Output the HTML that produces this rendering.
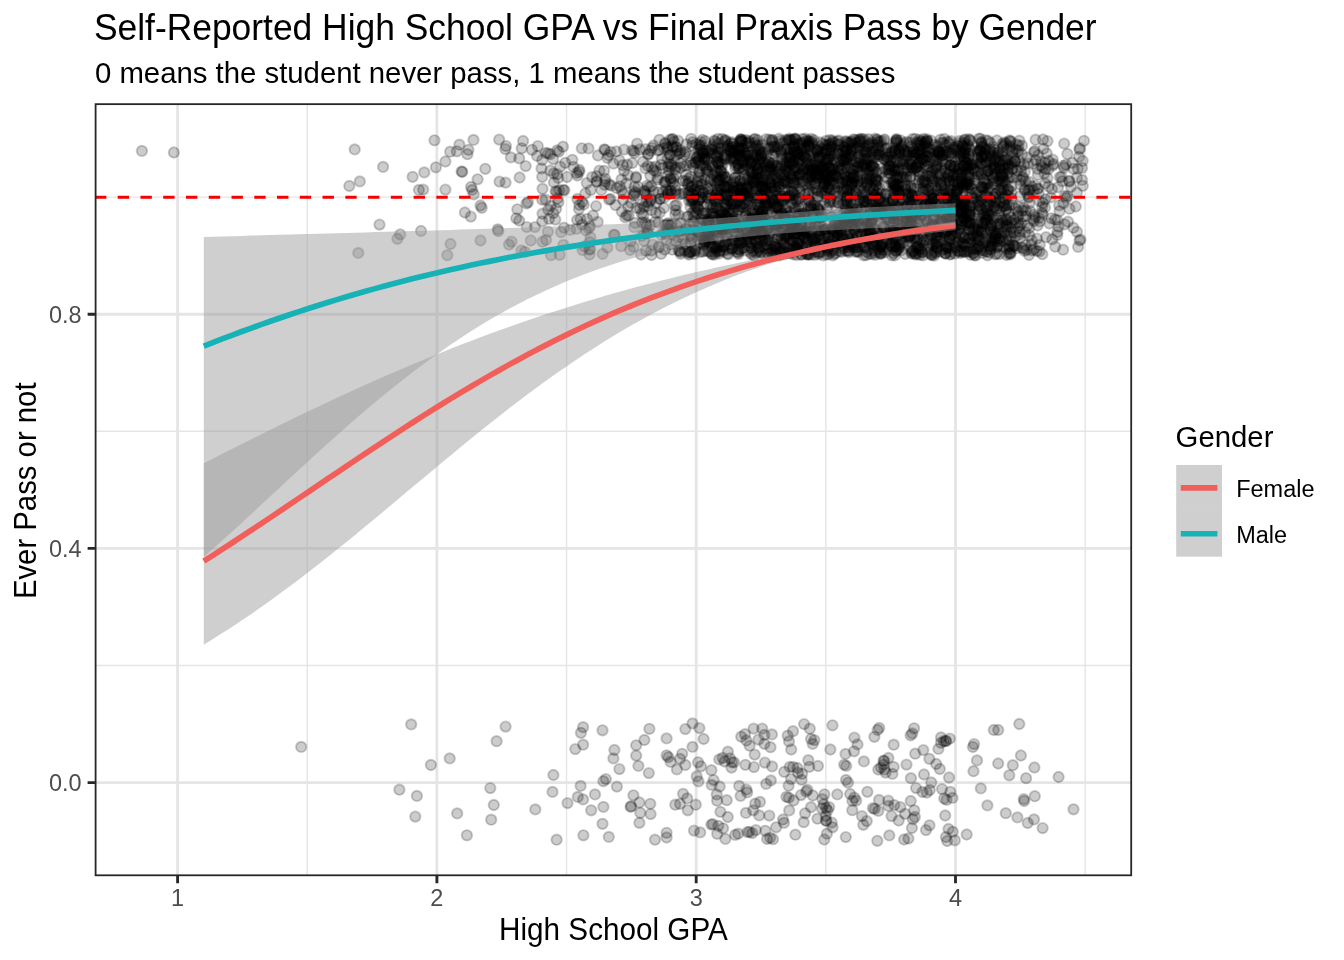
<!DOCTYPE html><html><head><meta charset="utf-8"><style>html,body{margin:0;padding:0;background:#fff;} #w{will-change:transform;width:1344px;height:960px;}svg{display:block;font-family:"Liberation Sans",sans-serif;}</style></head><body><div id="w"><svg width="1344" height="960" viewBox="0 0 1344 960"><defs><clipPath id="pc"><rect x="94.95" y="103.4" width="1036.95" height="772.40"/></clipPath></defs><rect width="1344" height="960" fill="#fff"/><text transform="translate(93.9,39.8) scale(1,1.04)" font-size="35.4" fill="#000">Self-Reported High School GPA vs Final Praxis Pass by Gender</text><text transform="translate(94.95,83) scale(1,1.03)" font-size="29.33" fill="#000">0 means the student never pass, 1 means the student passes</text><g clip-path="url(#pc)"><path d="M94.95,665.50H1131.9M94.95,431.30H1131.9M94.95,197.10H1131.9M307.25,103.4V875.8M566.55,103.4V875.8M825.85,103.4V875.8M1085.15,103.4V875.8" stroke="#E5E5E5" stroke-width="1.42" fill="none"/><path d="M94.95,782.60H1131.9M94.95,548.40H1131.9M94.95,314.20H1131.9M177.60,103.4V875.8M436.90,103.4V875.8M696.20,103.4V875.8M955.50,103.4V875.8" stroke="#E5E5E5" stroke-width="2.85" fill="none"/><g fill="#000" fill-opacity="0.2" stroke="#000" stroke-opacity="0.2" stroke-width="1.89"><circle cx="993.6" cy="197.4" r="5.21"/><circle cx="815.6" cy="225.8" r="5.21"/><circle cx="851.7" cy="223.3" r="5.21"/><circle cx="733.9" cy="187.1" r="5.21"/><circle cx="771.8" cy="163.7" r="5.21"/><circle cx="869.3" cy="231.3" r="5.21"/><circle cx="922.5" cy="792.0" r="5.21"/><circle cx="872.6" cy="175.1" r="5.21"/><circle cx="727.8" cy="146.4" r="5.21"/><circle cx="674.7" cy="205.7" r="5.21"/><circle cx="835.4" cy="223.7" r="5.21"/><circle cx="776.5" cy="196.1" r="5.21"/><circle cx="889.3" cy="235.0" r="5.21"/><circle cx="866.8" cy="159.7" r="5.21"/><circle cx="939.2" cy="151.5" r="5.21"/><circle cx="761.1" cy="193.4" r="5.21"/><circle cx="880.8" cy="209.8" r="5.21"/><circle cx="925.0" cy="204.5" r="5.21"/><circle cx="725.5" cy="140.1" r="5.21"/><circle cx="706.9" cy="170.1" r="5.21"/><circle cx="861.2" cy="226.9" r="5.21"/><circle cx="980.8" cy="163.9" r="5.21"/><circle cx="795.0" cy="222.1" r="5.21"/><circle cx="941.4" cy="142.8" r="5.21"/><circle cx="742.6" cy="230.9" r="5.21"/><circle cx="783.6" cy="229.6" r="5.21"/><circle cx="876.2" cy="181.8" r="5.21"/><circle cx="808.3" cy="760.2" r="5.21"/><circle cx="597.7" cy="221.9" r="5.21"/><circle cx="863.6" cy="255.4" r="5.21"/><circle cx="701.1" cy="236.6" r="5.21"/><circle cx="766.1" cy="166.7" r="5.21"/><circle cx="860.3" cy="246.9" r="5.21"/><circle cx="910.4" cy="200.0" r="5.21"/><circle cx="653.3" cy="191.1" r="5.21"/><circle cx="839.0" cy="181.5" r="5.21"/><circle cx="738.8" cy="147.7" r="5.21"/><circle cx="666.6" cy="832.8" r="5.21"/><circle cx="751.6" cy="172.3" r="5.21"/><circle cx="878.4" cy="148.0" r="5.21"/><circle cx="770.1" cy="167.6" r="5.21"/><circle cx="999.5" cy="167.9" r="5.21"/><circle cx="609.1" cy="199.7" r="5.21"/><circle cx="944.8" cy="235.8" r="5.21"/><circle cx="951.7" cy="194.8" r="5.21"/><circle cx="962.6" cy="242.5" r="5.21"/><circle cx="694.1" cy="253.9" r="5.21"/><circle cx="605.9" cy="779.1" r="5.21"/><circle cx="843.0" cy="204.2" r="5.21"/><circle cx="970.2" cy="238.8" r="5.21"/><circle cx="849.2" cy="242.9" r="5.21"/><circle cx="981.3" cy="173.7" r="5.21"/><circle cx="805.7" cy="183.6" r="5.21"/><circle cx="879.0" cy="198.8" r="5.21"/><circle cx="570.2" cy="229.9" r="5.21"/><circle cx="696.6" cy="156.7" r="5.21"/><circle cx="889.0" cy="217.8" r="5.21"/><circle cx="893.3" cy="157.2" r="5.21"/><circle cx="573.4" cy="166.9" r="5.21"/><circle cx="688.8" cy="182.1" r="5.21"/><circle cx="719.3" cy="759.4" r="5.21"/><circle cx="806.3" cy="153.4" r="5.21"/><circle cx="749.6" cy="142.7" r="5.21"/><circle cx="677.2" cy="151.0" r="5.21"/><circle cx="695.1" cy="205.9" r="5.21"/><circle cx="749.9" cy="167.1" r="5.21"/><circle cx="1007.9" cy="158.6" r="5.21"/><circle cx="907.4" cy="213.1" r="5.21"/><circle cx="896.0" cy="236.5" r="5.21"/><circle cx="796.8" cy="199.3" r="5.21"/><circle cx="1034.8" cy="796.2" r="5.21"/><circle cx="696.2" cy="212.4" r="5.21"/><circle cx="898.0" cy="185.5" r="5.21"/><circle cx="1007.9" cy="172.7" r="5.21"/><circle cx="988.7" cy="204.8" r="5.21"/><circle cx="435.9" cy="167.3" r="5.21"/><circle cx="778.4" cy="148.8" r="5.21"/><circle cx="745.0" cy="153.1" r="5.21"/><circle cx="822.6" cy="244.1" r="5.21"/><circle cx="899.7" cy="177.9" r="5.21"/><circle cx="741.8" cy="186.6" r="5.21"/><circle cx="944.5" cy="190.0" r="5.21"/><circle cx="668.1" cy="194.2" r="5.21"/><circle cx="732.6" cy="247.9" r="5.21"/><circle cx="965.7" cy="183.3" r="5.21"/><circle cx="911.8" cy="253.6" r="5.21"/><circle cx="918.6" cy="246.6" r="5.21"/><circle cx="624.0" cy="149.6" r="5.21"/><circle cx="864.7" cy="247.5" r="5.21"/><circle cx="988.6" cy="203.0" r="5.21"/><circle cx="743.4" cy="195.2" r="5.21"/><circle cx="800.5" cy="224.2" r="5.21"/><circle cx="1002.9" cy="198.2" r="5.21"/><circle cx="795.8" cy="208.7" r="5.21"/><circle cx="765.5" cy="189.7" r="5.21"/><circle cx="599.4" cy="170.6" r="5.21"/><circle cx="549.1" cy="218.8" r="5.21"/><circle cx="886.8" cy="147.8" r="5.21"/><circle cx="904.6" cy="152.2" r="5.21"/><circle cx="767.3" cy="213.3" r="5.21"/><circle cx="770.7" cy="244.6" r="5.21"/><circle cx="893.0" cy="215.1" r="5.21"/><circle cx="847.2" cy="159.6" r="5.21"/><circle cx="892.9" cy="201.0" r="5.21"/><circle cx="906.0" cy="219.6" r="5.21"/><circle cx="920.5" cy="141.9" r="5.21"/><circle cx="911.7" cy="251.0" r="5.21"/><circle cx="832.9" cy="159.5" r="5.21"/><circle cx="937.4" cy="189.3" r="5.21"/><circle cx="961.4" cy="183.6" r="5.21"/><circle cx="784.6" cy="223.6" r="5.21"/><circle cx="659.1" cy="247.3" r="5.21"/><circle cx="981.1" cy="198.9" r="5.21"/><circle cx="988.3" cy="170.6" r="5.21"/><circle cx="953.9" cy="215.0" r="5.21"/><circle cx="764.4" cy="203.5" r="5.21"/><circle cx="849.4" cy="142.8" r="5.21"/><circle cx="995.4" cy="193.8" r="5.21"/><circle cx="864.5" cy="149.8" r="5.21"/><circle cx="813.2" cy="213.2" r="5.21"/><circle cx="965.1" cy="237.9" r="5.21"/><circle cx="996.2" cy="234.0" r="5.21"/><circle cx="1036.8" cy="251.0" r="5.21"/><circle cx="916.5" cy="166.8" r="5.21"/><circle cx="848.0" cy="782.6" r="5.21"/><circle cx="957.0" cy="190.3" r="5.21"/><circle cx="985.4" cy="239.2" r="5.21"/><circle cx="717.2" cy="192.3" r="5.21"/><circle cx="639.4" cy="822.8" r="5.21"/><circle cx="647.4" cy="233.3" r="5.21"/><circle cx="955.9" cy="211.5" r="5.21"/><circle cx="548.0" cy="153.4" r="5.21"/><circle cx="678.8" cy="231.6" r="5.21"/><circle cx="902.5" cy="145.4" r="5.21"/><circle cx="579.4" cy="170.0" r="5.21"/><circle cx="778.5" cy="235.5" r="5.21"/><circle cx="732.8" cy="156.4" r="5.21"/><circle cx="738.3" cy="209.9" r="5.21"/><circle cx="803.6" cy="235.1" r="5.21"/><circle cx="812.3" cy="144.4" r="5.21"/><circle cx="893.7" cy="184.1" r="5.21"/><circle cx="691.9" cy="200.0" r="5.21"/><circle cx="702.4" cy="139.8" r="5.21"/><circle cx="876.0" cy="155.8" r="5.21"/><circle cx="822.0" cy="179.5" r="5.21"/><circle cx="982.3" cy="232.2" r="5.21"/><circle cx="1006.3" cy="248.9" r="5.21"/><circle cx="863.6" cy="245.4" r="5.21"/><circle cx="910.4" cy="224.4" r="5.21"/><circle cx="613.8" cy="234.8" r="5.21"/><circle cx="848.4" cy="184.0" r="5.21"/><circle cx="971.3" cy="202.4" r="5.21"/><circle cx="853.3" cy="179.4" r="5.21"/><circle cx="869.4" cy="189.2" r="5.21"/><circle cx="964.7" cy="150.8" r="5.21"/><circle cx="1051.2" cy="218.3" r="5.21"/><circle cx="809.6" cy="183.1" r="5.21"/><circle cx="895.9" cy="142.9" r="5.21"/><circle cx="824.9" cy="241.3" r="5.21"/><circle cx="774.7" cy="224.2" r="5.21"/><circle cx="738.5" cy="201.3" r="5.21"/><circle cx="945.8" cy="246.0" r="5.21"/><circle cx="1065.8" cy="164.6" r="5.21"/><circle cx="987.7" cy="184.0" r="5.21"/><circle cx="816.3" cy="190.0" r="5.21"/><circle cx="957.4" cy="242.6" r="5.21"/><circle cx="525.7" cy="166.1" r="5.21"/><circle cx="621.7" cy="190.4" r="5.21"/><circle cx="819.6" cy="156.9" r="5.21"/><circle cx="846.3" cy="198.0" r="5.21"/><circle cx="1059.2" cy="205.3" r="5.21"/><circle cx="947.2" cy="841.0" r="5.21"/><circle cx="905.8" cy="190.0" r="5.21"/><circle cx="825.5" cy="192.4" r="5.21"/><circle cx="862.1" cy="171.5" r="5.21"/><circle cx="445.4" cy="189.6" r="5.21"/><circle cx="859.9" cy="139.0" r="5.21"/><circle cx="816.5" cy="246.2" r="5.21"/><circle cx="860.6" cy="162.5" r="5.21"/><circle cx="842.8" cy="246.0" r="5.21"/><circle cx="790.4" cy="226.2" r="5.21"/><circle cx="946.2" cy="204.3" r="5.21"/><circle cx="985.5" cy="231.1" r="5.21"/><circle cx="763.3" cy="221.8" r="5.21"/><circle cx="1055.3" cy="246.7" r="5.21"/><circle cx="756.2" cy="252.9" r="5.21"/><circle cx="831.6" cy="228.8" r="5.21"/><circle cx="869.1" cy="176.1" r="5.21"/><circle cx="691.0" cy="187.1" r="5.21"/><circle cx="950.4" cy="218.7" r="5.21"/><circle cx="698.5" cy="232.3" r="5.21"/><circle cx="901.2" cy="191.8" r="5.21"/><circle cx="885.6" cy="772.6" r="5.21"/><circle cx="693.9" cy="217.0" r="5.21"/><circle cx="826.3" cy="214.5" r="5.21"/><circle cx="825.2" cy="246.3" r="5.21"/><circle cx="977.9" cy="174.8" r="5.21"/><circle cx="876.7" cy="211.1" r="5.21"/><circle cx="764.4" cy="234.7" r="5.21"/><circle cx="610.6" cy="151.9" r="5.21"/><circle cx="958.8" cy="213.1" r="5.21"/><circle cx="937.2" cy="235.5" r="5.21"/><circle cx="950.1" cy="227.6" r="5.21"/><circle cx="778.4" cy="180.4" r="5.21"/><circle cx="994.8" cy="238.5" r="5.21"/><circle cx="734.7" cy="159.0" r="5.21"/><circle cx="889.7" cy="159.9" r="5.21"/><circle cx="953.1" cy="149.4" r="5.21"/><circle cx="670.5" cy="244.3" r="5.21"/><circle cx="1001.2" cy="176.5" r="5.21"/><circle cx="886.8" cy="239.8" r="5.21"/><circle cx="738.1" cy="249.1" r="5.21"/><circle cx="716.8" cy="251.3" r="5.21"/><circle cx="664.9" cy="249.6" r="5.21"/><circle cx="805.1" cy="238.0" r="5.21"/><circle cx="835.4" cy="176.1" r="5.21"/><circle cx="831.8" cy="239.8" r="5.21"/><circle cx="692.3" cy="237.8" r="5.21"/><circle cx="491.2" cy="819.7" r="5.21"/><circle cx="808.1" cy="200.1" r="5.21"/><circle cx="752.9" cy="159.6" r="5.21"/><circle cx="872.8" cy="164.6" r="5.21"/><circle cx="977.8" cy="231.6" r="5.21"/><circle cx="854.7" cy="219.0" r="5.21"/><circle cx="1015.4" cy="208.6" r="5.21"/><circle cx="772.1" cy="766.4" r="5.21"/><circle cx="719.5" cy="253.4" r="5.21"/><circle cx="679.5" cy="194.4" r="5.21"/><circle cx="946.8" cy="230.6" r="5.21"/><circle cx="741.0" cy="193.9" r="5.21"/><circle cx="731.8" cy="200.9" r="5.21"/><circle cx="577.3" cy="199.0" r="5.21"/><circle cx="993.7" cy="147.1" r="5.21"/><circle cx="835.1" cy="191.5" r="5.21"/><circle cx="1010.1" cy="232.9" r="5.21"/><circle cx="822.9" cy="144.0" r="5.21"/><circle cx="1005.3" cy="182.7" r="5.21"/><circle cx="913.2" cy="200.8" r="5.21"/><circle cx="506.0" cy="146.1" r="5.21"/><circle cx="1022.3" cy="210.7" r="5.21"/><circle cx="718.0" cy="152.6" r="5.21"/><circle cx="709.2" cy="151.3" r="5.21"/><circle cx="769.0" cy="203.0" r="5.21"/><circle cx="707.8" cy="196.3" r="5.21"/><circle cx="824.4" cy="794.3" r="5.21"/><circle cx="915.5" cy="166.4" r="5.21"/><circle cx="635.1" cy="192.8" r="5.21"/><circle cx="771.4" cy="166.0" r="5.21"/><circle cx="700.9" cy="766.3" r="5.21"/><circle cx="989.3" cy="215.1" r="5.21"/><circle cx="764.9" cy="238.3" r="5.21"/><circle cx="989.9" cy="154.4" r="5.21"/><circle cx="830.8" cy="143.9" r="5.21"/><circle cx="815.2" cy="213.5" r="5.21"/><circle cx="636.5" cy="207.8" r="5.21"/><circle cx="879.0" cy="249.4" r="5.21"/><circle cx="982.6" cy="223.0" r="5.21"/><circle cx="790.6" cy="227.5" r="5.21"/><circle cx="994.4" cy="206.8" r="5.21"/><circle cx="761.4" cy="215.0" r="5.21"/><circle cx="717.9" cy="229.2" r="5.21"/><circle cx="688.4" cy="184.9" r="5.21"/><circle cx="582.5" cy="250.1" r="5.21"/><circle cx="731.4" cy="157.8" r="5.21"/><circle cx="558.3" cy="178.0" r="5.21"/><circle cx="676.9" cy="769.4" r="5.21"/><circle cx="689.9" cy="191.2" r="5.21"/><circle cx="876.4" cy="241.8" r="5.21"/><circle cx="830.1" cy="153.1" r="5.21"/><circle cx="864.6" cy="196.1" r="5.21"/><circle cx="792.1" cy="140.0" r="5.21"/><circle cx="725.0" cy="140.4" r="5.21"/><circle cx="776.8" cy="225.3" r="5.21"/><circle cx="833.3" cy="170.2" r="5.21"/><circle cx="799.3" cy="187.4" r="5.21"/><circle cx="747.4" cy="204.5" r="5.21"/><circle cx="581.8" cy="148.3" r="5.21"/><circle cx="719.4" cy="215.5" r="5.21"/><circle cx="1002.3" cy="155.5" r="5.21"/><circle cx="774.2" cy="200.4" r="5.21"/><circle cx="955.0" cy="253.5" r="5.21"/><circle cx="898.9" cy="201.5" r="5.21"/><circle cx="923.3" cy="153.0" r="5.21"/><circle cx="794.4" cy="138.8" r="5.21"/><circle cx="996.6" cy="253.5" r="5.21"/><circle cx="962.7" cy="203.4" r="5.21"/><circle cx="852.6" cy="178.0" r="5.21"/><circle cx="670.6" cy="225.8" r="5.21"/><circle cx="926.6" cy="206.3" r="5.21"/><circle cx="933.2" cy="168.1" r="5.21"/><circle cx="818.4" cy="236.9" r="5.21"/><circle cx="850.8" cy="151.3" r="5.21"/><circle cx="557.6" cy="198.5" r="5.21"/><circle cx="812.2" cy="168.0" r="5.21"/><circle cx="692.6" cy="142.2" r="5.21"/><circle cx="805.8" cy="227.4" r="5.21"/><circle cx="847.0" cy="197.0" r="5.21"/><circle cx="553.7" cy="173.5" r="5.21"/><circle cx="761.7" cy="226.1" r="5.21"/><circle cx="783.2" cy="196.2" r="5.21"/><circle cx="703.9" cy="240.9" r="5.21"/><circle cx="718.8" cy="199.5" r="5.21"/><circle cx="803.6" cy="184.8" r="5.21"/><circle cx="951.8" cy="226.4" r="5.21"/><circle cx="886.4" cy="217.0" r="5.21"/><circle cx="920.3" cy="144.4" r="5.21"/><circle cx="814.5" cy="244.4" r="5.21"/><circle cx="900.5" cy="140.3" r="5.21"/><circle cx="977.7" cy="171.8" r="5.21"/><circle cx="897.8" cy="207.2" r="5.21"/><circle cx="721.9" cy="195.2" r="5.21"/><circle cx="871.3" cy="165.8" r="5.21"/><circle cx="1015.6" cy="149.6" r="5.21"/><circle cx="760.2" cy="240.5" r="5.21"/><circle cx="894.7" cy="231.7" r="5.21"/><circle cx="833.5" cy="236.3" r="5.21"/><circle cx="789.4" cy="233.6" r="5.21"/><circle cx="874.7" cy="808.9" r="5.21"/><circle cx="790.4" cy="253.1" r="5.21"/><circle cx="665.5" cy="234.1" r="5.21"/><circle cx="946.9" cy="197.9" r="5.21"/><circle cx="722.0" cy="211.5" r="5.21"/><circle cx="750.8" cy="247.9" r="5.21"/><circle cx="874.1" cy="167.4" r="5.21"/><circle cx="743.5" cy="207.9" r="5.21"/><circle cx="742.6" cy="140.6" r="5.21"/><circle cx="981.1" cy="143.0" r="5.21"/><circle cx="743.8" cy="150.1" r="5.21"/><circle cx="461.6" cy="171.4" r="5.21"/><circle cx="619.8" cy="186.3" r="5.21"/><circle cx="771.3" cy="253.4" r="5.21"/><circle cx="916.0" cy="243.2" r="5.21"/><circle cx="936.6" cy="248.6" r="5.21"/><circle cx="776.4" cy="177.4" r="5.21"/><circle cx="811.9" cy="172.8" r="5.21"/><circle cx="954.7" cy="231.6" r="5.21"/><circle cx="789.6" cy="162.7" r="5.21"/><circle cx="739.8" cy="250.6" r="5.21"/><circle cx="796.9" cy="232.4" r="5.21"/><circle cx="844.6" cy="146.8" r="5.21"/><circle cx="485.3" cy="168.8" r="5.21"/><circle cx="1024.2" cy="801.0" r="5.21"/><circle cx="931.8" cy="178.5" r="5.21"/><circle cx="745.4" cy="764.8" r="5.21"/><circle cx="717.3" cy="182.3" r="5.21"/><circle cx="907.5" cy="170.8" r="5.21"/><circle cx="893.3" cy="225.9" r="5.21"/><circle cx="735.4" cy="153.1" r="5.21"/><circle cx="651.3" cy="186.3" r="5.21"/><circle cx="981.6" cy="174.0" r="5.21"/><circle cx="960.4" cy="246.5" r="5.21"/><circle cx="902.8" cy="177.3" r="5.21"/><circle cx="647.2" cy="185.6" r="5.21"/><circle cx="912.3" cy="733.4" r="5.21"/><circle cx="621.8" cy="211.5" r="5.21"/><circle cx="1029.4" cy="235.4" r="5.21"/><circle cx="735.2" cy="181.6" r="5.21"/><circle cx="985.3" cy="217.3" r="5.21"/><circle cx="943.4" cy="143.0" r="5.21"/><circle cx="746.5" cy="156.0" r="5.21"/><circle cx="983.4" cy="188.5" r="5.21"/><circle cx="890.0" cy="228.0" r="5.21"/><circle cx="683.3" cy="239.2" r="5.21"/><circle cx="962.7" cy="145.9" r="5.21"/><circle cx="865.4" cy="173.9" r="5.21"/><circle cx="854.6" cy="229.8" r="5.21"/><circle cx="817.8" cy="208.6" r="5.21"/><circle cx="891.5" cy="816.1" r="5.21"/><circle cx="680.0" cy="152.6" r="5.21"/><circle cx="823.7" cy="186.8" r="5.21"/><circle cx="547.9" cy="231.7" r="5.21"/><circle cx="1008.2" cy="189.3" r="5.21"/><circle cx="796.5" cy="248.5" r="5.21"/><circle cx="818.4" cy="155.2" r="5.21"/><circle cx="909.8" cy="237.3" r="5.21"/><circle cx="827.4" cy="187.5" r="5.21"/><circle cx="990.9" cy="168.2" r="5.21"/><circle cx="646.4" cy="224.6" r="5.21"/><circle cx="718.4" cy="151.7" r="5.21"/><circle cx="1042.6" cy="828.1" r="5.21"/><circle cx="801.9" cy="142.8" r="5.21"/><circle cx="715.9" cy="249.2" r="5.21"/><circle cx="918.2" cy="195.7" r="5.21"/><circle cx="855.3" cy="192.0" r="5.21"/><circle cx="752.6" cy="174.2" r="5.21"/><circle cx="704.1" cy="239.4" r="5.21"/><circle cx="590.7" cy="190.1" r="5.21"/><circle cx="661.2" cy="253.8" r="5.21"/><circle cx="741.1" cy="225.8" r="5.21"/><circle cx="567.5" cy="803.1" r="5.21"/><circle cx="860.8" cy="233.3" r="5.21"/><circle cx="773.9" cy="246.4" r="5.21"/><circle cx="845.7" cy="150.9" r="5.21"/><circle cx="799.2" cy="213.8" r="5.21"/><circle cx="988.7" cy="238.7" r="5.21"/><circle cx="715.9" cy="195.1" r="5.21"/><circle cx="932.6" cy="198.3" r="5.21"/><circle cx="707.1" cy="204.3" r="5.21"/><circle cx="926.7" cy="156.7" r="5.21"/><circle cx="807.9" cy="253.4" r="5.21"/><circle cx="826.1" cy="181.1" r="5.21"/><circle cx="810.6" cy="166.9" r="5.21"/><circle cx="894.4" cy="171.1" r="5.21"/><circle cx="717.4" cy="172.0" r="5.21"/><circle cx="762.4" cy="228.6" r="5.21"/><circle cx="781.9" cy="196.3" r="5.21"/><circle cx="812.7" cy="218.1" r="5.21"/><circle cx="852.2" cy="182.9" r="5.21"/><circle cx="652.5" cy="244.6" r="5.21"/><circle cx="695.8" cy="804.7" r="5.21"/><circle cx="945.6" cy="198.3" r="5.21"/><circle cx="714.7" cy="254.6" r="5.21"/><circle cx="1008.8" cy="245.1" r="5.21"/><circle cx="1012.8" cy="765.2" r="5.21"/><circle cx="1020.8" cy="180.3" r="5.21"/><circle cx="741.3" cy="139.6" r="5.21"/><circle cx="871.6" cy="142.6" r="5.21"/><circle cx="722.7" cy="757.9" r="5.21"/><circle cx="864.4" cy="201.1" r="5.21"/><circle cx="993.6" cy="184.0" r="5.21"/><circle cx="873.7" cy="145.0" r="5.21"/><circle cx="848.3" cy="177.4" r="5.21"/><circle cx="882.6" cy="151.6" r="5.21"/><circle cx="882.4" cy="242.8" r="5.21"/><circle cx="892.3" cy="243.1" r="5.21"/><circle cx="925.0" cy="204.5" r="5.21"/><circle cx="1008.7" cy="253.6" r="5.21"/><circle cx="755.2" cy="803.7" r="5.21"/><circle cx="614.7" cy="234.8" r="5.21"/><circle cx="964.2" cy="218.6" r="5.21"/><circle cx="753.2" cy="182.6" r="5.21"/><circle cx="848.6" cy="154.7" r="5.21"/><circle cx="719.7" cy="786.5" r="5.21"/><circle cx="966.4" cy="167.1" r="5.21"/><circle cx="970.2" cy="184.8" r="5.21"/><circle cx="851.7" cy="141.3" r="5.21"/><circle cx="920.2" cy="240.6" r="5.21"/><circle cx="773.4" cy="225.3" r="5.21"/><circle cx="740.3" cy="193.4" r="5.21"/><circle cx="742.2" cy="141.4" r="5.21"/><circle cx="997.7" cy="246.5" r="5.21"/><circle cx="976.2" cy="249.2" r="5.21"/><circle cx="974.1" cy="744.1" r="5.21"/><circle cx="813.9" cy="209.1" r="5.21"/><circle cx="956.3" cy="190.8" r="5.21"/><circle cx="887.6" cy="169.2" r="5.21"/><circle cx="894.2" cy="218.6" r="5.21"/><circle cx="944.2" cy="190.0" r="5.21"/><circle cx="809.0" cy="216.2" r="5.21"/><circle cx="762.4" cy="241.7" r="5.21"/><circle cx="774.2" cy="207.2" r="5.21"/><circle cx="966.2" cy="252.1" r="5.21"/><circle cx="799.2" cy="198.4" r="5.21"/><circle cx="823.7" cy="175.0" r="5.21"/><circle cx="664.8" cy="182.6" r="5.21"/><circle cx="941.4" cy="185.5" r="5.21"/><circle cx="980.9" cy="175.2" r="5.21"/><circle cx="803.3" cy="237.9" r="5.21"/><circle cx="801.8" cy="150.5" r="5.21"/><circle cx="839.6" cy="183.1" r="5.21"/><circle cx="930.6" cy="234.8" r="5.21"/><circle cx="931.8" cy="255.1" r="5.21"/><circle cx="915.4" cy="138.8" r="5.21"/><circle cx="899.9" cy="161.7" r="5.21"/><circle cx="805.8" cy="158.7" r="5.21"/><circle cx="887.3" cy="157.8" r="5.21"/><circle cx="972.6" cy="198.7" r="5.21"/><circle cx="812.3" cy="238.4" r="5.21"/><circle cx="773.0" cy="839.2" r="5.21"/><circle cx="876.8" cy="192.6" r="5.21"/><circle cx="960.1" cy="152.7" r="5.21"/><circle cx="988.2" cy="171.7" r="5.21"/><circle cx="916.2" cy="167.7" r="5.21"/><circle cx="866.2" cy="234.8" r="5.21"/><circle cx="765.3" cy="193.4" r="5.21"/><circle cx="713.0" cy="213.7" r="5.21"/><circle cx="748.5" cy="201.7" r="5.21"/><circle cx="860.8" cy="185.3" r="5.21"/><circle cx="999.8" cy="189.4" r="5.21"/><circle cx="787.8" cy="171.1" r="5.21"/><circle cx="866.4" cy="202.5" r="5.21"/><circle cx="967.8" cy="251.2" r="5.21"/><circle cx="858.3" cy="162.7" r="5.21"/><circle cx="955.9" cy="166.3" r="5.21"/><circle cx="979.4" cy="240.0" r="5.21"/><circle cx="732.9" cy="211.8" r="5.21"/><circle cx="788.6" cy="172.0" r="5.21"/><circle cx="822.4" cy="799.1" r="5.21"/><circle cx="907.1" cy="228.1" r="5.21"/><circle cx="556.7" cy="191.9" r="5.21"/><circle cx="772.8" cy="255.6" r="5.21"/><circle cx="913.8" cy="188.8" r="5.21"/><circle cx="887.9" cy="202.5" r="5.21"/><circle cx="945.6" cy="234.6" r="5.21"/><circle cx="973.8" cy="168.7" r="5.21"/><circle cx="972.9" cy="168.2" r="5.21"/><circle cx="694.5" cy="211.1" r="5.21"/><circle cx="869.2" cy="143.8" r="5.21"/><circle cx="750.4" cy="242.2" r="5.21"/><circle cx="739.7" cy="156.0" r="5.21"/><circle cx="870.3" cy="168.4" r="5.21"/><circle cx="904.7" cy="150.8" r="5.21"/><circle cx="770.1" cy="183.7" r="5.21"/><circle cx="682.2" cy="753.8" r="5.21"/><circle cx="857.9" cy="181.7" r="5.21"/><circle cx="806.6" cy="251.5" r="5.21"/><circle cx="942.5" cy="150.5" r="5.21"/><circle cx="903.6" cy="233.4" r="5.21"/><circle cx="926.6" cy="147.9" r="5.21"/><circle cx="882.7" cy="249.7" r="5.21"/><circle cx="989.7" cy="228.7" r="5.21"/><circle cx="807.2" cy="212.1" r="5.21"/><circle cx="779.7" cy="251.6" r="5.21"/><circle cx="797.7" cy="202.1" r="5.21"/><circle cx="978.1" cy="163.4" r="5.21"/><circle cx="964.9" cy="246.5" r="5.21"/><circle cx="847.7" cy="194.5" r="5.21"/><circle cx="837.9" cy="202.6" r="5.21"/><circle cx="1064.2" cy="143.6" r="5.21"/><circle cx="809.3" cy="226.2" r="5.21"/><circle cx="914.4" cy="155.0" r="5.21"/><circle cx="650.3" cy="803.8" r="5.21"/><circle cx="762.2" cy="182.6" r="5.21"/><circle cx="804.2" cy="232.0" r="5.21"/><circle cx="840.7" cy="161.7" r="5.21"/><circle cx="1021.1" cy="170.9" r="5.21"/><circle cx="781.5" cy="233.3" r="5.21"/><circle cx="967.4" cy="164.0" r="5.21"/><circle cx="969.4" cy="238.4" r="5.21"/><circle cx="787.4" cy="237.4" r="5.21"/><circle cx="734.2" cy="221.1" r="5.21"/><circle cx="877.7" cy="242.7" r="5.21"/><circle cx="877.7" cy="145.2" r="5.21"/><circle cx="779.4" cy="193.6" r="5.21"/><circle cx="986.3" cy="155.9" r="5.21"/><circle cx="919.4" cy="155.2" r="5.21"/><circle cx="996.5" cy="225.7" r="5.21"/><circle cx="1012.0" cy="163.1" r="5.21"/><circle cx="790.6" cy="178.7" r="5.21"/><circle cx="901.8" cy="146.3" r="5.21"/><circle cx="727.9" cy="148.2" r="5.21"/><circle cx="704.7" cy="156.5" r="5.21"/><circle cx="1008.1" cy="166.0" r="5.21"/><circle cx="912.0" cy="195.7" r="5.21"/><circle cx="776.7" cy="248.2" r="5.21"/><circle cx="858.0" cy="246.9" r="5.21"/><circle cx="780.7" cy="150.4" r="5.21"/><circle cx="849.6" cy="247.4" r="5.21"/><circle cx="897.8" cy="171.1" r="5.21"/><circle cx="769.9" cy="187.4" r="5.21"/><circle cx="925.0" cy="143.5" r="5.21"/><circle cx="858.0" cy="221.5" r="5.21"/><circle cx="803.8" cy="147.3" r="5.21"/><circle cx="1000.3" cy="203.5" r="5.21"/><circle cx="946.3" cy="172.9" r="5.21"/><circle cx="933.9" cy="220.2" r="5.21"/><circle cx="883.6" cy="764.6" r="5.21"/><circle cx="939.8" cy="769.0" r="5.21"/><circle cx="955.6" cy="147.5" r="5.21"/><circle cx="862.7" cy="151.3" r="5.21"/><circle cx="741.3" cy="242.9" r="5.21"/><circle cx="1015.7" cy="223.0" r="5.21"/><circle cx="955.4" cy="246.8" r="5.21"/><circle cx="925.4" cy="232.8" r="5.21"/><circle cx="754.4" cy="156.8" r="5.21"/><circle cx="1076.9" cy="192.6" r="5.21"/><circle cx="896.5" cy="140.3" r="5.21"/><circle cx="969.2" cy="164.5" r="5.21"/><circle cx="936.9" cy="212.0" r="5.21"/><circle cx="912.7" cy="195.0" r="5.21"/><circle cx="963.9" cy="153.0" r="5.21"/><circle cx="735.2" cy="834.9" r="5.21"/><circle cx="909.0" cy="220.8" r="5.21"/><circle cx="828.8" cy="159.1" r="5.21"/><circle cx="726.4" cy="176.9" r="5.21"/><circle cx="648.1" cy="154.6" r="5.21"/><circle cx="773.3" cy="147.5" r="5.21"/><circle cx="764.7" cy="205.6" r="5.21"/><circle cx="962.2" cy="155.2" r="5.21"/><circle cx="996.9" cy="160.8" r="5.21"/><circle cx="824.0" cy="233.2" r="5.21"/><circle cx="505.6" cy="726.6" r="5.21"/><circle cx="846.2" cy="209.6" r="5.21"/><circle cx="987.2" cy="218.0" r="5.21"/><circle cx="905.2" cy="186.0" r="5.21"/><circle cx="772.1" cy="200.9" r="5.21"/><circle cx="815.1" cy="238.1" r="5.21"/><circle cx="740.3" cy="188.2" r="5.21"/><circle cx="690.7" cy="235.8" r="5.21"/><circle cx="359.8" cy="181.4" r="5.21"/><circle cx="814.3" cy="237.8" r="5.21"/><circle cx="950.5" cy="221.0" r="5.21"/><circle cx="1042.3" cy="254.2" r="5.21"/><circle cx="889.5" cy="155.0" r="5.21"/><circle cx="766.1" cy="244.5" r="5.21"/><circle cx="770.1" cy="171.6" r="5.21"/><circle cx="957.3" cy="204.9" r="5.21"/><circle cx="653.7" cy="145.4" r="5.21"/><circle cx="826.5" cy="162.9" r="5.21"/><circle cx="780.3" cy="252.2" r="5.21"/><circle cx="735.4" cy="157.6" r="5.21"/><circle cx="981.2" cy="230.2" r="5.21"/><circle cx="714.7" cy="252.4" r="5.21"/><circle cx="642.2" cy="203.4" r="5.21"/><circle cx="927.8" cy="212.3" r="5.21"/><circle cx="899.3" cy="234.7" r="5.21"/><circle cx="755.5" cy="187.4" r="5.21"/><circle cx="717.4" cy="189.7" r="5.21"/><circle cx="755.9" cy="830.1" r="5.21"/><circle cx="1002.7" cy="174.3" r="5.21"/><circle cx="806.1" cy="141.6" r="5.21"/><circle cx="992.6" cy="179.0" r="5.21"/><circle cx="906.5" cy="764.6" r="5.21"/><circle cx="929.5" cy="825.3" r="5.21"/><circle cx="998.9" cy="179.6" r="5.21"/><circle cx="981.5" cy="187.6" r="5.21"/><circle cx="614.4" cy="750.0" r="5.21"/><circle cx="783.9" cy="822.9" r="5.21"/><circle cx="675.8" cy="147.1" r="5.21"/><circle cx="964.5" cy="251.4" r="5.21"/><circle cx="686.4" cy="144.3" r="5.21"/><circle cx="783.8" cy="176.3" r="5.21"/><circle cx="756.5" cy="227.3" r="5.21"/><circle cx="924.0" cy="774.5" r="5.21"/><circle cx="835.8" cy="192.7" r="5.21"/><circle cx="902.0" cy="204.2" r="5.21"/><circle cx="955.7" cy="161.8" r="5.21"/><circle cx="884.0" cy="140.6" r="5.21"/><circle cx="809.8" cy="141.0" r="5.21"/><circle cx="775.6" cy="189.8" r="5.21"/><circle cx="1005.9" cy="143.5" r="5.21"/><circle cx="848.7" cy="252.3" r="5.21"/><circle cx="981.2" cy="199.9" r="5.21"/><circle cx="913.5" cy="229.8" r="5.21"/><circle cx="920.0" cy="254.9" r="5.21"/><circle cx="141.9" cy="150.9" r="5.21"/><circle cx="1064.8" cy="195.9" r="5.21"/><circle cx="671.1" cy="164.3" r="5.21"/><circle cx="765.2" cy="255.0" r="5.21"/><circle cx="871.1" cy="155.4" r="5.21"/><circle cx="967.4" cy="176.0" r="5.21"/><circle cx="449.7" cy="758.4" r="5.21"/><circle cx="983.6" cy="155.4" r="5.21"/><circle cx="867.6" cy="147.6" r="5.21"/><circle cx="785.6" cy="217.9" r="5.21"/><circle cx="628.1" cy="175.2" r="5.21"/><circle cx="996.7" cy="208.7" r="5.21"/><circle cx="685.3" cy="729.1" r="5.21"/><circle cx="1044.4" cy="173.3" r="5.21"/><circle cx="788.9" cy="195.6" r="5.21"/><circle cx="590.2" cy="249.3" r="5.21"/><circle cx="648.2" cy="154.0" r="5.21"/><circle cx="732.2" cy="214.0" r="5.21"/><circle cx="897.0" cy="200.6" r="5.21"/><circle cx="778.4" cy="224.1" r="5.21"/><circle cx="939.4" cy="179.7" r="5.21"/><circle cx="1077.8" cy="168.8" r="5.21"/><circle cx="847.1" cy="169.4" r="5.21"/><circle cx="838.0" cy="237.5" r="5.21"/><circle cx="1016.3" cy="176.9" r="5.21"/><circle cx="966.5" cy="206.9" r="5.21"/><circle cx="783.4" cy="214.4" r="5.21"/><circle cx="1043.5" cy="148.7" r="5.21"/><circle cx="839.4" cy="159.7" r="5.21"/><circle cx="972.9" cy="747.0" r="5.21"/><circle cx="911.6" cy="219.3" r="5.21"/><circle cx="908.3" cy="196.3" r="5.21"/><circle cx="845.5" cy="753.9" r="5.21"/><circle cx="870.8" cy="213.7" r="5.21"/><circle cx="809.7" cy="170.2" r="5.21"/><circle cx="498.3" cy="231.2" r="5.21"/><circle cx="887.5" cy="178.3" r="5.21"/><circle cx="736.3" cy="223.4" r="5.21"/><circle cx="701.3" cy="218.4" r="5.21"/><circle cx="930.8" cy="204.2" r="5.21"/><circle cx="967.6" cy="144.6" r="5.21"/><circle cx="736.3" cy="146.3" r="5.21"/><circle cx="815.0" cy="188.1" r="5.21"/><circle cx="978.3" cy="229.2" r="5.21"/><circle cx="1029.2" cy="203.4" r="5.21"/><circle cx="878.0" cy="190.0" r="5.21"/><circle cx="718.5" cy="164.1" r="5.21"/><circle cx="854.1" cy="176.6" r="5.21"/><circle cx="456.8" cy="151.3" r="5.21"/><circle cx="870.2" cy="198.9" r="5.21"/><circle cx="893.7" cy="209.6" r="5.21"/><circle cx="902.5" cy="161.1" r="5.21"/><circle cx="964.7" cy="203.8" r="5.21"/><circle cx="968.7" cy="237.9" r="5.21"/><circle cx="836.2" cy="176.0" r="5.21"/><circle cx="567.0" cy="177.0" r="5.21"/><circle cx="726.9" cy="204.7" r="5.21"/><circle cx="944.2" cy="198.5" r="5.21"/><circle cx="1002.5" cy="180.9" r="5.21"/><circle cx="703.0" cy="153.9" r="5.21"/><circle cx="961.7" cy="197.1" r="5.21"/><circle cx="797.0" cy="221.0" r="5.21"/><circle cx="984.4" cy="152.4" r="5.21"/><circle cx="874.4" cy="736.8" r="5.21"/><circle cx="977.9" cy="224.4" r="5.21"/><circle cx="786.2" cy="247.1" r="5.21"/><circle cx="765.7" cy="186.1" r="5.21"/><circle cx="1003.9" cy="156.9" r="5.21"/><circle cx="932.1" cy="225.4" r="5.21"/><circle cx="922.7" cy="234.0" r="5.21"/><circle cx="879.4" cy="149.9" r="5.21"/><circle cx="789.1" cy="154.8" r="5.21"/><circle cx="961.9" cy="184.5" r="5.21"/><circle cx="825.3" cy="229.6" r="5.21"/><circle cx="795.5" cy="232.8" r="5.21"/><circle cx="956.9" cy="190.8" r="5.21"/><circle cx="727.4" cy="218.0" r="5.21"/><circle cx="732.0" cy="237.1" r="5.21"/><circle cx="770.9" cy="185.3" r="5.21"/><circle cx="609.3" cy="184.5" r="5.21"/><circle cx="826.5" cy="190.6" r="5.21"/><circle cx="828.0" cy="236.5" r="5.21"/><circle cx="801.0" cy="227.5" r="5.21"/><circle cx="977.9" cy="191.6" r="5.21"/><circle cx="1022.7" cy="176.9" r="5.21"/><circle cx="776.6" cy="196.1" r="5.21"/><circle cx="980.9" cy="230.0" r="5.21"/><circle cx="931.3" cy="782.5" r="5.21"/><circle cx="828.0" cy="158.8" r="5.21"/><circle cx="951.6" cy="235.0" r="5.21"/><circle cx="699.1" cy="144.6" r="5.21"/><circle cx="727.5" cy="195.3" r="5.21"/><circle cx="1069.1" cy="180.8" r="5.21"/><circle cx="421.0" cy="231.0" r="5.21"/><circle cx="781.0" cy="210.3" r="5.21"/><circle cx="910.5" cy="235.8" r="5.21"/><circle cx="965.2" cy="168.8" r="5.21"/><circle cx="904.2" cy="143.5" r="5.21"/><circle cx="1072.4" cy="162.8" r="5.21"/><circle cx="927.5" cy="170.0" r="5.21"/><circle cx="884.3" cy="760.9" r="5.21"/><circle cx="990.1" cy="150.4" r="5.21"/><circle cx="824.9" cy="152.4" r="5.21"/><circle cx="994.5" cy="166.8" r="5.21"/><circle cx="1061.5" cy="176.9" r="5.21"/><circle cx="745.7" cy="215.4" r="5.21"/><circle cx="713.6" cy="780.1" r="5.21"/><circle cx="1057.4" cy="220.1" r="5.21"/><circle cx="993.3" cy="219.5" r="5.21"/><circle cx="1082.7" cy="160.9" r="5.21"/><circle cx="995.4" cy="168.5" r="5.21"/><circle cx="716.2" cy="229.9" r="5.21"/><circle cx="747.8" cy="152.9" r="5.21"/><circle cx="802.1" cy="773.8" r="5.21"/><circle cx="1037.0" cy="238.6" r="5.21"/><circle cx="644.7" cy="191.3" r="5.21"/><circle cx="936.7" cy="164.2" r="5.21"/><circle cx="801.0" cy="154.3" r="5.21"/><circle cx="756.1" cy="240.9" r="5.21"/><circle cx="978.1" cy="151.8" r="5.21"/><circle cx="976.4" cy="238.1" r="5.21"/><circle cx="823.1" cy="168.7" r="5.21"/><circle cx="850.1" cy="794.0" r="5.21"/><circle cx="814.9" cy="183.1" r="5.21"/><circle cx="1041.2" cy="165.4" r="5.21"/><circle cx="757.1" cy="188.8" r="5.21"/><circle cx="635.0" cy="223.0" r="5.21"/><circle cx="842.0" cy="237.5" r="5.21"/><circle cx="717.4" cy="203.2" r="5.21"/><circle cx="952.0" cy="222.1" r="5.21"/><circle cx="843.1" cy="159.8" r="5.21"/><circle cx="725.8" cy="187.3" r="5.21"/><circle cx="932.8" cy="181.7" r="5.21"/><circle cx="811.0" cy="807.2" r="5.21"/><circle cx="819.6" cy="148.7" r="5.21"/><circle cx="993.4" cy="169.3" r="5.21"/><circle cx="823.5" cy="230.4" r="5.21"/><circle cx="881.2" cy="253.1" r="5.21"/><circle cx="657.8" cy="150.6" r="5.21"/><circle cx="412.6" cy="176.8" r="5.21"/><circle cx="855.4" cy="219.1" r="5.21"/><circle cx="866.8" cy="182.5" r="5.21"/><circle cx="993.9" cy="163.4" r="5.21"/><circle cx="605.0" cy="150.0" r="5.21"/><circle cx="960.8" cy="172.1" r="5.21"/><circle cx="979.1" cy="210.3" r="5.21"/><circle cx="774.2" cy="169.5" r="5.21"/><circle cx="720.9" cy="189.1" r="5.21"/><circle cx="784.8" cy="168.9" r="5.21"/><circle cx="890.1" cy="235.3" r="5.21"/><circle cx="923.4" cy="147.1" r="5.21"/><circle cx="668.3" cy="147.7" r="5.21"/><circle cx="854.6" cy="231.4" r="5.21"/><circle cx="708.9" cy="232.3" r="5.21"/><circle cx="931.0" cy="140.6" r="5.21"/><circle cx="956.5" cy="200.5" r="5.21"/><circle cx="832.3" cy="142.0" r="5.21"/><circle cx="757.1" cy="195.1" r="5.21"/><circle cx="985.7" cy="164.3" r="5.21"/><circle cx="557.1" cy="150.3" r="5.21"/><circle cx="887.4" cy="219.7" r="5.21"/><circle cx="789.3" cy="152.3" r="5.21"/><circle cx="966.3" cy="162.5" r="5.21"/><circle cx="944.6" cy="163.9" r="5.21"/><circle cx="973.5" cy="235.8" r="5.21"/><circle cx="711.6" cy="153.4" r="5.21"/><circle cx="767.1" cy="839.0" r="5.21"/><circle cx="708.5" cy="219.2" r="5.21"/><circle cx="698.6" cy="160.3" r="5.21"/><circle cx="865.8" cy="207.3" r="5.21"/><circle cx="904.8" cy="236.6" r="5.21"/><circle cx="926.9" cy="240.0" r="5.21"/><circle cx="978.5" cy="212.0" r="5.21"/><circle cx="969.3" cy="207.2" r="5.21"/><circle cx="1006.4" cy="208.5" r="5.21"/><circle cx="750.4" cy="162.2" r="5.21"/><circle cx="714.4" cy="247.5" r="5.21"/><circle cx="852.8" cy="208.7" r="5.21"/><circle cx="903.6" cy="207.1" r="5.21"/><circle cx="949.7" cy="180.0" r="5.21"/><circle cx="962.2" cy="177.7" r="5.21"/><circle cx="851.6" cy="155.3" r="5.21"/><circle cx="975.4" cy="224.2" r="5.21"/><circle cx="898.4" cy="248.9" r="5.21"/><circle cx="786.4" cy="149.5" r="5.21"/><circle cx="710.2" cy="237.9" r="5.21"/><circle cx="793.1" cy="766.9" r="5.21"/><circle cx="878.0" cy="207.8" r="5.21"/><circle cx="885.0" cy="193.9" r="5.21"/><circle cx="851.4" cy="150.8" r="5.21"/><circle cx="969.0" cy="139.1" r="5.21"/><circle cx="996.2" cy="233.4" r="5.21"/><circle cx="1003.0" cy="146.5" r="5.21"/><circle cx="725.5" cy="215.5" r="5.21"/><circle cx="584.5" cy="246.3" r="5.21"/><circle cx="865.5" cy="167.3" r="5.21"/><circle cx="970.2" cy="194.2" r="5.21"/><circle cx="949.1" cy="155.7" r="5.21"/><circle cx="877.2" cy="233.1" r="5.21"/><circle cx="876.8" cy="245.1" r="5.21"/><circle cx="891.9" cy="255.4" r="5.21"/><circle cx="824.4" cy="193.5" r="5.21"/><circle cx="949.4" cy="153.1" r="5.21"/><circle cx="715.8" cy="172.4" r="5.21"/><circle cx="813.9" cy="140.1" r="5.21"/><circle cx="952.3" cy="153.4" r="5.21"/><circle cx="881.3" cy="146.2" r="5.21"/><circle cx="757.6" cy="216.7" r="5.21"/><circle cx="714.9" cy="141.7" r="5.21"/><circle cx="947.2" cy="246.6" r="5.21"/><circle cx="379.5" cy="224.6" r="5.21"/><circle cx="934.1" cy="253.4" r="5.21"/><circle cx="781.9" cy="183.7" r="5.21"/><circle cx="789.1" cy="216.3" r="5.21"/><circle cx="1069.5" cy="181.6" r="5.21"/><circle cx="791.9" cy="214.8" r="5.21"/><circle cx="941.6" cy="155.6" r="5.21"/><circle cx="762.7" cy="196.7" r="5.21"/><circle cx="973.5" cy="228.3" r="5.21"/><circle cx="823.3" cy="230.2" r="5.21"/><circle cx="837.9" cy="244.3" r="5.21"/><circle cx="851.3" cy="142.6" r="5.21"/><circle cx="884.2" cy="228.1" r="5.21"/><circle cx="760.7" cy="195.2" r="5.21"/><circle cx="755.6" cy="219.2" r="5.21"/><circle cx="818.9" cy="234.7" r="5.21"/><circle cx="1031.8" cy="240.3" r="5.21"/><circle cx="1033.8" cy="249.4" r="5.21"/><circle cx="950.6" cy="239.6" r="5.21"/><circle cx="793.9" cy="236.1" r="5.21"/><circle cx="954.2" cy="185.2" r="5.21"/><circle cx="628.2" cy="206.7" r="5.21"/><circle cx="988.6" cy="216.3" r="5.21"/><circle cx="766.2" cy="783.9" r="5.21"/><circle cx="762.5" cy="217.0" r="5.21"/><circle cx="878.8" cy="199.0" r="5.21"/><circle cx="910.4" cy="176.7" r="5.21"/><circle cx="960.6" cy="206.8" r="5.21"/><circle cx="925.2" cy="215.7" r="5.21"/><circle cx="950.1" cy="165.3" r="5.21"/><circle cx="721.6" cy="217.4" r="5.21"/><circle cx="644.6" cy="190.9" r="5.21"/><circle cx="691.2" cy="239.3" r="5.21"/><circle cx="644.1" cy="240.8" r="5.21"/><circle cx="909.5" cy="142.6" r="5.21"/><circle cx="730.7" cy="143.5" r="5.21"/><circle cx="760.0" cy="801.9" r="5.21"/><circle cx="901.0" cy="147.9" r="5.21"/><circle cx="867.2" cy="223.8" r="5.21"/><circle cx="672.3" cy="249.7" r="5.21"/><circle cx="753.7" cy="213.9" r="5.21"/><circle cx="621.5" cy="179.4" r="5.21"/><circle cx="904.2" cy="217.9" r="5.21"/><circle cx="727.1" cy="194.8" r="5.21"/><circle cx="710.6" cy="229.8" r="5.21"/><circle cx="763.6" cy="246.4" r="5.21"/><circle cx="1025.0" cy="190.5" r="5.21"/><circle cx="1016.3" cy="144.3" r="5.21"/><circle cx="903.0" cy="231.2" r="5.21"/><circle cx="949.3" cy="142.6" r="5.21"/><circle cx="1048.6" cy="161.0" r="5.21"/><circle cx="737.9" cy="189.7" r="5.21"/><circle cx="891.5" cy="152.3" r="5.21"/><circle cx="1003.2" cy="169.0" r="5.21"/><circle cx="871.0" cy="234.6" r="5.21"/><circle cx="687.2" cy="798.4" r="5.21"/><circle cx="994.1" cy="160.9" r="5.21"/><circle cx="680.0" cy="758.8" r="5.21"/><circle cx="923.1" cy="174.7" r="5.21"/><circle cx="828.0" cy="160.0" r="5.21"/><circle cx="791.2" cy="749.5" r="5.21"/><circle cx="915.1" cy="150.3" r="5.21"/><circle cx="981.3" cy="208.5" r="5.21"/><circle cx="914.6" cy="158.5" r="5.21"/><circle cx="740.3" cy="151.3" r="5.21"/><circle cx="756.5" cy="165.0" r="5.21"/><circle cx="808.4" cy="254.2" r="5.21"/><circle cx="961.6" cy="144.8" r="5.21"/><circle cx="903.5" cy="243.0" r="5.21"/><circle cx="896.2" cy="140.7" r="5.21"/><circle cx="921.2" cy="146.1" r="5.21"/><circle cx="759.6" cy="201.2" r="5.21"/><circle cx="843.9" cy="188.3" r="5.21"/><circle cx="722.4" cy="165.3" r="5.21"/><circle cx="841.1" cy="227.8" r="5.21"/><circle cx="721.0" cy="162.0" r="5.21"/><circle cx="756.5" cy="228.9" r="5.21"/><circle cx="668.3" cy="191.3" r="5.21"/><circle cx="833.1" cy="174.4" r="5.21"/><circle cx="957.4" cy="225.0" r="5.21"/><circle cx="894.8" cy="255.4" r="5.21"/><circle cx="753.9" cy="767.1" r="5.21"/><circle cx="870.1" cy="157.2" r="5.21"/><circle cx="841.4" cy="231.7" r="5.21"/><circle cx="735.4" cy="242.7" r="5.21"/><circle cx="939.7" cy="211.9" r="5.21"/><circle cx="783.6" cy="254.4" r="5.21"/><circle cx="716.0" cy="156.0" r="5.21"/><circle cx="648.0" cy="230.6" r="5.21"/><circle cx="686.6" cy="216.9" r="5.21"/><circle cx="696.1" cy="206.2" r="5.21"/><circle cx="896.0" cy="250.3" r="5.21"/><circle cx="947.1" cy="204.1" r="5.21"/><circle cx="929.5" cy="196.4" r="5.21"/><circle cx="977.2" cy="177.0" r="5.21"/><circle cx="631.2" cy="806.2" r="5.21"/><circle cx="582.1" cy="224.6" r="5.21"/><circle cx="964.7" cy="217.7" r="5.21"/><circle cx="912.9" cy="819.2" r="5.21"/><circle cx="844.0" cy="238.0" r="5.21"/><circle cx="811.4" cy="138.8" r="5.21"/><circle cx="688.6" cy="216.5" r="5.21"/><circle cx="846.2" cy="222.5" r="5.21"/><circle cx="885.7" cy="148.8" r="5.21"/><circle cx="895.2" cy="246.7" r="5.21"/><circle cx="987.5" cy="255.3" r="5.21"/><circle cx="838.8" cy="144.5" r="5.21"/><circle cx="693.6" cy="199.5" r="5.21"/><circle cx="1006.9" cy="229.6" r="5.21"/><circle cx="820.9" cy="192.9" r="5.21"/><circle cx="834.9" cy="243.1" r="5.21"/><circle cx="950.3" cy="791.8" r="5.21"/><circle cx="707.6" cy="198.1" r="5.21"/><circle cx="791.9" cy="175.3" r="5.21"/><circle cx="934.1" cy="255.6" r="5.21"/><circle cx="934.5" cy="156.4" r="5.21"/><circle cx="892.3" cy="243.7" r="5.21"/><circle cx="793.7" cy="179.9" r="5.21"/><circle cx="649.1" cy="202.5" r="5.21"/><circle cx="827.1" cy="179.3" r="5.21"/><circle cx="944.3" cy="138.9" r="5.21"/><circle cx="641.7" cy="213.8" r="5.21"/><circle cx="810.9" cy="205.6" r="5.21"/><circle cx="871.0" cy="208.3" r="5.21"/><circle cx="466.9" cy="835.3" r="5.21"/><circle cx="716.9" cy="232.2" r="5.21"/><circle cx="682.2" cy="193.8" r="5.21"/><circle cx="849.4" cy="244.8" r="5.21"/><circle cx="613.4" cy="758.4" r="5.21"/><circle cx="890.2" cy="220.7" r="5.21"/><circle cx="893.7" cy="183.7" r="5.21"/><circle cx="929.4" cy="232.2" r="5.21"/><circle cx="970.6" cy="242.4" r="5.21"/><circle cx="806.8" cy="166.3" r="5.21"/><circle cx="956.9" cy="231.7" r="5.21"/><circle cx="911.5" cy="252.9" r="5.21"/><circle cx="678.1" cy="140.7" r="5.21"/><circle cx="903.5" cy="222.4" r="5.21"/><circle cx="822.0" cy="167.1" r="5.21"/><circle cx="786.7" cy="157.4" r="5.21"/><circle cx="827.4" cy="197.8" r="5.21"/><circle cx="808.8" cy="146.8" r="5.21"/><circle cx="991.1" cy="224.9" r="5.21"/><circle cx="807.2" cy="242.6" r="5.21"/><circle cx="1047.5" cy="178.0" r="5.21"/><circle cx="951.9" cy="229.0" r="5.21"/><circle cx="681.5" cy="243.9" r="5.21"/><circle cx="877.7" cy="214.6" r="5.21"/><circle cx="948.4" cy="210.6" r="5.21"/><circle cx="706.4" cy="224.3" r="5.21"/><circle cx="730.3" cy="150.7" r="5.21"/><circle cx="1045.2" cy="162.8" r="5.21"/><circle cx="954.6" cy="166.3" r="5.21"/><circle cx="954.0" cy="147.6" r="5.21"/><circle cx="965.1" cy="185.7" r="5.21"/><circle cx="915.1" cy="253.1" r="5.21"/><circle cx="968.9" cy="230.0" r="5.21"/><circle cx="788.9" cy="173.9" r="5.21"/><circle cx="785.6" cy="139.8" r="5.21"/><circle cx="897.6" cy="219.9" r="5.21"/><circle cx="735.7" cy="165.8" r="5.21"/><circle cx="1006.5" cy="205.3" r="5.21"/><circle cx="844.9" cy="217.3" r="5.21"/><circle cx="698.6" cy="199.7" r="5.21"/><circle cx="934.4" cy="251.2" r="5.21"/><circle cx="962.0" cy="221.0" r="5.21"/><circle cx="827.5" cy="810.3" r="5.21"/><circle cx="940.6" cy="224.5" r="5.21"/><circle cx="864.2" cy="139.2" r="5.21"/><circle cx="817.5" cy="207.8" r="5.21"/><circle cx="948.1" cy="200.8" r="5.21"/><circle cx="748.9" cy="185.1" r="5.21"/><circle cx="804.7" cy="214.4" r="5.21"/><circle cx="858.3" cy="140.0" r="5.21"/><circle cx="857.5" cy="181.7" r="5.21"/><circle cx="703.7" cy="165.7" r="5.21"/><circle cx="891.5" cy="246.4" r="5.21"/><circle cx="924.1" cy="217.0" r="5.21"/><circle cx="1014.0" cy="232.4" r="5.21"/><circle cx="772.5" cy="192.0" r="5.21"/><circle cx="936.5" cy="246.7" r="5.21"/><circle cx="978.2" cy="209.8" r="5.21"/><circle cx="721.0" cy="171.5" r="5.21"/><circle cx="805.9" cy="254.1" r="5.21"/><circle cx="899.2" cy="194.2" r="5.21"/><circle cx="809.0" cy="144.3" r="5.21"/><circle cx="766.1" cy="156.0" r="5.21"/><circle cx="760.6" cy="251.6" r="5.21"/><circle cx="989.7" cy="252.6" r="5.21"/><circle cx="763.1" cy="179.3" r="5.21"/><circle cx="808.6" cy="254.5" r="5.21"/><circle cx="878.3" cy="810.9" r="5.21"/><circle cx="866.3" cy="222.2" r="5.21"/><circle cx="872.2" cy="166.9" r="5.21"/><circle cx="685.6" cy="228.6" r="5.21"/><circle cx="900.4" cy="239.4" r="5.21"/><circle cx="900.2" cy="176.2" r="5.21"/><circle cx="935.0" cy="186.3" r="5.21"/><circle cx="837.8" cy="191.7" r="5.21"/><circle cx="691.3" cy="193.9" r="5.21"/><circle cx="843.5" cy="160.0" r="5.21"/><circle cx="630.8" cy="241.3" r="5.21"/><circle cx="961.6" cy="208.6" r="5.21"/><circle cx="782.6" cy="174.3" r="5.21"/><circle cx="767.2" cy="205.6" r="5.21"/><circle cx="907.3" cy="156.2" r="5.21"/><circle cx="700.4" cy="223.1" r="5.21"/><circle cx="978.4" cy="236.7" r="5.21"/><circle cx="899.5" cy="169.9" r="5.21"/><circle cx="759.9" cy="152.1" r="5.21"/><circle cx="732.4" cy="151.0" r="5.21"/><circle cx="1012.6" cy="168.4" r="5.21"/><circle cx="1030.2" cy="211.1" r="5.21"/><circle cx="976.4" cy="235.2" r="5.21"/><circle cx="799.5" cy="157.5" r="5.21"/><circle cx="944.8" cy="214.7" r="5.21"/><circle cx="762.4" cy="185.8" r="5.21"/><circle cx="804.1" cy="237.9" r="5.21"/><circle cx="919.4" cy="179.7" r="5.21"/><circle cx="689.3" cy="224.2" r="5.21"/><circle cx="985.4" cy="172.6" r="5.21"/><circle cx="977.7" cy="236.1" r="5.21"/><circle cx="888.9" cy="173.0" r="5.21"/><circle cx="768.8" cy="227.8" r="5.21"/><circle cx="807.4" cy="789.8" r="5.21"/><circle cx="470.8" cy="216.6" r="5.21"/><circle cx="747.6" cy="146.6" r="5.21"/><circle cx="807.4" cy="240.1" r="5.21"/><circle cx="1001.7" cy="192.8" r="5.21"/><circle cx="669.0" cy="163.5" r="5.21"/><circle cx="686.2" cy="174.7" r="5.21"/><circle cx="966.5" cy="217.3" r="5.21"/><circle cx="692.8" cy="164.4" r="5.21"/><circle cx="974.6" cy="163.6" r="5.21"/><circle cx="851.3" cy="185.2" r="5.21"/><circle cx="981.4" cy="201.3" r="5.21"/><circle cx="788.7" cy="167.0" r="5.21"/><circle cx="815.3" cy="238.9" r="5.21"/><circle cx="705.7" cy="230.8" r="5.21"/><circle cx="1052.7" cy="159.6" r="5.21"/><circle cx="798.7" cy="156.6" r="5.21"/><circle cx="991.6" cy="227.7" r="5.21"/><circle cx="751.3" cy="146.5" r="5.21"/><circle cx="926.8" cy="792.6" r="5.21"/><circle cx="1007.7" cy="168.3" r="5.21"/><circle cx="991.9" cy="211.1" r="5.21"/><circle cx="1029.1" cy="197.3" r="5.21"/><circle cx="883.5" cy="158.6" r="5.21"/><circle cx="759.9" cy="207.5" r="5.21"/><circle cx="914.3" cy="810.3" r="5.21"/><circle cx="945.7" cy="164.6" r="5.21"/><circle cx="883.8" cy="202.1" r="5.21"/><circle cx="952.8" cy="831.8" r="5.21"/><circle cx="912.0" cy="165.9" r="5.21"/><circle cx="727.5" cy="145.1" r="5.21"/><circle cx="1066.3" cy="197.9" r="5.21"/><circle cx="746.1" cy="164.8" r="5.21"/><circle cx="633.5" cy="246.9" r="5.21"/><circle cx="480.5" cy="205.5" r="5.21"/><circle cx="783.8" cy="248.5" r="5.21"/><circle cx="851.1" cy="169.1" r="5.21"/><circle cx="890.6" cy="152.9" r="5.21"/><circle cx="912.4" cy="216.8" r="5.21"/><circle cx="807.7" cy="232.5" r="5.21"/><circle cx="720.4" cy="811.8" r="5.21"/><circle cx="1018.8" cy="206.8" r="5.21"/><circle cx="771.9" cy="188.1" r="5.21"/><circle cx="853.9" cy="165.2" r="5.21"/><circle cx="862.4" cy="241.9" r="5.21"/><circle cx="717.6" cy="149.0" r="5.21"/><circle cx="735.3" cy="231.7" r="5.21"/><circle cx="977.2" cy="248.4" r="5.21"/><circle cx="659.9" cy="199.0" r="5.21"/><circle cx="894.8" cy="150.3" r="5.21"/><circle cx="798.3" cy="167.8" r="5.21"/><circle cx="938.2" cy="206.7" r="5.21"/><circle cx="839.0" cy="149.9" r="5.21"/><circle cx="853.9" cy="216.0" r="5.21"/><circle cx="845.4" cy="250.8" r="5.21"/><circle cx="795.4" cy="139.8" r="5.21"/><circle cx="962.5" cy="194.2" r="5.21"/><circle cx="788.8" cy="797.7" r="5.21"/><circle cx="716.1" cy="221.7" r="5.21"/><circle cx="953.6" cy="180.7" r="5.21"/><circle cx="769.0" cy="234.0" r="5.21"/><circle cx="968.8" cy="184.8" r="5.21"/><circle cx="837.3" cy="196.6" r="5.21"/><circle cx="776.5" cy="206.7" r="5.21"/><circle cx="762.6" cy="239.7" r="5.21"/><circle cx="866.7" cy="194.0" r="5.21"/><circle cx="675.6" cy="210.3" r="5.21"/><circle cx="604.1" cy="170.8" r="5.21"/><circle cx="844.4" cy="212.6" r="5.21"/><circle cx="733.7" cy="187.8" r="5.21"/><circle cx="978.3" cy="205.6" r="5.21"/><circle cx="686.2" cy="165.6" r="5.21"/><circle cx="787.2" cy="234.0" r="5.21"/><circle cx="980.3" cy="138.8" r="5.21"/><circle cx="995.0" cy="167.7" r="5.21"/><circle cx="936.7" cy="181.9" r="5.21"/><circle cx="791.0" cy="779.1" r="5.21"/><circle cx="822.0" cy="170.5" r="5.21"/><circle cx="793.1" cy="230.8" r="5.21"/><circle cx="1016.4" cy="248.2" r="5.21"/><circle cx="708.8" cy="233.0" r="5.21"/><circle cx="922.3" cy="182.7" r="5.21"/><circle cx="912.1" cy="196.3" r="5.21"/><circle cx="930.8" cy="227.5" r="5.21"/><circle cx="782.1" cy="212.6" r="5.21"/><circle cx="920.4" cy="214.5" r="5.21"/><circle cx="940.4" cy="139.7" r="5.21"/><circle cx="881.6" cy="247.0" r="5.21"/><circle cx="975.9" cy="192.9" r="5.21"/><circle cx="731.2" cy="201.5" r="5.21"/><circle cx="664.7" cy="181.9" r="5.21"/><circle cx="967.1" cy="222.0" r="5.21"/><circle cx="749.6" cy="745.7" r="5.21"/><circle cx="831.9" cy="176.4" r="5.21"/><circle cx="753.2" cy="172.6" r="5.21"/><circle cx="716.9" cy="177.8" r="5.21"/><circle cx="716.3" cy="206.6" r="5.21"/><circle cx="754.5" cy="204.8" r="5.21"/><circle cx="879.0" cy="233.1" r="5.21"/><circle cx="679.2" cy="153.7" r="5.21"/><circle cx="891.5" cy="232.0" r="5.21"/><circle cx="751.3" cy="247.9" r="5.21"/><circle cx="883.3" cy="204.2" r="5.21"/><circle cx="669.6" cy="154.8" r="5.21"/><circle cx="798.1" cy="233.8" r="5.21"/><circle cx="993.4" cy="177.5" r="5.21"/><circle cx="716.9" cy="176.2" r="5.21"/><circle cx="577.4" cy="175.5" r="5.21"/><circle cx="592.1" cy="177.1" r="5.21"/><circle cx="779.5" cy="226.3" r="5.21"/><circle cx="712.7" cy="233.8" r="5.21"/><circle cx="992.7" cy="165.5" r="5.21"/><circle cx="910.9" cy="778.2" r="5.21"/><circle cx="727.9" cy="751.7" r="5.21"/><circle cx="791.9" cy="191.1" r="5.21"/><circle cx="678.4" cy="236.9" r="5.21"/><circle cx="634.2" cy="227.2" r="5.21"/><circle cx="741.5" cy="237.6" r="5.21"/><circle cx="845.7" cy="153.0" r="5.21"/><circle cx="1008.6" cy="246.8" r="5.21"/><circle cx="907.4" cy="236.8" r="5.21"/><circle cx="750.9" cy="219.2" r="5.21"/><circle cx="982.2" cy="252.9" r="5.21"/><circle cx="907.9" cy="168.0" r="5.21"/><circle cx="1006.7" cy="219.1" r="5.21"/><circle cx="701.9" cy="150.9" r="5.21"/><circle cx="780.2" cy="140.7" r="5.21"/><circle cx="724.9" cy="216.7" r="5.21"/><circle cx="742.0" cy="248.2" r="5.21"/><circle cx="697.7" cy="207.2" r="5.21"/><circle cx="985.7" cy="187.5" r="5.21"/><circle cx="758.5" cy="225.8" r="5.21"/><circle cx="923.2" cy="236.0" r="5.21"/><circle cx="794.0" cy="143.6" r="5.21"/><circle cx="931.0" cy="187.9" r="5.21"/><circle cx="709.1" cy="165.1" r="5.21"/><circle cx="729.3" cy="212.8" r="5.21"/><circle cx="765.6" cy="190.4" r="5.21"/><circle cx="839.2" cy="226.1" r="5.21"/><circle cx="935.4" cy="201.9" r="5.21"/><circle cx="787.8" cy="183.3" r="5.21"/><circle cx="1010.1" cy="177.0" r="5.21"/><circle cx="866.7" cy="251.8" r="5.21"/><circle cx="997.5" cy="152.9" r="5.21"/><circle cx="971.7" cy="219.4" r="5.21"/><circle cx="759.8" cy="229.8" r="5.21"/><circle cx="762.3" cy="221.5" r="5.21"/><circle cx="747.5" cy="233.8" r="5.21"/><circle cx="1014.1" cy="157.7" r="5.21"/><circle cx="636.0" cy="177.9" r="5.21"/><circle cx="916.4" cy="152.2" r="5.21"/><circle cx="827.7" cy="144.9" r="5.21"/><circle cx="828.6" cy="180.9" r="5.21"/><circle cx="957.2" cy="190.1" r="5.21"/><circle cx="878.1" cy="154.3" r="5.21"/><circle cx="746.8" cy="192.4" r="5.21"/><circle cx="914.9" cy="816.9" r="5.21"/><circle cx="692.5" cy="723.4" r="5.21"/><circle cx="596.8" cy="181.8" r="5.21"/><circle cx="833.7" cy="183.9" r="5.21"/><circle cx="964.5" cy="153.6" r="5.21"/><circle cx="526.5" cy="203.5" r="5.21"/><circle cx="841.4" cy="223.3" r="5.21"/><circle cx="999.7" cy="223.8" r="5.21"/><circle cx="901.8" cy="230.5" r="5.21"/><circle cx="980.9" cy="196.9" r="5.21"/><circle cx="838.2" cy="222.9" r="5.21"/><circle cx="856.7" cy="236.6" r="5.21"/><circle cx="957.7" cy="250.8" r="5.21"/><circle cx="960.9" cy="179.4" r="5.21"/><circle cx="932.7" cy="194.9" r="5.21"/><circle cx="792.1" cy="224.1" r="5.21"/><circle cx="782.9" cy="251.0" r="5.21"/><circle cx="868.2" cy="240.0" r="5.21"/><circle cx="749.4" cy="159.7" r="5.21"/><circle cx="776.1" cy="827.3" r="5.21"/><circle cx="877.0" cy="230.6" r="5.21"/><circle cx="961.0" cy="251.8" r="5.21"/><circle cx="805.8" cy="231.1" r="5.21"/><circle cx="939.5" cy="154.6" r="5.21"/><circle cx="737.3" cy="252.0" r="5.21"/><circle cx="774.4" cy="189.7" r="5.21"/><circle cx="666.6" cy="738.4" r="5.21"/><circle cx="659.8" cy="212.4" r="5.21"/><circle cx="750.9" cy="242.4" r="5.21"/><circle cx="894.5" cy="151.9" r="5.21"/><circle cx="792.3" cy="191.6" r="5.21"/><circle cx="596.1" cy="206.1" r="5.21"/><circle cx="722.7" cy="231.4" r="5.21"/><circle cx="758.7" cy="228.1" r="5.21"/><circle cx="939.3" cy="152.6" r="5.21"/><circle cx="696.4" cy="143.9" r="5.21"/><circle cx="856.8" cy="251.5" r="5.21"/><circle cx="719.8" cy="246.3" r="5.21"/><circle cx="751.4" cy="220.0" r="5.21"/><circle cx="829.8" cy="140.0" r="5.21"/><circle cx="732.6" cy="152.9" r="5.21"/><circle cx="952.5" cy="230.1" r="5.21"/><circle cx="757.4" cy="231.8" r="5.21"/><circle cx="716.9" cy="247.4" r="5.21"/><circle cx="754.3" cy="198.0" r="5.21"/><circle cx="799.5" cy="174.1" r="5.21"/><circle cx="754.8" cy="223.8" r="5.21"/><circle cx="924.4" cy="185.9" r="5.21"/><circle cx="742.7" cy="169.7" r="5.21"/><circle cx="913.0" cy="250.8" r="5.21"/><circle cx="880.9" cy="193.7" r="5.21"/><circle cx="929.0" cy="176.5" r="5.21"/><circle cx="670.6" cy="178.7" r="5.21"/><circle cx="984.0" cy="186.4" r="5.21"/><circle cx="641.0" cy="254.5" r="5.21"/><circle cx="897.8" cy="178.4" r="5.21"/><circle cx="743.8" cy="193.6" r="5.21"/><circle cx="1003.1" cy="246.7" r="5.21"/><circle cx="910.8" cy="223.8" r="5.21"/><circle cx="1079.4" cy="149.5" r="5.21"/><circle cx="905.0" cy="254.0" r="5.21"/><circle cx="815.7" cy="242.9" r="5.21"/><circle cx="734.0" cy="762.3" r="5.21"/><circle cx="1057.3" cy="235.1" r="5.21"/><circle cx="719.2" cy="162.8" r="5.21"/><circle cx="889.0" cy="165.8" r="5.21"/><circle cx="644.0" cy="207.1" r="5.21"/><circle cx="847.6" cy="187.9" r="5.21"/><circle cx="708.8" cy="223.9" r="5.21"/><circle cx="895.8" cy="185.6" r="5.21"/><circle cx="791.2" cy="224.3" r="5.21"/><circle cx="969.6" cy="212.9" r="5.21"/><circle cx="896.0" cy="189.5" r="5.21"/><circle cx="825.3" cy="145.2" r="5.21"/><circle cx="910.3" cy="234.7" r="5.21"/><circle cx="1005.5" cy="199.2" r="5.21"/><circle cx="840.0" cy="223.9" r="5.21"/><circle cx="812.1" cy="142.2" r="5.21"/><circle cx="971.1" cy="205.7" r="5.21"/><circle cx="890.5" cy="166.4" r="5.21"/><circle cx="933.5" cy="198.5" r="5.21"/><circle cx="695.8" cy="189.5" r="5.21"/><circle cx="748.6" cy="161.8" r="5.21"/><circle cx="797.8" cy="228.9" r="5.21"/><circle cx="711.5" cy="253.8" r="5.21"/><circle cx="988.4" cy="241.4" r="5.21"/><circle cx="948.4" cy="193.6" r="5.21"/><circle cx="733.4" cy="190.7" r="5.21"/><circle cx="793.5" cy="228.3" r="5.21"/><circle cx="1004.5" cy="142.4" r="5.21"/><circle cx="876.6" cy="207.6" r="5.21"/><circle cx="714.5" cy="201.7" r="5.21"/><circle cx="619.4" cy="160.3" r="5.21"/><circle cx="832.8" cy="148.6" r="5.21"/><circle cx="546.1" cy="239.8" r="5.21"/><circle cx="918.5" cy="165.3" r="5.21"/><circle cx="596.8" cy="181.2" r="5.21"/><circle cx="945.0" cy="232.5" r="5.21"/><circle cx="861.9" cy="816.1" r="5.21"/><circle cx="793.6" cy="800.5" r="5.21"/><circle cx="698.4" cy="162.8" r="5.21"/><circle cx="900.7" cy="225.9" r="5.21"/><circle cx="975.1" cy="198.3" r="5.21"/><circle cx="943.7" cy="193.7" r="5.21"/><circle cx="995.9" cy="217.5" r="5.21"/><circle cx="834.2" cy="142.7" r="5.21"/><circle cx="1033.6" cy="190.6" r="5.21"/><circle cx="828.4" cy="156.6" r="5.21"/><circle cx="927.5" cy="151.9" r="5.21"/><circle cx="812.7" cy="164.6" r="5.21"/><circle cx="935.2" cy="242.5" r="5.21"/><circle cx="853.3" cy="175.1" r="5.21"/><circle cx="647.5" cy="206.0" r="5.21"/><circle cx="1022.0" cy="145.7" r="5.21"/><circle cx="916.2" cy="167.8" r="5.21"/><circle cx="771.7" cy="140.2" r="5.21"/><circle cx="702.1" cy="157.2" r="5.21"/><circle cx="834.5" cy="169.9" r="5.21"/><circle cx="796.9" cy="248.0" r="5.21"/><circle cx="683.3" cy="165.9" r="5.21"/><circle cx="946.5" cy="151.3" r="5.21"/><circle cx="680.9" cy="223.2" r="5.21"/><circle cx="1019.4" cy="234.6" r="5.21"/><circle cx="860.2" cy="140.5" r="5.21"/><circle cx="916.9" cy="204.9" r="5.21"/><circle cx="971.3" cy="249.0" r="5.21"/><circle cx="664.0" cy="148.1" r="5.21"/><circle cx="930.1" cy="243.2" r="5.21"/><circle cx="784.1" cy="184.1" r="5.21"/><circle cx="753.6" cy="728.6" r="5.21"/><circle cx="947.5" cy="215.1" r="5.21"/><circle cx="691.0" cy="176.6" r="5.21"/><circle cx="945.8" cy="154.4" r="5.21"/><circle cx="809.5" cy="201.6" r="5.21"/><circle cx="827.4" cy="208.5" r="5.21"/><circle cx="695.8" cy="162.9" r="5.21"/><circle cx="765.8" cy="202.1" r="5.21"/><circle cx="1010.4" cy="252.6" r="5.21"/><circle cx="173.9" cy="152.5" r="5.21"/><circle cx="968.8" cy="156.2" r="5.21"/><circle cx="910.0" cy="241.5" r="5.21"/><circle cx="963.6" cy="206.8" r="5.21"/><circle cx="973.3" cy="253.1" r="5.21"/><circle cx="987.7" cy="220.6" r="5.21"/><circle cx="917.8" cy="247.1" r="5.21"/><circle cx="853.1" cy="205.7" r="5.21"/><circle cx="490.3" cy="788.1" r="5.21"/><circle cx="923.0" cy="255.4" r="5.21"/><circle cx="937.0" cy="158.2" r="5.21"/><circle cx="853.5" cy="178.1" r="5.21"/><circle cx="708.2" cy="251.3" r="5.21"/><circle cx="999.3" cy="215.0" r="5.21"/><circle cx="880.8" cy="197.6" r="5.21"/><circle cx="964.9" cy="245.0" r="5.21"/><circle cx="753.0" cy="233.4" r="5.21"/><circle cx="869.2" cy="253.9" r="5.21"/><circle cx="964.2" cy="165.6" r="5.21"/><circle cx="415.3" cy="816.6" r="5.21"/><circle cx="649.1" cy="187.0" r="5.21"/><circle cx="752.4" cy="177.1" r="5.21"/><circle cx="675.3" cy="169.4" r="5.21"/><circle cx="900.4" cy="807.1" r="5.21"/><circle cx="752.7" cy="234.5" r="5.21"/><circle cx="762.2" cy="728.6" r="5.21"/><circle cx="937.8" cy="156.6" r="5.21"/><circle cx="983.9" cy="250.2" r="5.21"/><circle cx="656.4" cy="202.9" r="5.21"/><circle cx="874.7" cy="168.1" r="5.21"/><circle cx="585.3" cy="193.5" r="5.21"/><circle cx="864.9" cy="155.6" r="5.21"/><circle cx="799.9" cy="191.6" r="5.21"/><circle cx="690.8" cy="242.8" r="5.21"/><circle cx="988.4" cy="188.5" r="5.21"/><circle cx="741.2" cy="736.7" r="5.21"/><circle cx="1026.6" cy="249.8" r="5.21"/><circle cx="795.0" cy="176.5" r="5.21"/><circle cx="719.9" cy="241.8" r="5.21"/><circle cx="702.9" cy="251.7" r="5.21"/><circle cx="928.4" cy="227.4" r="5.21"/><circle cx="1029.0" cy="255.0" r="5.21"/><circle cx="881.1" cy="141.1" r="5.21"/><circle cx="930.4" cy="234.7" r="5.21"/><circle cx="695.4" cy="162.4" r="5.21"/><circle cx="874.9" cy="196.7" r="5.21"/><circle cx="652.0" cy="147.9" r="5.21"/><circle cx="1045.3" cy="199.3" r="5.21"/><circle cx="758.5" cy="177.8" r="5.21"/><circle cx="676.0" cy="241.5" r="5.21"/><circle cx="794.1" cy="248.1" r="5.21"/><circle cx="1064.6" cy="224.3" r="5.21"/><circle cx="800.6" cy="215.6" r="5.21"/><circle cx="722.3" cy="176.4" r="5.21"/><circle cx="730.1" cy="758.4" r="5.21"/><circle cx="843.0" cy="192.0" r="5.21"/><circle cx="423.2" cy="189.6" r="5.21"/><circle cx="740.5" cy="197.1" r="5.21"/><circle cx="771.2" cy="146.6" r="5.21"/><circle cx="1006.2" cy="209.6" r="5.21"/><circle cx="893.5" cy="182.1" r="5.21"/><circle cx="707.4" cy="241.1" r="5.21"/><circle cx="855.2" cy="184.6" r="5.21"/><circle cx="808.2" cy="207.6" r="5.21"/><circle cx="792.0" cy="164.4" r="5.21"/><circle cx="906.4" cy="167.6" r="5.21"/><circle cx="1064.0" cy="167.8" r="5.21"/><circle cx="872.9" cy="808.2" r="5.21"/><circle cx="747.6" cy="187.1" r="5.21"/><circle cx="821.2" cy="152.4" r="5.21"/><circle cx="902.1" cy="177.1" r="5.21"/><circle cx="687.5" cy="183.9" r="5.21"/><circle cx="803.7" cy="822.2" r="5.21"/><circle cx="919.3" cy="176.5" r="5.21"/><circle cx="684.4" cy="250.7" r="5.21"/><circle cx="727.2" cy="235.0" r="5.21"/><circle cx="906.5" cy="179.2" r="5.21"/><circle cx="1009.9" cy="146.1" r="5.21"/><circle cx="869.8" cy="144.8" r="5.21"/><circle cx="1023.8" cy="799.1" r="5.21"/><circle cx="732.4" cy="204.2" r="5.21"/><circle cx="778.8" cy="187.0" r="5.21"/><circle cx="739.7" cy="141.4" r="5.21"/><circle cx="738.1" cy="199.1" r="5.21"/><circle cx="697.1" cy="182.0" r="5.21"/><circle cx="919.2" cy="211.6" r="5.21"/><circle cx="801.2" cy="254.6" r="5.21"/><circle cx="430.9" cy="765.0" r="5.21"/><circle cx="769.0" cy="148.5" r="5.21"/><circle cx="1023.7" cy="207.5" r="5.21"/><circle cx="579.3" cy="204.8" r="5.21"/><circle cx="725.8" cy="228.7" r="5.21"/><circle cx="922.6" cy="215.0" r="5.21"/><circle cx="1079.0" cy="156.8" r="5.21"/><circle cx="992.7" cy="231.9" r="5.21"/><circle cx="846.2" cy="765.9" r="5.21"/><circle cx="832.7" cy="228.9" r="5.21"/><circle cx="667.3" cy="149.4" r="5.21"/><circle cx="691.1" cy="138.8" r="5.21"/><circle cx="751.2" cy="198.3" r="5.21"/><circle cx="857.5" cy="744.4" r="5.21"/><circle cx="1012.2" cy="152.3" r="5.21"/><circle cx="1019.4" cy="140.7" r="5.21"/><circle cx="932.2" cy="170.7" r="5.21"/><circle cx="757.9" cy="211.6" r="5.21"/><circle cx="854.4" cy="737.6" r="5.21"/><circle cx="893.0" cy="236.8" r="5.21"/><circle cx="964.1" cy="200.5" r="5.21"/><circle cx="967.5" cy="166.9" r="5.21"/><circle cx="724.9" cy="221.3" r="5.21"/><circle cx="747.5" cy="832.1" r="5.21"/><circle cx="820.1" cy="205.7" r="5.21"/><circle cx="797.5" cy="250.0" r="5.21"/><circle cx="445.4" cy="161.5" r="5.21"/><circle cx="801.0" cy="795.1" r="5.21"/><circle cx="819.5" cy="169.9" r="5.21"/><circle cx="857.4" cy="166.0" r="5.21"/><circle cx="978.1" cy="245.9" r="5.21"/><circle cx="981.7" cy="186.6" r="5.21"/><circle cx="762.9" cy="222.0" r="5.21"/><circle cx="911.0" cy="170.9" r="5.21"/><circle cx="1010.5" cy="147.5" r="5.21"/><circle cx="883.5" cy="760.7" r="5.21"/><circle cx="978.9" cy="231.1" r="5.21"/><circle cx="787.4" cy="182.1" r="5.21"/><circle cx="851.5" cy="184.9" r="5.21"/><circle cx="755.7" cy="220.6" r="5.21"/><circle cx="782.5" cy="242.3" r="5.21"/><circle cx="879.8" cy="209.0" r="5.21"/><circle cx="933.1" cy="198.5" r="5.21"/><circle cx="735.4" cy="177.5" r="5.21"/><circle cx="746.2" cy="229.2" r="5.21"/><circle cx="848.7" cy="237.0" r="5.21"/><circle cx="865.5" cy="182.1" r="5.21"/><circle cx="671.6" cy="224.2" r="5.21"/><circle cx="874.4" cy="236.0" r="5.21"/><circle cx="989.7" cy="149.1" r="5.21"/><circle cx="953.7" cy="225.3" r="5.21"/><circle cx="645.5" cy="168.4" r="5.21"/><circle cx="1003.3" cy="241.0" r="5.21"/><circle cx="895.5" cy="153.9" r="5.21"/><circle cx="1009.5" cy="249.2" r="5.21"/><circle cx="817.0" cy="153.2" r="5.21"/><circle cx="780.0" cy="223.4" r="5.21"/><circle cx="799.2" cy="143.9" r="5.21"/><circle cx="841.5" cy="160.4" r="5.21"/><circle cx="557.1" cy="174.2" r="5.21"/><circle cx="741.4" cy="206.8" r="5.21"/><circle cx="926.7" cy="139.2" r="5.21"/><circle cx="850.6" cy="175.7" r="5.21"/><circle cx="880.0" cy="211.7" r="5.21"/><circle cx="895.9" cy="251.2" r="5.21"/><circle cx="689.2" cy="195.9" r="5.21"/><circle cx="720.0" cy="250.6" r="5.21"/><circle cx="904.0" cy="178.4" r="5.21"/><circle cx="704.2" cy="158.7" r="5.21"/><circle cx="962.4" cy="209.9" r="5.21"/><circle cx="790.3" cy="223.2" r="5.21"/><circle cx="929.2" cy="157.1" r="5.21"/><circle cx="824.9" cy="180.8" r="5.21"/><circle cx="744.8" cy="175.5" r="5.21"/><circle cx="722.5" cy="215.1" r="5.21"/><circle cx="762.8" cy="162.3" r="5.21"/><circle cx="931.0" cy="253.6" r="5.21"/><circle cx="709.8" cy="181.5" r="5.21"/><circle cx="903.2" cy="164.6" r="5.21"/><circle cx="810.8" cy="156.0" r="5.21"/><circle cx="791.7" cy="164.6" r="5.21"/><circle cx="852.9" cy="169.7" r="5.21"/><circle cx="832.5" cy="725.3" r="5.21"/><circle cx="843.0" cy="164.6" r="5.21"/><circle cx="663.9" cy="232.2" r="5.21"/><circle cx="499.5" cy="181.6" r="5.21"/><circle cx="792.7" cy="163.7" r="5.21"/><circle cx="881.0" cy="253.4" r="5.21"/><circle cx="837.8" cy="237.9" r="5.21"/><circle cx="723.4" cy="173.8" r="5.21"/><circle cx="913.4" cy="210.3" r="5.21"/><circle cx="747.7" cy="218.4" r="5.21"/><circle cx="918.5" cy="211.7" r="5.21"/><circle cx="741.6" cy="141.4" r="5.21"/><circle cx="400.2" cy="234.4" r="5.21"/><circle cx="892.6" cy="200.1" r="5.21"/><circle cx="804.0" cy="213.3" r="5.21"/><circle cx="892.9" cy="147.5" r="5.21"/><circle cx="935.2" cy="161.1" r="5.21"/><circle cx="753.7" cy="228.2" r="5.21"/><circle cx="966.7" cy="834.5" r="5.21"/><circle cx="828.9" cy="254.1" r="5.21"/><circle cx="779.1" cy="218.6" r="5.21"/><circle cx="832.5" cy="140.4" r="5.21"/><circle cx="781.8" cy="159.0" r="5.21"/><circle cx="896.4" cy="247.0" r="5.21"/><circle cx="712.3" cy="247.2" r="5.21"/><circle cx="774.5" cy="200.2" r="5.21"/><circle cx="1039.7" cy="245.0" r="5.21"/><circle cx="840.8" cy="170.3" r="5.21"/><circle cx="777.8" cy="178.7" r="5.21"/><circle cx="657.5" cy="177.8" r="5.21"/><circle cx="845.9" cy="151.2" r="5.21"/><circle cx="588.5" cy="148.4" r="5.21"/><circle cx="1027.9" cy="163.4" r="5.21"/><circle cx="1076.9" cy="231.8" r="5.21"/><circle cx="728.4" cy="229.2" r="5.21"/><circle cx="793.5" cy="183.2" r="5.21"/><circle cx="959.9" cy="224.2" r="5.21"/><circle cx="1023.1" cy="178.7" r="5.21"/><circle cx="950.4" cy="248.5" r="5.21"/><circle cx="947.3" cy="192.9" r="5.21"/><circle cx="963.0" cy="185.6" r="5.21"/><circle cx="922.4" cy="181.1" r="5.21"/><circle cx="707.6" cy="160.4" r="5.21"/><circle cx="959.6" cy="188.6" r="5.21"/><circle cx="745.9" cy="233.9" r="5.21"/><circle cx="979.7" cy="150.0" r="5.21"/><circle cx="962.0" cy="172.4" r="5.21"/><circle cx="1068.0" cy="221.7" r="5.21"/><circle cx="665.9" cy="181.8" r="5.21"/><circle cx="779.0" cy="215.4" r="5.21"/><circle cx="744.0" cy="162.6" r="5.21"/><circle cx="1018.3" cy="215.6" r="5.21"/><circle cx="998.2" cy="763.5" r="5.21"/><circle cx="894.6" cy="187.4" r="5.21"/><circle cx="761.4" cy="155.7" r="5.21"/><circle cx="930.6" cy="203.8" r="5.21"/><circle cx="787.7" cy="735.7" r="5.21"/><circle cx="711.2" cy="243.4" r="5.21"/><circle cx="786.4" cy="169.7" r="5.21"/><circle cx="792.6" cy="240.5" r="5.21"/><circle cx="707.4" cy="158.8" r="5.21"/><circle cx="995.9" cy="157.4" r="5.21"/><circle cx="702.2" cy="183.9" r="5.21"/><circle cx="957.9" cy="188.1" r="5.21"/><circle cx="991.5" cy="241.5" r="5.21"/><circle cx="1006.7" cy="224.9" r="5.21"/><circle cx="497.7" cy="229.3" r="5.21"/><circle cx="712.8" cy="239.2" r="5.21"/><circle cx="720.5" cy="227.2" r="5.21"/><circle cx="785.3" cy="213.1" r="5.21"/><circle cx="897.9" cy="207.3" r="5.21"/><circle cx="990.5" cy="198.2" r="5.21"/><circle cx="813.1" cy="169.7" r="5.21"/><circle cx="700.6" cy="197.4" r="5.21"/><circle cx="972.2" cy="234.9" r="5.21"/><circle cx="714.0" cy="174.8" r="5.21"/><circle cx="818.6" cy="254.1" r="5.21"/><circle cx="927.1" cy="183.0" r="5.21"/><circle cx="819.5" cy="217.9" r="5.21"/><circle cx="727.7" cy="187.1" r="5.21"/><circle cx="996.7" cy="247.6" r="5.21"/><circle cx="689.2" cy="252.1" r="5.21"/><circle cx="894.5" cy="194.5" r="5.21"/><circle cx="959.2" cy="172.5" r="5.21"/><circle cx="1001.6" cy="207.1" r="5.21"/><circle cx="865.2" cy="187.7" r="5.21"/><circle cx="915.8" cy="254.6" r="5.21"/><circle cx="1025.7" cy="245.1" r="5.21"/><circle cx="978.3" cy="157.8" r="5.21"/><circle cx="550.4" cy="170.5" r="5.21"/><circle cx="829.0" cy="188.1" r="5.21"/><circle cx="822.6" cy="178.0" r="5.21"/><circle cx="915.9" cy="231.3" r="5.21"/><circle cx="952.2" cy="211.5" r="5.21"/><circle cx="927.8" cy="245.6" r="5.21"/><circle cx="981.5" cy="232.4" r="5.21"/><circle cx="780.1" cy="143.6" r="5.21"/><circle cx="980.9" cy="222.5" r="5.21"/><circle cx="716.7" cy="247.8" r="5.21"/><circle cx="699.4" cy="728.1" r="5.21"/><circle cx="743.1" cy="240.5" r="5.21"/><circle cx="893.0" cy="247.4" r="5.21"/><circle cx="1002.5" cy="143.7" r="5.21"/><circle cx="1000.8" cy="170.7" r="5.21"/><circle cx="734.8" cy="149.1" r="5.21"/><circle cx="752.5" cy="209.5" r="5.21"/><circle cx="766.4" cy="214.4" r="5.21"/><circle cx="717.2" cy="833.8" r="5.21"/><circle cx="668.6" cy="229.6" r="5.21"/><circle cx="842.9" cy="179.0" r="5.21"/><circle cx="916.1" cy="788.1" r="5.21"/><circle cx="922.9" cy="202.5" r="5.21"/><circle cx="777.1" cy="215.0" r="5.21"/><circle cx="778.1" cy="183.5" r="5.21"/><circle cx="870.1" cy="238.5" r="5.21"/><circle cx="869.0" cy="221.3" r="5.21"/><circle cx="753.7" cy="154.8" r="5.21"/><circle cx="995.8" cy="235.2" r="5.21"/><circle cx="759.6" cy="220.3" r="5.21"/><circle cx="995.5" cy="202.1" r="5.21"/><circle cx="994.3" cy="230.6" r="5.21"/><circle cx="858.3" cy="157.1" r="5.21"/><circle cx="802.7" cy="169.1" r="5.21"/><circle cx="881.0" cy="246.5" r="5.21"/><circle cx="820.3" cy="142.5" r="5.21"/><circle cx="789.0" cy="233.9" r="5.21"/><circle cx="888.4" cy="805.9" r="5.21"/><circle cx="895.1" cy="170.8" r="5.21"/><circle cx="825.4" cy="160.6" r="5.21"/><circle cx="818.6" cy="209.3" r="5.21"/><circle cx="835.9" cy="252.9" r="5.21"/><circle cx="854.9" cy="181.0" r="5.21"/><circle cx="814.7" cy="254.9" r="5.21"/><circle cx="827.5" cy="149.0" r="5.21"/><circle cx="965.4" cy="184.4" r="5.21"/><circle cx="589.7" cy="242.2" r="5.21"/><circle cx="751.1" cy="221.7" r="5.21"/><circle cx="936.9" cy="246.1" r="5.21"/><circle cx="950.1" cy="254.7" r="5.21"/><circle cx="933.9" cy="214.5" r="5.21"/><circle cx="964.1" cy="206.2" r="5.21"/><circle cx="646.6" cy="194.4" r="5.21"/><circle cx="952.4" cy="210.1" r="5.21"/><circle cx="866.0" cy="216.2" r="5.21"/><circle cx="885.5" cy="176.6" r="5.21"/><circle cx="936.7" cy="244.2" r="5.21"/><circle cx="915.3" cy="231.5" r="5.21"/><circle cx="695.0" cy="249.7" r="5.21"/><circle cx="711.4" cy="149.2" r="5.21"/><circle cx="640.3" cy="812.8" r="5.21"/><circle cx="826.5" cy="244.5" r="5.21"/><circle cx="670.1" cy="139.6" r="5.21"/><circle cx="917.1" cy="246.3" r="5.21"/><circle cx="888.7" cy="208.9" r="5.21"/><circle cx="676.4" cy="205.2" r="5.21"/><circle cx="905.6" cy="189.1" r="5.21"/><circle cx="457.2" cy="813.4" r="5.21"/><circle cx="772.5" cy="171.4" r="5.21"/><circle cx="877.8" cy="156.7" r="5.21"/><circle cx="845.1" cy="141.5" r="5.21"/><circle cx="1035.6" cy="139.7" r="5.21"/><circle cx="675.7" cy="190.5" r="5.21"/><circle cx="867.0" cy="145.9" r="5.21"/><circle cx="953.4" cy="166.3" r="5.21"/><circle cx="764.1" cy="199.0" r="5.21"/><circle cx="844.6" cy="162.3" r="5.21"/><circle cx="845.0" cy="173.7" r="5.21"/><circle cx="583.1" cy="727.2" r="5.21"/><circle cx="964.5" cy="157.0" r="5.21"/><circle cx="692.0" cy="230.2" r="5.21"/><circle cx="699.2" cy="171.2" r="5.21"/><circle cx="846.3" cy="226.7" r="5.21"/><circle cx="935.6" cy="204.2" r="5.21"/><circle cx="843.6" cy="239.6" r="5.21"/><circle cx="941.3" cy="184.9" r="5.21"/><circle cx="720.9" cy="226.7" r="5.21"/><circle cx="1055.0" cy="219.5" r="5.21"/><circle cx="804.1" cy="216.3" r="5.21"/><circle cx="753.4" cy="184.3" r="5.21"/><circle cx="692.1" cy="145.6" r="5.21"/><circle cx="955.5" cy="236.2" r="5.21"/><circle cx="697.5" cy="231.6" r="5.21"/><circle cx="909.9" cy="214.4" r="5.21"/><circle cx="794.0" cy="146.9" r="5.21"/><circle cx="922.2" cy="163.1" r="5.21"/><circle cx="743.1" cy="204.0" r="5.21"/><circle cx="985.5" cy="213.3" r="5.21"/><circle cx="655.9" cy="213.0" r="5.21"/><circle cx="765.1" cy="248.4" r="5.21"/><circle cx="651.6" cy="210.1" r="5.21"/><circle cx="636.2" cy="745.3" r="5.21"/><circle cx="950.6" cy="165.2" r="5.21"/><circle cx="856.1" cy="221.7" r="5.21"/><circle cx="849.1" cy="239.1" r="5.21"/><circle cx="706.4" cy="224.6" r="5.21"/><circle cx="756.8" cy="168.8" r="5.21"/><circle cx="563.4" cy="244.9" r="5.21"/><circle cx="738.4" cy="254.1" r="5.21"/><circle cx="986.2" cy="161.6" r="5.21"/><circle cx="933.7" cy="233.3" r="5.21"/><circle cx="873.9" cy="250.6" r="5.21"/><circle cx="721.5" cy="164.2" r="5.21"/><circle cx="768.2" cy="253.6" r="5.21"/><circle cx="700.8" cy="142.1" r="5.21"/><circle cx="981.9" cy="187.0" r="5.21"/><circle cx="885.4" cy="252.4" r="5.21"/><circle cx="1027.3" cy="193.8" r="5.21"/><circle cx="1037.3" cy="168.9" r="5.21"/><circle cx="542.5" cy="241.7" r="5.21"/><circle cx="632.2" cy="163.1" r="5.21"/><circle cx="908.6" cy="193.4" r="5.21"/><circle cx="768.2" cy="249.4" r="5.21"/><circle cx="775.0" cy="146.9" r="5.21"/><circle cx="772.2" cy="176.5" r="5.21"/><circle cx="833.2" cy="230.8" r="5.21"/><circle cx="716.0" cy="193.9" r="5.21"/><circle cx="817.7" cy="150.2" r="5.21"/><circle cx="765.4" cy="830.8" r="5.21"/><circle cx="630.6" cy="806.9" r="5.21"/><circle cx="459.4" cy="144.7" r="5.21"/><circle cx="925.8" cy="189.2" r="5.21"/><circle cx="565.2" cy="162.8" r="5.21"/><circle cx="986.3" cy="149.8" r="5.21"/><circle cx="998.9" cy="162.7" r="5.21"/><circle cx="715.6" cy="225.6" r="5.21"/><circle cx="779.7" cy="248.2" r="5.21"/><circle cx="890.9" cy="210.9" r="5.21"/><circle cx="756.0" cy="180.1" r="5.21"/><circle cx="757.0" cy="251.5" r="5.21"/><circle cx="752.2" cy="833.1" r="5.21"/><circle cx="766.9" cy="163.9" r="5.21"/><circle cx="752.6" cy="195.8" r="5.21"/><circle cx="576.4" cy="228.8" r="5.21"/><circle cx="799.1" cy="173.6" r="5.21"/><circle cx="811.6" cy="173.7" r="5.21"/><circle cx="759.9" cy="148.4" r="5.21"/><circle cx="789.2" cy="810.4" r="5.21"/><circle cx="985.5" cy="183.1" r="5.21"/><circle cx="751.8" cy="243.7" r="5.21"/><circle cx="735.2" cy="168.4" r="5.21"/><circle cx="755.2" cy="165.1" r="5.21"/><circle cx="893.5" cy="231.6" r="5.21"/><circle cx="762.4" cy="168.2" r="5.21"/><circle cx="747.0" cy="188.3" r="5.21"/><circle cx="899.0" cy="244.4" r="5.21"/><circle cx="882.7" cy="212.4" r="5.21"/><circle cx="990.4" cy="161.7" r="5.21"/><circle cx="724.2" cy="185.8" r="5.21"/><circle cx="868.1" cy="225.5" r="5.21"/><circle cx="828.3" cy="187.5" r="5.21"/><circle cx="774.0" cy="162.7" r="5.21"/><circle cx="1018.4" cy="227.8" r="5.21"/><circle cx="773.2" cy="186.4" r="5.21"/><circle cx="942.1" cy="222.0" r="5.21"/><circle cx="789.3" cy="197.5" r="5.21"/><circle cx="964.4" cy="140.1" r="5.21"/><circle cx="1024.1" cy="164.7" r="5.21"/><circle cx="846.8" cy="200.9" r="5.21"/><circle cx="623.0" cy="200.0" r="5.21"/><circle cx="633.8" cy="194.3" r="5.21"/><circle cx="832.6" cy="154.0" r="5.21"/><circle cx="750.6" cy="170.0" r="5.21"/><circle cx="692.6" cy="194.3" r="5.21"/><circle cx="1025.7" cy="210.5" r="5.21"/><circle cx="745.9" cy="812.9" r="5.21"/><circle cx="768.3" cy="240.7" r="5.21"/><circle cx="676.8" cy="154.6" r="5.21"/><circle cx="985.1" cy="242.6" r="5.21"/><circle cx="853.2" cy="149.2" r="5.21"/><circle cx="893.4" cy="168.6" r="5.21"/><circle cx="823.1" cy="154.4" r="5.21"/><circle cx="908.8" cy="228.4" r="5.21"/><circle cx="949.2" cy="144.3" r="5.21"/><circle cx="802.7" cy="170.3" r="5.21"/><circle cx="912.6" cy="152.2" r="5.21"/><circle cx="1031.7" cy="186.4" r="5.21"/><circle cx="1009.5" cy="240.4" r="5.21"/><circle cx="794.8" cy="183.4" r="5.21"/><circle cx="1015.6" cy="245.9" r="5.21"/><circle cx="751.2" cy="162.3" r="5.21"/><circle cx="871.5" cy="253.9" r="5.21"/><circle cx="1006.0" cy="194.6" r="5.21"/><circle cx="911.1" cy="160.4" r="5.21"/><circle cx="866.4" cy="160.0" r="5.21"/><circle cx="961.1" cy="210.7" r="5.21"/><circle cx="741.1" cy="243.6" r="5.21"/><circle cx="873.4" cy="157.8" r="5.21"/><circle cx="626.3" cy="183.4" r="5.21"/><circle cx="838.9" cy="140.5" r="5.21"/><circle cx="887.5" cy="161.3" r="5.21"/><circle cx="960.2" cy="157.3" r="5.21"/><circle cx="845.6" cy="158.9" r="5.21"/><circle cx="911.2" cy="187.1" r="5.21"/><circle cx="914.6" cy="238.2" r="5.21"/><circle cx="863.9" cy="761.4" r="5.21"/><circle cx="929.2" cy="148.8" r="5.21"/><circle cx="950.6" cy="227.4" r="5.21"/><circle cx="1069.5" cy="208.7" r="5.21"/><circle cx="897.0" cy="161.8" r="5.21"/><circle cx="898.3" cy="189.0" r="5.21"/><circle cx="968.7" cy="153.1" r="5.21"/><circle cx="801.6" cy="249.3" r="5.21"/><circle cx="887.4" cy="186.3" r="5.21"/><circle cx="853.2" cy="221.5" r="5.21"/><circle cx="848.2" cy="250.8" r="5.21"/><circle cx="689.9" cy="252.0" r="5.21"/><circle cx="845.8" cy="837.1" r="5.21"/><circle cx="825.4" cy="229.6" r="5.21"/><circle cx="1012.1" cy="177.8" r="5.21"/><circle cx="944.2" cy="798.5" r="5.21"/><circle cx="877.9" cy="214.1" r="5.21"/><circle cx="768.3" cy="150.6" r="5.21"/><circle cx="848.7" cy="225.5" r="5.21"/><circle cx="820.3" cy="230.6" r="5.21"/><circle cx="688.4" cy="192.5" r="5.21"/><circle cx="773.7" cy="146.4" r="5.21"/><circle cx="1039.8" cy="221.4" r="5.21"/><circle cx="844.3" cy="247.8" r="5.21"/><circle cx="1053.5" cy="164.0" r="5.21"/><circle cx="748.7" cy="178.1" r="5.21"/><circle cx="699.5" cy="172.6" r="5.21"/><circle cx="846.4" cy="181.0" r="5.21"/><circle cx="975.1" cy="179.5" r="5.21"/><circle cx="950.8" cy="140.9" r="5.21"/><circle cx="636.2" cy="755.6" r="5.21"/><circle cx="818.3" cy="224.4" r="5.21"/><circle cx="847.5" cy="196.4" r="5.21"/><circle cx="758.4" cy="739.6" r="5.21"/><circle cx="935.8" cy="237.8" r="5.21"/><circle cx="900.4" cy="228.7" r="5.21"/><circle cx="1020.8" cy="166.7" r="5.21"/><circle cx="946.8" cy="162.8" r="5.21"/><circle cx="965.9" cy="146.6" r="5.21"/><circle cx="878.4" cy="154.2" r="5.21"/><circle cx="750.7" cy="163.7" r="5.21"/><circle cx="834.8" cy="154.5" r="5.21"/><circle cx="1017.4" cy="817.4" r="5.21"/><circle cx="998.3" cy="232.9" r="5.21"/><circle cx="563.3" cy="189.9" r="5.21"/><circle cx="751.4" cy="234.4" r="5.21"/><circle cx="830.0" cy="243.0" r="5.21"/><circle cx="745.2" cy="193.9" r="5.21"/><circle cx="945.9" cy="740.8" r="5.21"/><circle cx="713.4" cy="180.4" r="5.21"/><circle cx="575.3" cy="749.1" r="5.21"/><circle cx="879.0" cy="151.9" r="5.21"/><circle cx="720.6" cy="194.8" r="5.21"/><circle cx="868.6" cy="235.6" r="5.21"/><circle cx="793.2" cy="254.4" r="5.21"/><circle cx="831.9" cy="146.4" r="5.21"/><circle cx="1020.9" cy="755.5" r="5.21"/><circle cx="759.3" cy="815.4" r="5.21"/><circle cx="825.9" cy="820.7" r="5.21"/><circle cx="987.4" cy="805.4" r="5.21"/><circle cx="559.7" cy="254.8" r="5.21"/><circle cx="999.9" cy="179.0" r="5.21"/><circle cx="610.5" cy="199.0" r="5.21"/><circle cx="897.2" cy="184.8" r="5.21"/><circle cx="848.7" cy="218.4" r="5.21"/><circle cx="673.0" cy="231.4" r="5.21"/><circle cx="808.1" cy="145.5" r="5.21"/><circle cx="756.1" cy="219.4" r="5.21"/><circle cx="856.4" cy="233.6" r="5.21"/><circle cx="820.5" cy="221.8" r="5.21"/><circle cx="712.7" cy="217.0" r="5.21"/><circle cx="1007.9" cy="235.5" r="5.21"/><circle cx="849.3" cy="190.0" r="5.21"/><circle cx="799.1" cy="230.2" r="5.21"/><circle cx="992.2" cy="177.0" r="5.21"/><circle cx="450.5" cy="244.0" r="5.21"/><circle cx="961.1" cy="181.8" r="5.21"/><circle cx="1024.8" cy="171.5" r="5.21"/><circle cx="993.8" cy="149.6" r="5.21"/><circle cx="906.4" cy="217.7" r="5.21"/><circle cx="718.3" cy="825.8" r="5.21"/><circle cx="924.4" cy="240.6" r="5.21"/><circle cx="849.4" cy="212.1" r="5.21"/><circle cx="740.4" cy="148.7" r="5.21"/><circle cx="795.6" cy="221.8" r="5.21"/><circle cx="962.8" cy="227.0" r="5.21"/><circle cx="667.7" cy="175.8" r="5.21"/><circle cx="774.8" cy="244.3" r="5.21"/><circle cx="1010.4" cy="236.0" r="5.21"/><circle cx="761.2" cy="220.4" r="5.21"/><circle cx="918.6" cy="183.4" r="5.21"/><circle cx="768.4" cy="237.1" r="5.21"/><circle cx="980.9" cy="163.4" r="5.21"/><circle cx="795.6" cy="139.1" r="5.21"/><circle cx="825.2" cy="173.9" r="5.21"/><circle cx="1008.3" cy="178.6" r="5.21"/><circle cx="722.8" cy="218.4" r="5.21"/><circle cx="927.7" cy="222.7" r="5.21"/><circle cx="859.6" cy="199.9" r="5.21"/><circle cx="993.8" cy="730.0" r="5.21"/><circle cx="793.9" cy="191.0" r="5.21"/><circle cx="906.7" cy="142.0" r="5.21"/><circle cx="800.5" cy="174.1" r="5.21"/><circle cx="736.8" cy="219.3" r="5.21"/><circle cx="819.5" cy="158.0" r="5.21"/><circle cx="828.8" cy="167.6" r="5.21"/><circle cx="956.4" cy="194.0" r="5.21"/><circle cx="1011.3" cy="191.9" r="5.21"/><circle cx="801.1" cy="209.1" r="5.21"/><circle cx="772.7" cy="249.0" r="5.21"/><circle cx="984.4" cy="153.9" r="5.21"/><circle cx="864.3" cy="220.0" r="5.21"/><circle cx="831.8" cy="176.3" r="5.21"/><circle cx="734.4" cy="190.9" r="5.21"/><circle cx="650.1" cy="225.1" r="5.21"/><circle cx="739.4" cy="167.6" r="5.21"/><circle cx="936.9" cy="210.2" r="5.21"/><circle cx="799.7" cy="159.8" r="5.21"/><circle cx="962.0" cy="204.5" r="5.21"/><circle cx="851.7" cy="225.8" r="5.21"/><circle cx="890.2" cy="245.6" r="5.21"/><circle cx="910.2" cy="201.5" r="5.21"/><circle cx="616.9" cy="786.6" r="5.21"/><circle cx="579.0" cy="209.1" r="5.21"/><circle cx="383.1" cy="166.9" r="5.21"/><circle cx="965.8" cy="224.8" r="5.21"/><circle cx="829.2" cy="807.1" r="5.21"/><circle cx="954.8" cy="840.3" r="5.21"/><circle cx="896.7" cy="191.2" r="5.21"/><circle cx="926.7" cy="175.8" r="5.21"/><circle cx="834.5" cy="224.1" r="5.21"/><circle cx="921.9" cy="158.5" r="5.21"/><circle cx="838.1" cy="144.5" r="5.21"/><circle cx="1042.8" cy="214.5" r="5.21"/><circle cx="833.2" cy="237.2" r="5.21"/><circle cx="1034.7" cy="151.0" r="5.21"/><circle cx="878.3" cy="769.5" r="5.21"/><circle cx="786.4" cy="796.8" r="5.21"/><circle cx="745.5" cy="139.9" r="5.21"/><circle cx="703.5" cy="207.1" r="5.21"/><circle cx="704.4" cy="250.7" r="5.21"/><circle cx="510.9" cy="157.4" r="5.21"/><circle cx="895.9" cy="195.9" r="5.21"/><circle cx="777.5" cy="207.2" r="5.21"/><circle cx="772.3" cy="141.9" r="5.21"/><circle cx="775.2" cy="182.1" r="5.21"/><circle cx="731.5" cy="767.6" r="5.21"/><circle cx="1010.3" cy="166.6" r="5.21"/><circle cx="1008.7" cy="212.6" r="5.21"/><circle cx="1002.4" cy="220.0" r="5.21"/><circle cx="740.2" cy="180.7" r="5.21"/><circle cx="794.3" cy="246.7" r="5.21"/><circle cx="1035.6" cy="160.0" r="5.21"/><circle cx="790.0" cy="239.8" r="5.21"/><circle cx="777.5" cy="171.8" r="5.21"/><circle cx="740.6" cy="139.2" r="5.21"/><circle cx="963.7" cy="217.4" r="5.21"/><circle cx="863.4" cy="164.7" r="5.21"/><circle cx="700.9" cy="165.1" r="5.21"/><circle cx="904.1" cy="839.5" r="5.21"/><circle cx="867.6" cy="164.0" r="5.21"/><circle cx="743.6" cy="207.2" r="5.21"/><circle cx="604.3" cy="149.3" r="5.21"/><circle cx="969.6" cy="216.8" r="5.21"/><circle cx="936.0" cy="252.5" r="5.21"/><circle cx="914.5" cy="237.3" r="5.21"/><circle cx="771.7" cy="212.0" r="5.21"/><circle cx="789.9" cy="250.3" r="5.21"/><circle cx="1042.7" cy="167.6" r="5.21"/><circle cx="991.2" cy="173.8" r="5.21"/><circle cx="737.5" cy="236.5" r="5.21"/><circle cx="762.0" cy="210.4" r="5.21"/><circle cx="854.5" cy="161.2" r="5.21"/><circle cx="958.2" cy="158.7" r="5.21"/><circle cx="702.2" cy="236.0" r="5.21"/><circle cx="711.0" cy="213.1" r="5.21"/><circle cx="838.5" cy="178.2" r="5.21"/><circle cx="722.5" cy="229.8" r="5.21"/><circle cx="1050.8" cy="197.4" r="5.21"/><circle cx="760.1" cy="213.5" r="5.21"/><circle cx="982.6" cy="226.3" r="5.21"/><circle cx="752.3" cy="212.6" r="5.21"/><circle cx="773.2" cy="153.7" r="5.21"/><circle cx="521.4" cy="250.4" r="5.21"/><circle cx="906.1" cy="176.8" r="5.21"/><circle cx="826.1" cy="247.4" r="5.21"/><circle cx="875.4" cy="151.5" r="5.21"/><circle cx="560.2" cy="166.7" r="5.21"/><circle cx="875.4" cy="179.1" r="5.21"/><circle cx="1045.0" cy="207.4" r="5.21"/><circle cx="898.9" cy="150.8" r="5.21"/><circle cx="1000.2" cy="235.7" r="5.21"/><circle cx="765.6" cy="241.0" r="5.21"/><circle cx="854.4" cy="797.7" r="5.21"/><circle cx="876.7" cy="216.4" r="5.21"/><circle cx="930.9" cy="172.4" r="5.21"/><circle cx="718.1" cy="138.8" r="5.21"/><circle cx="661.0" cy="164.8" r="5.21"/><circle cx="912.6" cy="167.7" r="5.21"/><circle cx="833.8" cy="231.8" r="5.21"/><circle cx="795.0" cy="156.8" r="5.21"/><circle cx="738.9" cy="227.7" r="5.21"/><circle cx="908.0" cy="186.1" r="5.21"/><circle cx="961.7" cy="204.5" r="5.21"/><circle cx="892.9" cy="218.0" r="5.21"/><circle cx="901.9" cy="242.7" r="5.21"/><circle cx="974.4" cy="241.7" r="5.21"/><circle cx="999.7" cy="190.3" r="5.21"/><circle cx="948.9" cy="237.9" r="5.21"/><circle cx="854.4" cy="218.2" r="5.21"/><circle cx="808.3" cy="193.8" r="5.21"/><circle cx="1014.0" cy="245.5" r="5.21"/><circle cx="680.3" cy="167.8" r="5.21"/><circle cx="884.5" cy="769.6" r="5.21"/><circle cx="888.7" cy="169.9" r="5.21"/><circle cx="925.1" cy="228.4" r="5.21"/><circle cx="913.6" cy="212.3" r="5.21"/><circle cx="851.9" cy="182.3" r="5.21"/><circle cx="948.4" cy="175.3" r="5.21"/><circle cx="981.7" cy="157.5" r="5.21"/><circle cx="924.6" cy="191.5" r="5.21"/><circle cx="675.5" cy="167.3" r="5.21"/><circle cx="825.4" cy="228.7" r="5.21"/><circle cx="867.3" cy="230.1" r="5.21"/><circle cx="825.2" cy="170.4" r="5.21"/><circle cx="898.7" cy="820.5" r="5.21"/><circle cx="946.9" cy="241.3" r="5.21"/><circle cx="742.9" cy="157.4" r="5.21"/><circle cx="805.3" cy="157.3" r="5.21"/><circle cx="830.0" cy="156.4" r="5.21"/><circle cx="747.2" cy="792.4" r="5.21"/><circle cx="877.1" cy="139.3" r="5.21"/><circle cx="804.3" cy="233.2" r="5.21"/><circle cx="986.0" cy="220.1" r="5.21"/><circle cx="931.1" cy="157.5" r="5.21"/><circle cx="939.4" cy="153.3" r="5.21"/><circle cx="929.8" cy="790.0" r="5.21"/><circle cx="763.0" cy="232.3" r="5.21"/><circle cx="696.7" cy="776.4" r="5.21"/><circle cx="733.7" cy="162.0" r="5.21"/><circle cx="813.9" cy="239.8" r="5.21"/><circle cx="995.5" cy="200.6" r="5.21"/><circle cx="925.1" cy="164.6" r="5.21"/><circle cx="769.1" cy="200.5" r="5.21"/><circle cx="760.7" cy="232.7" r="5.21"/><circle cx="818.2" cy="158.4" r="5.21"/><circle cx="971.5" cy="196.6" r="5.21"/><circle cx="929.4" cy="758.8" r="5.21"/><circle cx="1082.1" cy="179.9" r="5.21"/><circle cx="846.3" cy="200.8" r="5.21"/><circle cx="855.3" cy="176.6" r="5.21"/><circle cx="670.9" cy="166.6" r="5.21"/><circle cx="801.4" cy="149.3" r="5.21"/><circle cx="1011.5" cy="186.3" r="5.21"/><circle cx="845.3" cy="204.9" r="5.21"/><circle cx="932.9" cy="243.0" r="5.21"/><circle cx="822.3" cy="240.4" r="5.21"/><circle cx="780.4" cy="173.2" r="5.21"/><circle cx="798.2" cy="168.0" r="5.21"/><circle cx="783.6" cy="163.6" r="5.21"/><circle cx="397.4" cy="238.8" r="5.21"/><circle cx="847.1" cy="149.4" r="5.21"/><circle cx="792.7" cy="178.0" r="5.21"/><circle cx="757.6" cy="140.1" r="5.21"/><circle cx="1063.6" cy="165.8" r="5.21"/><circle cx="963.9" cy="157.3" r="5.21"/><circle cx="946.4" cy="218.8" r="5.21"/><circle cx="975.1" cy="229.4" r="5.21"/><circle cx="819.3" cy="146.6" r="5.21"/><circle cx="919.8" cy="227.0" r="5.21"/><circle cx="694.4" cy="222.6" r="5.21"/><circle cx="603.4" cy="806.9" r="5.21"/><circle cx="872.2" cy="203.9" r="5.21"/><circle cx="862.3" cy="234.6" r="5.21"/><circle cx="879.9" cy="188.4" r="5.21"/><circle cx="797.3" cy="243.3" r="5.21"/><circle cx="762.7" cy="217.3" r="5.21"/><circle cx="879.1" cy="141.6" r="5.21"/><circle cx="932.7" cy="225.5" r="5.21"/><circle cx="834.2" cy="254.0" r="5.21"/><circle cx="926.6" cy="203.6" r="5.21"/><circle cx="785.6" cy="235.8" r="5.21"/><circle cx="811.3" cy="177.6" r="5.21"/><circle cx="951.8" cy="197.6" r="5.21"/><circle cx="700.0" cy="252.1" r="5.21"/><circle cx="992.6" cy="242.8" r="5.21"/><circle cx="847.7" cy="246.9" r="5.21"/><circle cx="761.5" cy="159.1" r="5.21"/><circle cx="707.8" cy="153.6" r="5.21"/><circle cx="721.9" cy="151.6" r="5.21"/><circle cx="1010.8" cy="141.3" r="5.21"/><circle cx="771.4" cy="212.5" r="5.21"/><circle cx="893.7" cy="744.7" r="5.21"/><circle cx="984.4" cy="148.2" r="5.21"/><circle cx="731.3" cy="158.2" r="5.21"/><circle cx="650.9" cy="200.4" r="5.21"/><circle cx="757.2" cy="232.7" r="5.21"/><circle cx="1025.2" cy="232.3" r="5.21"/><circle cx="957.3" cy="151.2" r="5.21"/><circle cx="655.0" cy="839.7" r="5.21"/><circle cx="526.8" cy="227.1" r="5.21"/><circle cx="867.3" cy="184.3" r="5.21"/><circle cx="701.1" cy="197.1" r="5.21"/><circle cx="830.3" cy="175.8" r="5.21"/><circle cx="688.9" cy="254.7" r="5.21"/><circle cx="733.9" cy="239.8" r="5.21"/><circle cx="738.4" cy="155.9" r="5.21"/><circle cx="1003.9" cy="203.1" r="5.21"/><circle cx="818.2" cy="231.2" r="5.21"/><circle cx="921.9" cy="252.0" r="5.21"/><circle cx="872.3" cy="151.4" r="5.21"/><circle cx="821.8" cy="165.1" r="5.21"/><circle cx="758.8" cy="155.4" r="5.21"/><circle cx="760.4" cy="215.4" r="5.21"/><circle cx="727.2" cy="188.4" r="5.21"/><circle cx="866.9" cy="178.6" r="5.21"/><circle cx="945.6" cy="253.1" r="5.21"/><circle cx="769.5" cy="166.5" r="5.21"/><circle cx="934.4" cy="178.8" r="5.21"/><circle cx="720.1" cy="171.1" r="5.21"/><circle cx="923.5" cy="139.0" r="5.21"/><circle cx="759.5" cy="203.4" r="5.21"/><circle cx="949.0" cy="244.3" r="5.21"/><circle cx="804.3" cy="154.8" r="5.21"/><circle cx="936.2" cy="764.0" r="5.21"/><circle cx="842.2" cy="248.3" r="5.21"/><circle cx="935.5" cy="243.9" r="5.21"/><circle cx="1009.3" cy="775.3" r="5.21"/><circle cx="946.0" cy="741.1" r="5.21"/><circle cx="801.7" cy="254.5" r="5.21"/><circle cx="775.7" cy="207.5" r="5.21"/><circle cx="746.4" cy="789.6" r="5.21"/><circle cx="806.4" cy="165.2" r="5.21"/><circle cx="1037.6" cy="225.5" r="5.21"/><circle cx="684.1" cy="193.1" r="5.21"/><circle cx="871.7" cy="243.7" r="5.21"/><circle cx="885.8" cy="205.7" r="5.21"/><circle cx="818.4" cy="174.0" r="5.21"/><circle cx="582.2" cy="202.1" r="5.21"/><circle cx="1010.4" cy="253.1" r="5.21"/><circle cx="792.9" cy="147.4" r="5.21"/><circle cx="622.7" cy="165.2" r="5.21"/><circle cx="806.9" cy="177.8" r="5.21"/><circle cx="995.4" cy="239.4" r="5.21"/><circle cx="932.5" cy="180.3" r="5.21"/><circle cx="846.3" cy="224.1" r="5.21"/><circle cx="831.8" cy="189.6" r="5.21"/><circle cx="668.4" cy="757.2" r="5.21"/><circle cx="902.9" cy="163.5" r="5.21"/><circle cx="839.0" cy="151.0" r="5.21"/><circle cx="706.1" cy="169.3" r="5.21"/><circle cx="948.5" cy="829.0" r="5.21"/><circle cx="885.9" cy="160.3" r="5.21"/><circle cx="727.2" cy="216.5" r="5.21"/><circle cx="870.9" cy="221.9" r="5.21"/><circle cx="860.8" cy="208.9" r="5.21"/><circle cx="690.9" cy="162.4" r="5.21"/><circle cx="808.6" cy="178.6" r="5.21"/><circle cx="704.8" cy="157.6" r="5.21"/><circle cx="904.1" cy="160.2" r="5.21"/><circle cx="730.6" cy="150.0" r="5.21"/><circle cx="757.8" cy="183.2" r="5.21"/><circle cx="900.2" cy="153.7" r="5.21"/><circle cx="758.7" cy="247.8" r="5.21"/><circle cx="823.6" cy="175.3" r="5.21"/><circle cx="808.3" cy="144.9" r="5.21"/><circle cx="762.2" cy="152.7" r="5.21"/><circle cx="473.7" cy="194.3" r="5.21"/><circle cx="577.1" cy="220.0" r="5.21"/><circle cx="727.7" cy="224.2" r="5.21"/><circle cx="938.0" cy="241.5" r="5.21"/><circle cx="893.7" cy="767.0" r="5.21"/><circle cx="1057.4" cy="232.0" r="5.21"/><circle cx="875.4" cy="208.2" r="5.21"/><circle cx="766.2" cy="139.2" r="5.21"/><circle cx="739.7" cy="168.1" r="5.21"/><circle cx="856.7" cy="247.9" r="5.21"/><circle cx="909.4" cy="217.0" r="5.21"/><circle cx="493.8" cy="805.0" r="5.21"/><circle cx="718.5" cy="143.4" r="5.21"/><circle cx="911.3" cy="194.2" r="5.21"/><circle cx="960.4" cy="253.1" r="5.21"/><circle cx="1034.4" cy="767.5" r="5.21"/><circle cx="946.3" cy="207.4" r="5.21"/><circle cx="732.0" cy="219.9" r="5.21"/><circle cx="1027.7" cy="823.0" r="5.21"/><circle cx="932.4" cy="198.9" r="5.21"/><circle cx="794.4" cy="146.0" r="5.21"/><circle cx="805.1" cy="813.3" r="5.21"/><circle cx="1004.0" cy="145.3" r="5.21"/><circle cx="847.6" cy="218.7" r="5.21"/><circle cx="715.3" cy="147.1" r="5.21"/><circle cx="1018.1" cy="211.6" r="5.21"/><circle cx="786.0" cy="165.4" r="5.21"/><circle cx="823.5" cy="186.9" r="5.21"/><circle cx="717.3" cy="161.9" r="5.21"/><circle cx="671.1" cy="180.7" r="5.21"/><circle cx="807.9" cy="181.0" r="5.21"/><circle cx="509.0" cy="244.6" r="5.21"/><circle cx="937.3" cy="152.1" r="5.21"/><circle cx="769.3" cy="815.6" r="5.21"/><circle cx="982.1" cy="156.7" r="5.21"/><circle cx="963.2" cy="183.5" r="5.21"/><circle cx="1052.9" cy="165.6" r="5.21"/><circle cx="580.6" cy="785.9" r="5.21"/><circle cx="947.3" cy="178.5" r="5.21"/><circle cx="879.5" cy="252.3" r="5.21"/><circle cx="772.7" cy="164.7" r="5.21"/><circle cx="857.3" cy="148.5" r="5.21"/><circle cx="981.7" cy="156.3" r="5.21"/><circle cx="851.1" cy="158.9" r="5.21"/><circle cx="873.1" cy="188.9" r="5.21"/><circle cx="869.3" cy="244.2" r="5.21"/><circle cx="898.9" cy="149.6" r="5.21"/><circle cx="754.3" cy="149.8" r="5.21"/><circle cx="738.0" cy="187.0" r="5.21"/><circle cx="959.0" cy="204.1" r="5.21"/><circle cx="730.5" cy="159.6" r="5.21"/><circle cx="831.9" cy="181.7" r="5.21"/><circle cx="824.9" cy="235.8" r="5.21"/><circle cx="757.6" cy="247.5" r="5.21"/><circle cx="816.1" cy="176.5" r="5.21"/><circle cx="994.3" cy="207.8" r="5.21"/><circle cx="1052.3" cy="239.3" r="5.21"/><circle cx="963.7" cy="251.8" r="5.21"/><circle cx="1027.2" cy="157.5" r="5.21"/><circle cx="961.6" cy="250.5" r="5.21"/><circle cx="995.2" cy="254.3" r="5.21"/><circle cx="939.3" cy="153.3" r="5.21"/><circle cx="704.2" cy="243.7" r="5.21"/><circle cx="715.6" cy="183.1" r="5.21"/><circle cx="832.8" cy="241.3" r="5.21"/><circle cx="995.9" cy="174.1" r="5.21"/><circle cx="768.8" cy="169.0" r="5.21"/><circle cx="824.3" cy="839.5" r="5.21"/><circle cx="644.7" cy="193.5" r="5.21"/><circle cx="911.0" cy="146.4" r="5.21"/><circle cx="837.5" cy="141.3" r="5.21"/><circle cx="670.5" cy="190.5" r="5.21"/><circle cx="983.1" cy="214.9" r="5.21"/><circle cx="1017.6" cy="151.5" r="5.21"/><circle cx="1041.9" cy="212.8" r="5.21"/><circle cx="698.3" cy="149.3" r="5.21"/><circle cx="590.5" cy="237.3" r="5.21"/><circle cx="675.3" cy="185.8" r="5.21"/><circle cx="723.1" cy="251.1" r="5.21"/><circle cx="889.2" cy="203.6" r="5.21"/><circle cx="887.1" cy="210.1" r="5.21"/><circle cx="783.6" cy="142.8" r="5.21"/><circle cx="738.4" cy="148.3" r="5.21"/><circle cx="708.8" cy="240.9" r="5.21"/><circle cx="924.8" cy="230.9" r="5.21"/><circle cx="1014.6" cy="161.6" r="5.21"/><circle cx="761.8" cy="186.2" r="5.21"/><circle cx="1008.7" cy="164.5" r="5.21"/><circle cx="769.0" cy="162.2" r="5.21"/><circle cx="990.3" cy="249.0" r="5.21"/><circle cx="746.9" cy="230.7" r="5.21"/><circle cx="884.3" cy="159.0" r="5.21"/><circle cx="812.6" cy="179.8" r="5.21"/><circle cx="720.5" cy="226.8" r="5.21"/><circle cx="771.4" cy="169.6" r="5.21"/><circle cx="672.4" cy="146.2" r="5.21"/><circle cx="907.4" cy="197.7" r="5.21"/><circle cx="813.8" cy="205.3" r="5.21"/><circle cx="668.0" cy="193.0" r="5.21"/><circle cx="865.1" cy="152.2" r="5.21"/><circle cx="747.4" cy="189.0" r="5.21"/><circle cx="844.0" cy="161.2" r="5.21"/><circle cx="927.0" cy="140.9" r="5.21"/><circle cx="985.8" cy="251.4" r="5.21"/><circle cx="739.2" cy="785.9" r="5.21"/><circle cx="883.3" cy="214.1" r="5.21"/><circle cx="877.1" cy="180.8" r="5.21"/><circle cx="799.9" cy="230.7" r="5.21"/><circle cx="891.0" cy="160.2" r="5.21"/><circle cx="670.8" cy="190.9" r="5.21"/><circle cx="602.5" cy="823.8" r="5.21"/><circle cx="967.5" cy="187.7" r="5.21"/><circle cx="746.4" cy="740.5" r="5.21"/><circle cx="798.0" cy="144.7" r="5.21"/><circle cx="872.3" cy="220.5" r="5.21"/><circle cx="796.5" cy="151.7" r="5.21"/><circle cx="676.8" cy="225.8" r="5.21"/><circle cx="711.8" cy="165.8" r="5.21"/><circle cx="979.1" cy="240.2" r="5.21"/><circle cx="955.7" cy="149.7" r="5.21"/><circle cx="734.5" cy="220.8" r="5.21"/><circle cx="929.4" cy="167.1" r="5.21"/><circle cx="608.8" cy="836.9" r="5.21"/><circle cx="917.1" cy="144.8" r="5.21"/><circle cx="766.6" cy="220.2" r="5.21"/><circle cx="971.4" cy="188.1" r="5.21"/><circle cx="709.2" cy="243.1" r="5.21"/><circle cx="700.9" cy="219.4" r="5.21"/><circle cx="869.7" cy="230.4" r="5.21"/><circle cx="836.9" cy="232.5" r="5.21"/><circle cx="846.3" cy="180.6" r="5.21"/><circle cx="826.9" cy="833.7" r="5.21"/><circle cx="942.1" cy="221.3" r="5.21"/><circle cx="1043.0" cy="139.5" r="5.21"/><circle cx="641.7" cy="235.9" r="5.21"/><circle cx="667.4" cy="224.4" r="5.21"/><circle cx="819.0" cy="252.6" r="5.21"/><circle cx="784.7" cy="225.2" r="5.21"/><circle cx="793.8" cy="234.0" r="5.21"/><circle cx="928.9" cy="190.4" r="5.21"/><circle cx="803.4" cy="156.5" r="5.21"/><circle cx="854.0" cy="751.3" r="5.21"/><circle cx="739.6" cy="240.7" r="5.21"/><circle cx="764.4" cy="734.9" r="5.21"/><circle cx="858.0" cy="166.8" r="5.21"/><circle cx="951.8" cy="199.5" r="5.21"/><circle cx="865.2" cy="247.5" r="5.21"/><circle cx="937.0" cy="190.8" r="5.21"/><circle cx="703.3" cy="213.3" r="5.21"/><circle cx="778.1" cy="224.0" r="5.21"/><circle cx="960.6" cy="174.7" r="5.21"/><circle cx="591.2" cy="810.3" r="5.21"/><circle cx="972.2" cy="164.6" r="5.21"/><circle cx="985.6" cy="223.7" r="5.21"/><circle cx="808.6" cy="141.5" r="5.21"/><circle cx="636.1" cy="176.7" r="5.21"/><circle cx="781.2" cy="152.5" r="5.21"/><circle cx="731.3" cy="184.4" r="5.21"/><circle cx="731.6" cy="142.2" r="5.21"/><circle cx="1059.7" cy="177.1" r="5.21"/><circle cx="896.0" cy="177.5" r="5.21"/><circle cx="917.3" cy="222.1" r="5.21"/><circle cx="823.1" cy="148.6" r="5.21"/><circle cx="952.5" cy="201.8" r="5.21"/><circle cx="737.0" cy="193.9" r="5.21"/><circle cx="953.8" cy="216.1" r="5.21"/><circle cx="665.1" cy="143.0" r="5.21"/><circle cx="816.9" cy="170.5" r="5.21"/><circle cx="750.2" cy="193.0" r="5.21"/><circle cx="706.5" cy="150.7" r="5.21"/><circle cx="718.1" cy="157.5" r="5.21"/><circle cx="889.8" cy="167.1" r="5.21"/><circle cx="728.1" cy="249.6" r="5.21"/><circle cx="754.7" cy="198.6" r="5.21"/><circle cx="836.0" cy="238.2" r="5.21"/><circle cx="989.4" cy="209.9" r="5.21"/><circle cx="671.1" cy="193.8" r="5.21"/><circle cx="832.2" cy="180.2" r="5.21"/><circle cx="821.3" cy="168.8" r="5.21"/><circle cx="1015.2" cy="161.3" r="5.21"/><circle cx="1058.4" cy="226.7" r="5.21"/><circle cx="792.5" cy="241.7" r="5.21"/><circle cx="971.9" cy="193.2" r="5.21"/><circle cx="690.5" cy="207.1" r="5.21"/><circle cx="981.6" cy="146.5" r="5.21"/><circle cx="545.7" cy="152.9" r="5.21"/><circle cx="824.1" cy="183.6" r="5.21"/><circle cx="828.7" cy="166.7" r="5.21"/><circle cx="967.9" cy="168.5" r="5.21"/><circle cx="991.0" cy="246.3" r="5.21"/><circle cx="940.0" cy="194.6" r="5.21"/><circle cx="875.0" cy="138.7" r="5.21"/><circle cx="949.4" cy="216.9" r="5.21"/><circle cx="651.6" cy="167.5" r="5.21"/><circle cx="882.5" cy="243.5" r="5.21"/><circle cx="893.6" cy="186.1" r="5.21"/><circle cx="742.3" cy="149.7" r="5.21"/><circle cx="833.3" cy="250.8" r="5.21"/><circle cx="827.8" cy="249.2" r="5.21"/><circle cx="301.2" cy="746.9" r="5.21"/><circle cx="797.7" cy="250.2" r="5.21"/><circle cx="895.9" cy="244.9" r="5.21"/><circle cx="936.6" cy="166.6" r="5.21"/><circle cx="692.1" cy="186.6" r="5.21"/><circle cx="767.6" cy="253.4" r="5.21"/><circle cx="852.3" cy="810.2" r="5.21"/><circle cx="876.3" cy="172.1" r="5.21"/><circle cx="477.6" cy="179.3" r="5.21"/><circle cx="899.0" cy="246.1" r="5.21"/><circle cx="923.6" cy="245.1" r="5.21"/><circle cx="736.6" cy="226.9" r="5.21"/><circle cx="906.0" cy="207.3" r="5.21"/><circle cx="739.2" cy="151.0" r="5.21"/><circle cx="917.5" cy="238.7" r="5.21"/><circle cx="703.3" cy="213.8" r="5.21"/><circle cx="920.8" cy="204.3" r="5.21"/><circle cx="808.5" cy="200.0" r="5.21"/><circle cx="688.6" cy="253.2" r="5.21"/><circle cx="997.6" cy="155.3" r="5.21"/><circle cx="870.8" cy="242.7" r="5.21"/><circle cx="919.8" cy="172.2" r="5.21"/><circle cx="800.8" cy="182.2" r="5.21"/><circle cx="918.0" cy="142.6" r="5.21"/><circle cx="846.9" cy="163.1" r="5.21"/><circle cx="651.1" cy="250.6" r="5.21"/><circle cx="969.8" cy="140.7" r="5.21"/><circle cx="966.1" cy="181.4" r="5.21"/><circle cx="762.6" cy="177.7" r="5.21"/><circle cx="911.9" cy="828.0" r="5.21"/><circle cx="782.6" cy="200.9" r="5.21"/><circle cx="877.6" cy="730.0" r="5.21"/><circle cx="1012.1" cy="204.9" r="5.21"/><circle cx="809.8" cy="728.7" r="5.21"/><circle cx="735.1" cy="178.0" r="5.21"/><circle cx="718.7" cy="193.5" r="5.21"/><circle cx="741.9" cy="161.1" r="5.21"/><circle cx="852.7" cy="195.8" r="5.21"/><circle cx="644.4" cy="740.0" r="5.21"/><circle cx="669.5" cy="225.4" r="5.21"/><circle cx="806.7" cy="173.7" r="5.21"/><circle cx="950.2" cy="171.4" r="5.21"/><circle cx="1073.6" cy="168.8" r="5.21"/><circle cx="813.1" cy="239.0" r="5.21"/><circle cx="794.4" cy="150.5" r="5.21"/><circle cx="760.5" cy="164.7" r="5.21"/><circle cx="716.7" cy="794.5" r="5.21"/><circle cx="949.1" cy="208.3" r="5.21"/><circle cx="644.3" cy="233.5" r="5.21"/><circle cx="1006.6" cy="239.6" r="5.21"/><circle cx="698.4" cy="176.6" r="5.21"/><circle cx="787.7" cy="140.8" r="5.21"/><circle cx="837.3" cy="794.4" r="5.21"/><circle cx="966.2" cy="158.8" r="5.21"/><circle cx="955.5" cy="182.3" r="5.21"/><circle cx="792.7" cy="220.4" r="5.21"/><circle cx="855.6" cy="216.1" r="5.21"/><circle cx="728.0" cy="219.3" r="5.21"/><circle cx="980.8" cy="788.4" r="5.21"/><circle cx="1003.3" cy="160.8" r="5.21"/><circle cx="844.2" cy="764.7" r="5.21"/><circle cx="869.6" cy="178.8" r="5.21"/><circle cx="847.1" cy="236.2" r="5.21"/><circle cx="738.1" cy="252.5" r="5.21"/><circle cx="628.6" cy="215.6" r="5.21"/><circle cx="812.9" cy="240.9" r="5.21"/><circle cx="945.5" cy="249.2" r="5.21"/><circle cx="978.3" cy="153.6" r="5.21"/><circle cx="783.8" cy="181.2" r="5.21"/><circle cx="688.8" cy="178.4" r="5.21"/><circle cx="704.9" cy="159.6" r="5.21"/><circle cx="761.6" cy="157.6" r="5.21"/><circle cx="784.3" cy="235.7" r="5.21"/><circle cx="968.0" cy="181.5" r="5.21"/><circle cx="632.1" cy="150.4" r="5.21"/><circle cx="821.2" cy="167.6" r="5.21"/><circle cx="955.0" cy="161.1" r="5.21"/><circle cx="556.1" cy="208.9" r="5.21"/><circle cx="732.6" cy="143.8" r="5.21"/><circle cx="693.7" cy="167.5" r="5.21"/><circle cx="893.6" cy="253.2" r="5.21"/><circle cx="753.2" cy="810.3" r="5.21"/><circle cx="1006.8" cy="223.9" r="5.21"/><circle cx="804.1" cy="724.1" r="5.21"/><circle cx="829.9" cy="202.7" r="5.21"/><circle cx="839.7" cy="165.0" r="5.21"/><circle cx="967.2" cy="243.6" r="5.21"/><circle cx="805.5" cy="248.6" r="5.21"/><circle cx="659.4" cy="139.8" r="5.21"/><circle cx="969.4" cy="222.1" r="5.21"/><circle cx="880.3" cy="254.0" r="5.21"/><circle cx="874.8" cy="252.7" r="5.21"/><circle cx="728.9" cy="200.5" r="5.21"/><circle cx="922.3" cy="192.6" r="5.21"/><circle cx="826.6" cy="232.6" r="5.21"/><circle cx="805.9" cy="231.1" r="5.21"/><circle cx="1029.8" cy="189.7" r="5.21"/><circle cx="621.1" cy="246.2" r="5.21"/><circle cx="761.8" cy="187.2" r="5.21"/><circle cx="851.2" cy="225.3" r="5.21"/><circle cx="755.4" cy="232.4" r="5.21"/><circle cx="797.3" cy="160.1" r="5.21"/><circle cx="830.6" cy="252.0" r="5.21"/><circle cx="789.8" cy="182.0" r="5.21"/><circle cx="842.4" cy="189.6" r="5.21"/><circle cx="794.2" cy="194.8" r="5.21"/><circle cx="814.6" cy="203.1" r="5.21"/><circle cx="952.5" cy="797.9" r="5.21"/><circle cx="864.5" cy="201.6" r="5.21"/><circle cx="801.6" cy="779.8" r="5.21"/><circle cx="945.5" cy="177.4" r="5.21"/><circle cx="870.1" cy="179.2" r="5.21"/><circle cx="699.1" cy="199.8" r="5.21"/><circle cx="776.6" cy="206.6" r="5.21"/><circle cx="558.4" cy="202.2" r="5.21"/><circle cx="818.4" cy="252.3" r="5.21"/><circle cx="758.3" cy="168.4" r="5.21"/><circle cx="848.5" cy="157.5" r="5.21"/><circle cx="723.1" cy="828.3" r="5.21"/><circle cx="866.7" cy="185.6" r="5.21"/><circle cx="949.0" cy="181.4" r="5.21"/><circle cx="793.8" cy="161.3" r="5.21"/><circle cx="864.4" cy="159.2" r="5.21"/><circle cx="531.9" cy="149.8" r="5.21"/><circle cx="961.1" cy="212.4" r="5.21"/><circle cx="799.8" cy="175.0" r="5.21"/><circle cx="680.4" cy="252.1" r="5.21"/><circle cx="762.8" cy="188.5" r="5.21"/><circle cx="818.0" cy="766.0" r="5.21"/><circle cx="801.0" cy="221.8" r="5.21"/><circle cx="1028.5" cy="190.1" r="5.21"/><circle cx="873.2" cy="190.0" r="5.21"/><circle cx="809.3" cy="766.8" r="5.21"/><circle cx="968.3" cy="170.9" r="5.21"/><circle cx="807.3" cy="254.7" r="5.21"/><circle cx="844.9" cy="166.8" r="5.21"/><circle cx="737.9" cy="210.0" r="5.21"/><circle cx="680.8" cy="163.4" r="5.21"/><circle cx="960.2" cy="156.2" r="5.21"/><circle cx="911.2" cy="206.2" r="5.21"/><circle cx="662.9" cy="192.2" r="5.21"/><circle cx="602.5" cy="730.3" r="5.21"/><circle cx="670.6" cy="761.9" r="5.21"/><circle cx="797.9" cy="163.1" r="5.21"/><circle cx="926.9" cy="140.7" r="5.21"/><circle cx="738.7" cy="153.5" r="5.21"/><circle cx="865.0" cy="166.3" r="5.21"/><circle cx="678.5" cy="214.9" r="5.21"/><circle cx="716.4" cy="161.8" r="5.21"/><circle cx="607.4" cy="247.6" r="5.21"/><circle cx="550.3" cy="154.2" r="5.21"/><circle cx="672.4" cy="139.0" r="5.21"/><circle cx="680.6" cy="253.9" r="5.21"/><circle cx="885.5" cy="169.9" r="5.21"/><circle cx="733.3" cy="221.7" r="5.21"/><circle cx="730.8" cy="244.0" r="5.21"/><circle cx="884.6" cy="139.3" r="5.21"/><circle cx="1015.4" cy="236.4" r="5.21"/><circle cx="812.3" cy="233.3" r="5.21"/><circle cx="893.1" cy="201.5" r="5.21"/><circle cx="960.6" cy="233.6" r="5.21"/><circle cx="865.5" cy="179.0" r="5.21"/><circle cx="964.2" cy="202.4" r="5.21"/><circle cx="832.5" cy="827.3" r="5.21"/><circle cx="706.1" cy="212.8" r="5.21"/><circle cx="980.4" cy="149.5" r="5.21"/><circle cx="940.3" cy="237.2" r="5.21"/><circle cx="763.8" cy="195.0" r="5.21"/><circle cx="830.6" cy="146.9" r="5.21"/><circle cx="889.5" cy="231.0" r="5.21"/><circle cx="753.6" cy="222.4" r="5.21"/><circle cx="603.4" cy="781.2" r="5.21"/><circle cx="700.2" cy="243.8" r="5.21"/><circle cx="728.2" cy="206.5" r="5.21"/><circle cx="916.3" cy="142.4" r="5.21"/><circle cx="965.3" cy="148.8" r="5.21"/><circle cx="798.7" cy="206.2" r="5.21"/><circle cx="551.0" cy="255.2" r="5.21"/><circle cx="797.5" cy="180.0" r="5.21"/><circle cx="924.8" cy="204.9" r="5.21"/><circle cx="950.3" cy="165.2" r="5.21"/><circle cx="1037.3" cy="188.9" r="5.21"/><circle cx="1033.5" cy="164.1" r="5.21"/><circle cx="708.4" cy="170.9" r="5.21"/><circle cx="916.2" cy="247.7" r="5.21"/><circle cx="852.5" cy="238.3" r="5.21"/><circle cx="727.8" cy="200.1" r="5.21"/><circle cx="855.6" cy="228.3" r="5.21"/><circle cx="747.5" cy="179.9" r="5.21"/><circle cx="625.3" cy="217.4" r="5.21"/><circle cx="846.6" cy="189.9" r="5.21"/><circle cx="971.0" cy="223.6" r="5.21"/><circle cx="754.7" cy="194.5" r="5.21"/><circle cx="1009.6" cy="246.2" r="5.21"/><circle cx="888.3" cy="800.6" r="5.21"/><circle cx="893.2" cy="239.4" r="5.21"/><circle cx="910.8" cy="217.4" r="5.21"/><circle cx="885.5" cy="250.3" r="5.21"/><circle cx="904.6" cy="231.8" r="5.21"/><circle cx="999.5" cy="239.0" r="5.21"/><circle cx="739.5" cy="239.6" r="5.21"/><circle cx="937.9" cy="175.0" r="5.21"/><circle cx="813.2" cy="192.4" r="5.21"/><circle cx="1006.1" cy="226.7" r="5.21"/><circle cx="1005.2" cy="167.6" r="5.21"/><circle cx="966.9" cy="210.8" r="5.21"/><circle cx="768.8" cy="227.8" r="5.21"/><circle cx="721.2" cy="171.0" r="5.21"/><circle cx="864.2" cy="226.4" r="5.21"/><circle cx="886.6" cy="204.3" r="5.21"/><circle cx="762.7" cy="145.0" r="5.21"/><circle cx="924.7" cy="180.3" r="5.21"/><circle cx="604.6" cy="184.8" r="5.21"/><circle cx="638.4" cy="765.9" r="5.21"/><circle cx="712.4" cy="219.9" r="5.21"/><circle cx="1002.3" cy="177.2" r="5.21"/><circle cx="685.4" cy="243.9" r="5.21"/><circle cx="905.4" cy="212.8" r="5.21"/><circle cx="995.2" cy="236.3" r="5.21"/><circle cx="770.8" cy="233.9" r="5.21"/><circle cx="938.6" cy="232.1" r="5.21"/><circle cx="714.9" cy="199.4" r="5.21"/><circle cx="1084.0" cy="140.8" r="5.21"/><circle cx="925.0" cy="160.7" r="5.21"/><circle cx="964.4" cy="237.9" r="5.21"/><circle cx="561.1" cy="232.2" r="5.21"/><circle cx="934.6" cy="144.8" r="5.21"/><circle cx="830.1" cy="171.4" r="5.21"/><circle cx="818.4" cy="197.4" r="5.21"/><circle cx="937.9" cy="247.7" r="5.21"/><circle cx="673.2" cy="147.5" r="5.21"/><circle cx="790.0" cy="152.1" r="5.21"/><circle cx="681.3" cy="230.8" r="5.21"/><circle cx="747.9" cy="196.6" r="5.21"/><circle cx="670.3" cy="178.2" r="5.21"/><circle cx="813.0" cy="156.4" r="5.21"/><circle cx="970.5" cy="251.7" r="5.21"/><circle cx="906.3" cy="194.5" r="5.21"/><circle cx="893.5" cy="221.2" r="5.21"/><circle cx="798.0" cy="772.6" r="5.21"/><circle cx="785.0" cy="174.8" r="5.21"/><circle cx="784.2" cy="771.8" r="5.21"/><circle cx="919.3" cy="139.8" r="5.21"/><circle cx="928.4" cy="151.9" r="5.21"/><circle cx="1014.8" cy="161.2" r="5.21"/><circle cx="789.5" cy="160.3" r="5.21"/><circle cx="898.2" cy="192.5" r="5.21"/><circle cx="708.7" cy="221.8" r="5.21"/><circle cx="868.7" cy="249.4" r="5.21"/><circle cx="971.5" cy="164.8" r="5.21"/><circle cx="946.6" cy="799.8" r="5.21"/><circle cx="737.9" cy="165.6" r="5.21"/><circle cx="925.9" cy="160.6" r="5.21"/><circle cx="887.9" cy="239.0" r="5.21"/><circle cx="674.3" cy="158.9" r="5.21"/><circle cx="548.3" cy="209.7" r="5.21"/><circle cx="713.7" cy="213.3" r="5.21"/><circle cx="988.1" cy="197.2" r="5.21"/><circle cx="969.8" cy="211.3" r="5.21"/><circle cx="918.2" cy="153.0" r="5.21"/><circle cx="727.4" cy="195.6" r="5.21"/><circle cx="530.8" cy="240.5" r="5.21"/><circle cx="710.6" cy="251.8" r="5.21"/><circle cx="869.4" cy="215.2" r="5.21"/><circle cx="956.5" cy="194.7" r="5.21"/><circle cx="1004.4" cy="232.7" r="5.21"/><circle cx="697.4" cy="208.6" r="5.21"/><circle cx="605.2" cy="181.6" r="5.21"/><circle cx="712.4" cy="208.2" r="5.21"/><circle cx="714.9" cy="153.8" r="5.21"/><circle cx="517.3" cy="209.3" r="5.21"/><circle cx="830.4" cy="169.4" r="5.21"/><circle cx="1024.4" cy="250.9" r="5.21"/><circle cx="837.9" cy="187.0" r="5.21"/><circle cx="717.9" cy="189.7" r="5.21"/><circle cx="784.4" cy="149.7" r="5.21"/><circle cx="1003.7" cy="225.9" r="5.21"/><circle cx="771.9" cy="734.4" r="5.21"/><circle cx="1006.9" cy="190.6" r="5.21"/><circle cx="658.4" cy="192.3" r="5.21"/><circle cx="646.5" cy="201.7" r="5.21"/><circle cx="846.8" cy="210.9" r="5.21"/><circle cx="738.1" cy="193.6" r="5.21"/><circle cx="848.9" cy="215.7" r="5.21"/><circle cx="1001.7" cy="236.7" r="5.21"/><circle cx="1031.8" cy="250.5" r="5.21"/><circle cx="917.2" cy="209.2" r="5.21"/><circle cx="941.0" cy="742.8" r="5.21"/><circle cx="698.8" cy="209.6" r="5.21"/><circle cx="1078.1" cy="246.9" r="5.21"/><circle cx="434.5" cy="140.3" r="5.21"/><circle cx="856.0" cy="247.2" r="5.21"/><circle cx="726.1" cy="155.8" r="5.21"/><circle cx="882.0" cy="172.6" r="5.21"/><circle cx="712.8" cy="166.9" r="5.21"/><circle cx="985.7" cy="195.2" r="5.21"/><circle cx="934.3" cy="198.1" r="5.21"/><circle cx="803.6" cy="235.3" r="5.21"/><circle cx="857.1" cy="208.7" r="5.21"/><circle cx="732.6" cy="147.5" r="5.21"/><circle cx="933.4" cy="208.5" r="5.21"/><circle cx="703.8" cy="220.0" r="5.21"/><circle cx="719.6" cy="179.8" r="5.21"/><circle cx="725.4" cy="196.2" r="5.21"/><circle cx="664.4" cy="197.4" r="5.21"/><circle cx="938.4" cy="150.5" r="5.21"/><circle cx="837.4" cy="219.3" r="5.21"/><circle cx="881.0" cy="767.6" r="5.21"/><circle cx="856.6" cy="194.9" r="5.21"/><circle cx="694.0" cy="830.6" r="5.21"/><circle cx="862.4" cy="166.2" r="5.21"/><circle cx="814.6" cy="246.4" r="5.21"/><circle cx="892.4" cy="773.9" r="5.21"/><circle cx="999.9" cy="182.1" r="5.21"/><circle cx="1082.8" cy="185.8" r="5.21"/><circle cx="735.2" cy="182.8" r="5.21"/><circle cx="689.8" cy="235.3" r="5.21"/><circle cx="712.3" cy="189.8" r="5.21"/><circle cx="1025.9" cy="216.1" r="5.21"/><circle cx="481.7" cy="207.8" r="5.21"/><circle cx="924.5" cy="207.6" r="5.21"/><circle cx="616.5" cy="188.0" r="5.21"/><circle cx="886.5" cy="233.4" r="5.21"/><circle cx="711.4" cy="824.6" r="5.21"/><circle cx="710.4" cy="195.5" r="5.21"/><circle cx="835.4" cy="230.4" r="5.21"/><circle cx="1007.7" cy="160.1" r="5.21"/><circle cx="759.6" cy="172.8" r="5.21"/><circle cx="955.3" cy="194.0" r="5.21"/><circle cx="788.6" cy="785.7" r="5.21"/><circle cx="698.8" cy="190.8" r="5.21"/><circle cx="969.2" cy="214.5" r="5.21"/><circle cx="1045.2" cy="183.4" r="5.21"/><circle cx="859.1" cy="170.6" r="5.21"/><circle cx="964.1" cy="160.5" r="5.21"/><circle cx="827.9" cy="250.8" r="5.21"/><circle cx="979.7" cy="150.1" r="5.21"/><circle cx="759.8" cy="186.7" r="5.21"/><circle cx="819.0" cy="164.6" r="5.21"/><circle cx="845.1" cy="148.1" r="5.21"/><circle cx="450.2" cy="151.7" r="5.21"/><circle cx="1011.2" cy="228.5" r="5.21"/><circle cx="1039.4" cy="251.4" r="5.21"/><circle cx="864.5" cy="218.9" r="5.21"/><circle cx="762.7" cy="211.6" r="5.21"/><circle cx="880.0" cy="246.3" r="5.21"/><circle cx="868.7" cy="139.2" r="5.21"/><circle cx="424.3" cy="172.4" r="5.21"/><circle cx="725.6" cy="141.7" r="5.21"/><circle cx="748.9" cy="245.7" r="5.21"/><circle cx="927.7" cy="252.4" r="5.21"/><circle cx="895.2" cy="206.3" r="5.21"/><circle cx="918.3" cy="253.4" r="5.21"/><circle cx="698.9" cy="160.4" r="5.21"/><circle cx="674.2" cy="141.7" r="5.21"/><circle cx="932.6" cy="223.4" r="5.21"/><circle cx="563.0" cy="146.7" r="5.21"/><circle cx="990.3" cy="143.0" r="5.21"/><circle cx="399.4" cy="789.7" r="5.21"/><circle cx="802.0" cy="219.8" r="5.21"/><circle cx="711.7" cy="146.9" r="5.21"/><circle cx="791.2" cy="157.7" r="5.21"/><circle cx="1019.3" cy="724.0" r="5.21"/><circle cx="969.7" cy="149.4" r="5.21"/><circle cx="1038.1" cy="188.6" r="5.21"/><circle cx="921.5" cy="242.4" r="5.21"/><circle cx="757.8" cy="204.7" r="5.21"/><circle cx="857.7" cy="168.0" r="5.21"/><circle cx="799.7" cy="198.4" r="5.21"/><circle cx="751.5" cy="161.8" r="5.21"/><circle cx="938.8" cy="178.3" r="5.21"/><circle cx="802.3" cy="213.5" r="5.21"/><circle cx="542.5" cy="188.7" r="5.21"/><circle cx="687.8" cy="810.3" r="5.21"/><circle cx="1046.7" cy="153.4" r="5.21"/><circle cx="847.9" cy="204.3" r="5.21"/><circle cx="829.9" cy="150.0" r="5.21"/><circle cx="790.1" cy="223.4" r="5.21"/><circle cx="739.2" cy="249.4" r="5.21"/><circle cx="740.6" cy="795.9" r="5.21"/><circle cx="758.8" cy="222.2" r="5.21"/><circle cx="710.9" cy="179.1" r="5.21"/><circle cx="698.4" cy="222.5" r="5.21"/><circle cx="821.8" cy="191.6" r="5.21"/><circle cx="844.8" cy="221.6" r="5.21"/><circle cx="743.6" cy="152.8" r="5.21"/><circle cx="708.0" cy="188.8" r="5.21"/><circle cx="896.6" cy="215.2" r="5.21"/><circle cx="719.9" cy="251.3" r="5.21"/><circle cx="1079.9" cy="148.2" r="5.21"/><circle cx="1038.3" cy="155.1" r="5.21"/><circle cx="980.8" cy="250.3" r="5.21"/><circle cx="761.1" cy="231.8" r="5.21"/><circle cx="757.7" cy="168.9" r="5.21"/><circle cx="785.7" cy="238.1" r="5.21"/><circle cx="1005.7" cy="220.1" r="5.21"/><circle cx="741.4" cy="188.0" r="5.21"/><circle cx="851.5" cy="243.1" r="5.21"/><circle cx="896.3" cy="139.0" r="5.21"/><circle cx="918.6" cy="171.6" r="5.21"/><circle cx="997.4" cy="181.2" r="5.21"/><circle cx="804.9" cy="216.9" r="5.21"/><circle cx="793.8" cy="162.0" r="5.21"/><circle cx="850.1" cy="155.3" r="5.21"/><circle cx="942.8" cy="154.2" r="5.21"/><circle cx="634.1" cy="195.7" r="5.21"/><circle cx="909.7" cy="236.1" r="5.21"/><circle cx="675.3" cy="214.5" r="5.21"/><circle cx="999.6" cy="241.3" r="5.21"/><circle cx="932.1" cy="244.7" r="5.21"/><circle cx="772.8" cy="233.1" r="5.21"/><circle cx="969.2" cy="178.4" r="5.21"/><circle cx="778.1" cy="219.8" r="5.21"/><circle cx="666.6" cy="239.7" r="5.21"/><circle cx="669.0" cy="170.8" r="5.21"/><circle cx="921.3" cy="248.6" r="5.21"/><circle cx="794.7" cy="171.0" r="5.21"/><circle cx="841.3" cy="252.0" r="5.21"/><circle cx="1002.0" cy="175.5" r="5.21"/><circle cx="795.4" cy="834.7" r="5.21"/><circle cx="553.4" cy="213.1" r="5.21"/><circle cx="917.0" cy="200.3" r="5.21"/><circle cx="891.5" cy="183.2" r="5.21"/><circle cx="968.7" cy="178.1" r="5.21"/><circle cx="734.0" cy="223.8" r="5.21"/><circle cx="949.3" cy="182.5" r="5.21"/><circle cx="830.4" cy="198.5" r="5.21"/><circle cx="916.8" cy="241.0" r="5.21"/><circle cx="969.7" cy="223.2" r="5.21"/><circle cx="967.3" cy="183.6" r="5.21"/><circle cx="798.8" cy="243.4" r="5.21"/><circle cx="948.2" cy="217.0" r="5.21"/><circle cx="832.7" cy="201.7" r="5.21"/><circle cx="804.4" cy="168.7" r="5.21"/><circle cx="746.5" cy="143.2" r="5.21"/><circle cx="759.7" cy="158.9" r="5.21"/><circle cx="779.3" cy="255.5" r="5.21"/><circle cx="542.2" cy="221.3" r="5.21"/><circle cx="559.3" cy="190.3" r="5.21"/><circle cx="714.8" cy="231.2" r="5.21"/><circle cx="701.2" cy="145.4" r="5.21"/><circle cx="908.4" cy="838.5" r="5.21"/><circle cx="647.4" cy="233.0" r="5.21"/><circle cx="911.8" cy="230.6" r="5.21"/><circle cx="719.8" cy="180.4" r="5.21"/><circle cx="708.1" cy="236.5" r="5.21"/><circle cx="987.9" cy="170.9" r="5.21"/><circle cx="913.2" cy="217.1" r="5.21"/><circle cx="886.0" cy="211.7" r="5.21"/><circle cx="698.1" cy="762.3" r="5.21"/><circle cx="871.9" cy="177.9" r="5.21"/><circle cx="831.7" cy="168.9" r="5.21"/><circle cx="948.4" cy="247.2" r="5.21"/><circle cx="870.0" cy="188.4" r="5.21"/><circle cx="899.5" cy="186.3" r="5.21"/><circle cx="733.9" cy="227.2" r="5.21"/><circle cx="750.8" cy="239.4" r="5.21"/><circle cx="663.8" cy="207.9" r="5.21"/><circle cx="1017.8" cy="217.4" r="5.21"/><circle cx="564.4" cy="190.3" r="5.21"/><circle cx="778.8" cy="222.1" r="5.21"/><circle cx="999.0" cy="151.8" r="5.21"/><circle cx="941.1" cy="174.6" r="5.21"/><circle cx="817.4" cy="165.8" r="5.21"/><circle cx="865.3" cy="238.9" r="5.21"/><circle cx="958.5" cy="229.4" r="5.21"/><circle cx="965.8" cy="174.3" r="5.21"/><circle cx="1014.1" cy="219.6" r="5.21"/><circle cx="769.2" cy="139.7" r="5.21"/><circle cx="676.3" cy="147.3" r="5.21"/><circle cx="979.5" cy="205.5" r="5.21"/><circle cx="727.8" cy="817.0" r="5.21"/><circle cx="616.3" cy="151.5" r="5.21"/><circle cx="843.8" cy="200.4" r="5.21"/><circle cx="797.4" cy="768.0" r="5.21"/><circle cx="802.7" cy="246.4" r="5.21"/><circle cx="779.4" cy="198.6" r="5.21"/><circle cx="840.2" cy="230.6" r="5.21"/><circle cx="1047.5" cy="141.1" r="5.21"/><circle cx="785.5" cy="208.1" r="5.21"/><circle cx="724.7" cy="147.3" r="5.21"/><circle cx="721.7" cy="219.7" r="5.21"/><circle cx="817.7" cy="196.4" r="5.21"/><circle cx="828.2" cy="179.6" r="5.21"/><circle cx="710.2" cy="225.9" r="5.21"/><circle cx="720.5" cy="232.8" r="5.21"/><circle cx="700.2" cy="148.7" r="5.21"/><circle cx="710.9" cy="215.8" r="5.21"/><circle cx="808.1" cy="155.1" r="5.21"/><circle cx="645.3" cy="222.7" r="5.21"/><circle cx="725.7" cy="241.8" r="5.21"/><circle cx="764.8" cy="162.6" r="5.21"/><circle cx="689.1" cy="200.8" r="5.21"/><circle cx="946.9" cy="230.2" r="5.21"/><circle cx="856.4" cy="150.4" r="5.21"/><circle cx="810.6" cy="202.4" r="5.21"/><circle cx="817.8" cy="150.9" r="5.21"/><circle cx="1034.0" cy="214.7" r="5.21"/><circle cx="762.2" cy="212.4" r="5.21"/><circle cx="937.1" cy="146.8" r="5.21"/><circle cx="843.3" cy="150.5" r="5.21"/><circle cx="915.6" cy="227.5" r="5.21"/><circle cx="728.2" cy="254.4" r="5.21"/><circle cx="935.9" cy="200.6" r="5.21"/><circle cx="872.5" cy="201.2" r="5.21"/><circle cx="775.1" cy="229.5" r="5.21"/><circle cx="1058.0" cy="187.3" r="5.21"/><circle cx="903.7" cy="160.6" r="5.21"/><circle cx="732.8" cy="225.3" r="5.21"/><circle cx="821.7" cy="175.5" r="5.21"/><circle cx="881.9" cy="233.5" r="5.21"/><circle cx="826.2" cy="159.1" r="5.21"/><circle cx="997.0" cy="140.4" r="5.21"/><circle cx="827.5" cy="176.2" r="5.21"/><circle cx="947.6" cy="141.7" r="5.21"/><circle cx="754.7" cy="210.2" r="5.21"/><circle cx="941.7" cy="232.3" r="5.21"/><circle cx="811.5" cy="248.4" r="5.21"/><circle cx="763.3" cy="189.8" r="5.21"/><circle cx="583.1" cy="799.4" r="5.21"/><circle cx="848.0" cy="181.4" r="5.21"/><circle cx="764.7" cy="218.8" r="5.21"/><circle cx="705.5" cy="235.3" r="5.21"/><circle cx="852.6" cy="144.5" r="5.21"/><circle cx="733.9" cy="203.3" r="5.21"/><circle cx="815.2" cy="223.7" r="5.21"/><circle cx="752.7" cy="181.2" r="5.21"/><circle cx="607.4" cy="157.8" r="5.21"/><circle cx="888.4" cy="758.0" r="5.21"/><circle cx="802.6" cy="154.5" r="5.21"/><circle cx="808.5" cy="142.8" r="5.21"/><circle cx="771.2" cy="182.1" r="5.21"/><circle cx="997.3" cy="223.9" r="5.21"/><circle cx="751.5" cy="219.7" r="5.21"/><circle cx="763.8" cy="216.2" r="5.21"/><circle cx="1019.4" cy="225.7" r="5.21"/><circle cx="956.6" cy="204.0" r="5.21"/><circle cx="668.1" cy="223.2" r="5.21"/><circle cx="748.7" cy="173.7" r="5.21"/><circle cx="842.0" cy="239.5" r="5.21"/><circle cx="705.1" cy="141.1" r="5.21"/><circle cx="1082.1" cy="167.9" r="5.21"/><circle cx="991.3" cy="160.5" r="5.21"/><circle cx="556.6" cy="839.7" r="5.21"/><circle cx="847.2" cy="190.1" r="5.21"/><circle cx="646.1" cy="226.7" r="5.21"/><circle cx="882.2" cy="226.8" r="5.21"/><circle cx="808.7" cy="239.6" r="5.21"/><circle cx="907.8" cy="152.3" r="5.21"/><circle cx="963.1" cy="236.5" r="5.21"/><circle cx="850.9" cy="202.1" r="5.21"/><circle cx="638.2" cy="186.8" r="5.21"/><circle cx="775.6" cy="220.2" r="5.21"/><circle cx="1013.2" cy="245.5" r="5.21"/><circle cx="775.0" cy="246.9" r="5.21"/><circle cx="1005.8" cy="813.2" r="5.21"/><circle cx="734.5" cy="151.1" r="5.21"/><circle cx="912.7" cy="198.6" r="5.21"/><circle cx="1045.4" cy="169.0" r="5.21"/><circle cx="911.3" cy="248.5" r="5.21"/><circle cx="948.5" cy="176.5" r="5.21"/><circle cx="999.3" cy="166.9" r="5.21"/><circle cx="933.6" cy="150.2" r="5.21"/><circle cx="358.3" cy="252.9" r="5.21"/><circle cx="761.8" cy="195.2" r="5.21"/><circle cx="972.7" cy="150.4" r="5.21"/><circle cx="708.7" cy="198.0" r="5.21"/><circle cx="896.9" cy="140.1" r="5.21"/><circle cx="756.5" cy="146.8" r="5.21"/><circle cx="777.8" cy="207.1" r="5.21"/><circle cx="744.5" cy="194.3" r="5.21"/><circle cx="1076.9" cy="177.5" r="5.21"/><circle cx="511.6" cy="241.7" r="5.21"/><circle cx="958.2" cy="184.4" r="5.21"/><circle cx="910.4" cy="222.5" r="5.21"/><circle cx="1042.3" cy="206.7" r="5.21"/><circle cx="1028.9" cy="181.7" r="5.21"/><circle cx="739.2" cy="196.4" r="5.21"/><circle cx="797.6" cy="154.1" r="5.21"/><circle cx="961.8" cy="217.2" r="5.21"/><circle cx="799.0" cy="245.4" r="5.21"/><circle cx="941.0" cy="737.4" r="5.21"/><circle cx="843.2" cy="152.1" r="5.21"/><circle cx="766.1" cy="203.1" r="5.21"/><circle cx="1071.0" cy="186.8" r="5.21"/><circle cx="950.6" cy="190.1" r="5.21"/><circle cx="667.2" cy="146.8" r="5.21"/><circle cx="776.1" cy="167.5" r="5.21"/><circle cx="954.0" cy="184.3" r="5.21"/><circle cx="897.0" cy="232.2" r="5.21"/><circle cx="862.9" cy="201.8" r="5.21"/><circle cx="1048.4" cy="169.2" r="5.21"/><circle cx="1020.5" cy="184.7" r="5.21"/><circle cx="605.3" cy="178.8" r="5.21"/><circle cx="1005.4" cy="164.5" r="5.21"/><circle cx="907.6" cy="165.3" r="5.21"/><circle cx="945.1" cy="202.7" r="5.21"/><circle cx="738.1" cy="224.5" r="5.21"/><circle cx="754.7" cy="754.6" r="5.21"/><circle cx="1062.3" cy="181.3" r="5.21"/><circle cx="1029.2" cy="228.1" r="5.21"/><circle cx="626.7" cy="215.4" r="5.21"/><circle cx="813.3" cy="168.7" r="5.21"/><circle cx="745.0" cy="188.3" r="5.21"/><circle cx="949.8" cy="738.6" r="5.21"/><circle cx="950.3" cy="229.9" r="5.21"/><circle cx="986.3" cy="162.3" r="5.21"/><circle cx="718.7" cy="244.7" r="5.21"/><circle cx="1073.4" cy="227.7" r="5.21"/><circle cx="969.3" cy="243.1" r="5.21"/><circle cx="800.9" cy="226.5" r="5.21"/><circle cx="589.9" cy="226.3" r="5.21"/><circle cx="738.4" cy="168.9" r="5.21"/><circle cx="708.4" cy="220.6" r="5.21"/><circle cx="757.9" cy="149.6" r="5.21"/><circle cx="1037.9" cy="174.7" r="5.21"/><circle cx="749.2" cy="209.5" r="5.21"/><circle cx="823.1" cy="245.3" r="5.21"/><circle cx="787.7" cy="253.1" r="5.21"/><circle cx="978.0" cy="202.2" r="5.21"/><circle cx="468.4" cy="149.8" r="5.21"/><circle cx="941.6" cy="167.8" r="5.21"/><circle cx="907.0" cy="205.8" r="5.21"/><circle cx="1075.8" cy="206.5" r="5.21"/><circle cx="779.3" cy="209.3" r="5.21"/><circle cx="747.9" cy="199.2" r="5.21"/><circle cx="673.4" cy="178.4" r="5.21"/><circle cx="542.5" cy="213.7" r="5.21"/><circle cx="771.5" cy="248.8" r="5.21"/><circle cx="724.5" cy="180.6" r="5.21"/><circle cx="653.6" cy="170.2" r="5.21"/><circle cx="866.8" cy="821.1" r="5.21"/><circle cx="826.3" cy="820.6" r="5.21"/><circle cx="882.1" cy="210.2" r="5.21"/><circle cx="862.5" cy="198.3" r="5.21"/><circle cx="801.3" cy="143.4" r="5.21"/><circle cx="702.3" cy="193.1" r="5.21"/><circle cx="724.8" cy="154.7" r="5.21"/><circle cx="984.0" cy="202.0" r="5.21"/><circle cx="958.6" cy="241.7" r="5.21"/><circle cx="760.6" cy="246.7" r="5.21"/><circle cx="349.3" cy="186.0" r="5.21"/><circle cx="908.3" cy="236.2" r="5.21"/><circle cx="858.0" cy="250.6" r="5.21"/><circle cx="747.8" cy="232.5" r="5.21"/><circle cx="893.5" cy="230.6" r="5.21"/><circle cx="809.0" cy="175.9" r="5.21"/><circle cx="937.2" cy="242.4" r="5.21"/><circle cx="851.3" cy="194.7" r="5.21"/><circle cx="758.3" cy="149.3" r="5.21"/><circle cx="523.1" cy="141.0" r="5.21"/><circle cx="789.5" cy="195.5" r="5.21"/><circle cx="772.5" cy="140.0" r="5.21"/><circle cx="834.1" cy="169.4" r="5.21"/><circle cx="916.0" cy="153.5" r="5.21"/><circle cx="829.2" cy="241.0" r="5.21"/><circle cx="986.0" cy="219.8" r="5.21"/><circle cx="914.1" cy="728.3" r="5.21"/><circle cx="724.7" cy="215.0" r="5.21"/><circle cx="553.1" cy="159.0" r="5.21"/><circle cx="987.0" cy="251.7" r="5.21"/><circle cx="579.1" cy="171.8" r="5.21"/><circle cx="717.1" cy="800.7" r="5.21"/><circle cx="991.6" cy="223.3" r="5.21"/><circle cx="880.1" cy="155.6" r="5.21"/><circle cx="1026.1" cy="778.2" r="5.21"/><circle cx="608.6" cy="155.2" r="5.21"/><circle cx="876.9" cy="208.3" r="5.21"/><circle cx="790.9" cy="157.9" r="5.21"/><circle cx="866.8" cy="153.1" r="5.21"/><circle cx="910.5" cy="185.6" r="5.21"/><circle cx="892.7" cy="150.7" r="5.21"/><circle cx="726.7" cy="800.2" r="5.21"/><circle cx="753.2" cy="179.3" r="5.21"/><circle cx="957.1" cy="172.2" r="5.21"/><circle cx="793.5" cy="193.4" r="5.21"/><circle cx="899.2" cy="150.8" r="5.21"/><circle cx="979.9" cy="163.2" r="5.21"/><circle cx="1007.4" cy="220.0" r="5.21"/><circle cx="525.0" cy="251.9" r="5.21"/><circle cx="780.8" cy="201.2" r="5.21"/><circle cx="778.3" cy="203.2" r="5.21"/><circle cx="692.9" cy="199.1" r="5.21"/><circle cx="673.0" cy="182.9" r="5.21"/><circle cx="797.5" cy="242.9" r="5.21"/><circle cx="871.2" cy="231.8" r="5.21"/><circle cx="829.3" cy="144.6" r="5.21"/><circle cx="906.8" cy="206.1" r="5.21"/><circle cx="990.7" cy="249.4" r="5.21"/><circle cx="759.6" cy="237.4" r="5.21"/><circle cx="948.7" cy="151.9" r="5.21"/><circle cx="760.4" cy="215.1" r="5.21"/><circle cx="820.4" cy="223.6" r="5.21"/><circle cx="850.9" cy="148.4" r="5.21"/><circle cx="953.0" cy="205.8" r="5.21"/><circle cx="806.2" cy="791.5" r="5.21"/><circle cx="840.3" cy="242.8" r="5.21"/><circle cx="611.3" cy="185.7" r="5.21"/><circle cx="949.9" cy="195.0" r="5.21"/><circle cx="865.3" cy="234.1" r="5.21"/><circle cx="467.4" cy="154.2" r="5.21"/><circle cx="772.0" cy="221.5" r="5.21"/><circle cx="960.5" cy="151.4" r="5.21"/><circle cx="810.1" cy="225.8" r="5.21"/><circle cx="1012.3" cy="169.2" r="5.21"/><circle cx="991.4" cy="246.5" r="5.21"/><circle cx="731.9" cy="248.4" r="5.21"/><circle cx="802.4" cy="139.0" r="5.21"/><circle cx="866.1" cy="201.5" r="5.21"/><circle cx="1021.5" cy="247.3" r="5.21"/><circle cx="958.2" cy="220.2" r="5.21"/><circle cx="811.0" cy="739.0" r="5.21"/><circle cx="923.3" cy="750.1" r="5.21"/><circle cx="660.2" cy="198.8" r="5.21"/><circle cx="766.7" cy="238.7" r="5.21"/><circle cx="782.3" cy="160.3" r="5.21"/><circle cx="1063.1" cy="249.7" r="5.21"/><circle cx="899.7" cy="247.4" r="5.21"/><circle cx="968.8" cy="146.6" r="5.21"/><circle cx="970.7" cy="254.9" r="5.21"/><circle cx="972.0" cy="189.2" r="5.21"/><circle cx="733.3" cy="192.1" r="5.21"/><circle cx="784.6" cy="198.9" r="5.21"/><circle cx="915.2" cy="196.3" r="5.21"/><circle cx="895.4" cy="185.1" r="5.21"/><circle cx="925.4" cy="181.8" r="5.21"/><circle cx="835.7" cy="207.8" r="5.21"/><circle cx="789.1" cy="162.6" r="5.21"/><circle cx="692.1" cy="197.3" r="5.21"/><circle cx="739.4" cy="221.9" r="5.21"/><circle cx="823.8" cy="182.5" r="5.21"/><circle cx="774.6" cy="203.2" r="5.21"/><circle cx="911.9" cy="205.3" r="5.21"/><circle cx="843.8" cy="174.4" r="5.21"/><circle cx="742.7" cy="183.0" r="5.21"/><circle cx="862.7" cy="194.5" r="5.21"/><circle cx="819.8" cy="234.8" r="5.21"/><circle cx="970.5" cy="205.6" r="5.21"/><circle cx="883.3" cy="226.5" r="5.21"/><circle cx="786.4" cy="162.2" r="5.21"/><circle cx="809.0" cy="170.3" r="5.21"/><circle cx="790.8" cy="140.3" r="5.21"/><circle cx="723.6" cy="245.1" r="5.21"/><circle cx="777.3" cy="238.3" r="5.21"/><circle cx="1009.0" cy="205.3" r="5.21"/><circle cx="1024.5" cy="189.2" r="5.21"/><circle cx="818.8" cy="166.7" r="5.21"/><circle cx="950.0" cy="220.7" r="5.21"/><circle cx="843.7" cy="146.2" r="5.21"/><circle cx="639.8" cy="149.5" r="5.21"/><circle cx="955.0" cy="242.9" r="5.21"/><circle cx="847.6" cy="142.5" r="5.21"/><circle cx="815.5" cy="183.9" r="5.21"/><circle cx="817.1" cy="178.2" r="5.21"/><circle cx="1000.0" cy="201.8" r="5.21"/><circle cx="808.3" cy="163.2" r="5.21"/><circle cx="980.4" cy="151.4" r="5.21"/><circle cx="662.0" cy="158.8" r="5.21"/><circle cx="650.4" cy="175.8" r="5.21"/><circle cx="874.6" cy="209.5" r="5.21"/><circle cx="883.9" cy="227.2" r="5.21"/><circle cx="786.1" cy="210.8" r="5.21"/><circle cx="727.7" cy="181.4" r="5.21"/><circle cx="1011.0" cy="223.1" r="5.21"/><circle cx="922.6" cy="198.2" r="5.21"/><circle cx="593.0" cy="215.6" r="5.21"/><circle cx="723.1" cy="213.3" r="5.21"/><circle cx="745.6" cy="239.8" r="5.21"/><circle cx="959.1" cy="169.3" r="5.21"/><circle cx="837.3" cy="227.6" r="5.21"/><circle cx="755.1" cy="182.3" r="5.21"/><circle cx="601.4" cy="189.9" r="5.21"/><circle cx="793.3" cy="224.4" r="5.21"/><circle cx="858.9" cy="155.4" r="5.21"/><circle cx="894.0" cy="231.3" r="5.21"/><circle cx="672.4" cy="165.1" r="5.21"/><circle cx="912.6" cy="168.5" r="5.21"/><circle cx="1011.7" cy="198.3" r="5.21"/><circle cx="834.7" cy="174.0" r="5.21"/><circle cx="841.5" cy="181.9" r="5.21"/><circle cx="822.1" cy="808.5" r="5.21"/><circle cx="537.1" cy="155.9" r="5.21"/><circle cx="826.7" cy="254.6" r="5.21"/><circle cx="876.2" cy="185.2" r="5.21"/><circle cx="675.3" cy="804.7" r="5.21"/><circle cx="989.7" cy="205.8" r="5.21"/><circle cx="665.3" cy="224.9" r="5.21"/><circle cx="868.6" cy="239.0" r="5.21"/><circle cx="583.1" cy="744.7" r="5.21"/><circle cx="999.0" cy="239.1" r="5.21"/><circle cx="714.3" cy="140.5" r="5.21"/><circle cx="867.5" cy="149.5" r="5.21"/><circle cx="766.3" cy="202.7" r="5.21"/><circle cx="922.3" cy="252.2" r="5.21"/><circle cx="1018.0" cy="222.8" r="5.21"/><circle cx="694.2" cy="190.0" r="5.21"/><circle cx="727.2" cy="187.6" r="5.21"/><circle cx="700.2" cy="832.4" r="5.21"/><circle cx="865.9" cy="234.5" r="5.21"/><circle cx="901.5" cy="232.6" r="5.21"/><circle cx="765.9" cy="174.3" r="5.21"/><circle cx="743.4" cy="247.8" r="5.21"/><circle cx="955.1" cy="200.7" r="5.21"/><circle cx="666.6" cy="755.3" r="5.21"/><circle cx="786.1" cy="182.4" r="5.21"/><circle cx="852.5" cy="235.6" r="5.21"/><circle cx="958.9" cy="241.4" r="5.21"/><circle cx="580.9" cy="732.8" r="5.21"/><circle cx="820.2" cy="217.9" r="5.21"/><circle cx="974.8" cy="182.9" r="5.21"/><circle cx="950.5" cy="253.8" r="5.21"/><circle cx="993.9" cy="205.7" r="5.21"/><circle cx="922.8" cy="159.1" r="5.21"/><circle cx="702.7" cy="152.4" r="5.21"/><circle cx="826.1" cy="808.0" r="5.21"/><circle cx="845.3" cy="159.4" r="5.21"/><circle cx="830.6" cy="228.6" r="5.21"/><circle cx="815.6" cy="251.8" r="5.21"/><circle cx="883.5" cy="247.8" r="5.21"/><circle cx="908.2" cy="204.2" r="5.21"/><circle cx="1025.4" cy="181.6" r="5.21"/><circle cx="942.0" cy="789.1" r="5.21"/><circle cx="1002.5" cy="165.4" r="5.21"/><circle cx="878.3" cy="197.9" r="5.21"/><circle cx="783.7" cy="251.0" r="5.21"/><circle cx="760.9" cy="252.5" r="5.21"/><circle cx="558.8" cy="151.7" r="5.21"/><circle cx="828.7" cy="244.0" r="5.21"/><circle cx="977.5" cy="160.9" r="5.21"/><circle cx="1063.4" cy="203.2" r="5.21"/><circle cx="817.5" cy="818.7" r="5.21"/><circle cx="763.7" cy="186.8" r="5.21"/><circle cx="847.4" cy="207.6" r="5.21"/><circle cx="499.2" cy="139.6" r="5.21"/><circle cx="942.1" cy="221.2" r="5.21"/><circle cx="816.0" cy="175.0" r="5.21"/><circle cx="957.2" cy="211.2" r="5.21"/><circle cx="961.2" cy="213.6" r="5.21"/><circle cx="764.9" cy="762.6" r="5.21"/><circle cx="1001.0" cy="191.1" r="5.21"/><circle cx="964.2" cy="166.4" r="5.21"/><circle cx="858.4" cy="252.1" r="5.21"/><circle cx="797.1" cy="176.9" r="5.21"/><circle cx="787.5" cy="236.5" r="5.21"/><circle cx="797.6" cy="152.7" r="5.21"/><circle cx="867.4" cy="791.8" r="5.21"/><circle cx="713.5" cy="144.7" r="5.21"/><circle cx="542.2" cy="176.8" r="5.21"/><circle cx="770.6" cy="196.6" r="5.21"/><circle cx="991.9" cy="156.8" r="5.21"/><circle cx="759.1" cy="249.6" r="5.21"/><circle cx="964.2" cy="142.5" r="5.21"/><circle cx="740.6" cy="141.0" r="5.21"/><circle cx="923.7" cy="158.4" r="5.21"/><circle cx="982.7" cy="188.5" r="5.21"/><circle cx="860.4" cy="159.6" r="5.21"/><circle cx="936.8" cy="235.8" r="5.21"/><circle cx="842.0" cy="168.5" r="5.21"/><circle cx="774.8" cy="186.7" r="5.21"/><circle cx="826.8" cy="150.2" r="5.21"/><circle cx="905.8" cy="229.7" r="5.21"/><circle cx="790.7" cy="149.6" r="5.21"/><circle cx="877.5" cy="180.1" r="5.21"/><circle cx="1033.1" cy="219.4" r="5.21"/><circle cx="854.9" cy="203.1" r="5.21"/><circle cx="940.1" cy="220.4" r="5.21"/><circle cx="875.2" cy="245.0" r="5.21"/><circle cx="1033.9" cy="221.2" r="5.21"/><circle cx="1046.1" cy="237.2" r="5.21"/><circle cx="728.9" cy="186.4" r="5.21"/><circle cx="894.3" cy="805.1" r="5.21"/><circle cx="886.0" cy="194.3" r="5.21"/><circle cx="877.3" cy="840.8" r="5.21"/><circle cx="555.6" cy="191.2" r="5.21"/><circle cx="805.4" cy="138.6" r="5.21"/><circle cx="997.0" cy="241.6" r="5.21"/><circle cx="726.8" cy="236.6" r="5.21"/><circle cx="914.9" cy="155.1" r="5.21"/><circle cx="754.1" cy="139.4" r="5.21"/><circle cx="868.9" cy="199.3" r="5.21"/><circle cx="953.1" cy="224.2" r="5.21"/><circle cx="770.5" cy="203.4" r="5.21"/><circle cx="721.8" cy="226.9" r="5.21"/><circle cx="958.1" cy="146.0" r="5.21"/><circle cx="949.0" cy="152.3" r="5.21"/><circle cx="912.6" cy="213.1" r="5.21"/><circle cx="725.5" cy="199.1" r="5.21"/><circle cx="1021.5" cy="223.3" r="5.21"/><circle cx="719.9" cy="186.4" r="5.21"/><circle cx="789.7" cy="220.2" r="5.21"/><circle cx="872.2" cy="223.9" r="5.21"/><circle cx="589.5" cy="254.5" r="5.21"/><circle cx="757.7" cy="171.2" r="5.21"/><circle cx="949.8" cy="192.1" r="5.21"/><circle cx="797.5" cy="153.6" r="5.21"/><circle cx="846.0" cy="176.6" r="5.21"/><circle cx="623.5" cy="194.0" r="5.21"/><circle cx="736.6" cy="193.6" r="5.21"/><circle cx="973.1" cy="230.8" r="5.21"/><circle cx="997.8" cy="156.8" r="5.21"/><circle cx="587.1" cy="219.0" r="5.21"/><circle cx="756.0" cy="228.5" r="5.21"/><circle cx="875.9" cy="178.8" r="5.21"/><circle cx="998.2" cy="730.0" r="5.21"/><circle cx="874.5" cy="229.0" r="5.21"/><circle cx="844.5" cy="224.2" r="5.21"/><circle cx="919.0" cy="249.1" r="5.21"/><circle cx="765.3" cy="192.4" r="5.21"/><circle cx="722.6" cy="247.0" r="5.21"/><circle cx="793.5" cy="182.8" r="5.21"/><circle cx="473.5" cy="139.9" r="5.21"/><circle cx="760.9" cy="177.1" r="5.21"/><circle cx="633.4" cy="795.3" r="5.21"/><circle cx="832.4" cy="165.0" r="5.21"/><circle cx="752.9" cy="251.0" r="5.21"/><circle cx="537.8" cy="146.1" r="5.21"/><circle cx="830.1" cy="178.7" r="5.21"/><circle cx="729.7" cy="247.8" r="5.21"/><circle cx="832.9" cy="255.4" r="5.21"/><circle cx="856.0" cy="213.4" r="5.21"/><circle cx="738.3" cy="163.8" r="5.21"/><circle cx="872.0" cy="219.5" r="5.21"/><circle cx="990.6" cy="230.9" r="5.21"/><circle cx="748.6" cy="218.7" r="5.21"/><circle cx="743.7" cy="155.9" r="5.21"/><circle cx="711.7" cy="784.9" r="5.21"/><circle cx="742.9" cy="187.9" r="5.21"/><circle cx="993.7" cy="180.9" r="5.21"/><circle cx="875.6" cy="200.9" r="5.21"/><circle cx="917.8" cy="164.4" r="5.21"/><circle cx="824.8" cy="174.6" r="5.21"/><circle cx="973.5" cy="771.2" r="5.21"/><circle cx="1019.5" cy="231.8" r="5.21"/><circle cx="843.9" cy="217.0" r="5.21"/><circle cx="816.9" cy="149.8" r="5.21"/><circle cx="724.9" cy="207.2" r="5.21"/><circle cx="968.0" cy="231.3" r="5.21"/><circle cx="754.3" cy="255.6" r="5.21"/><circle cx="866.4" cy="176.1" r="5.21"/><circle cx="1006.6" cy="255.0" r="5.21"/><circle cx="855.7" cy="193.1" r="5.21"/><circle cx="796.7" cy="242.2" r="5.21"/><circle cx="757.3" cy="170.7" r="5.21"/><circle cx="838.1" cy="202.8" r="5.21"/><circle cx="718.5" cy="161.9" r="5.21"/><circle cx="748.7" cy="141.0" r="5.21"/><circle cx="698.5" cy="178.1" r="5.21"/><circle cx="993.1" cy="233.7" r="5.21"/><circle cx="896.8" cy="176.3" r="5.21"/><circle cx="693.2" cy="200.8" r="5.21"/><circle cx="945.5" cy="253.5" r="5.21"/><circle cx="738.8" cy="164.6" r="5.21"/><circle cx="789.9" cy="211.9" r="5.21"/><circle cx="720.7" cy="228.9" r="5.21"/><circle cx="724.7" cy="176.8" r="5.21"/><circle cx="784.1" cy="200.6" r="5.21"/><circle cx="857.0" cy="210.1" r="5.21"/><circle cx="895.3" cy="169.6" r="5.21"/><circle cx="838.5" cy="170.6" r="5.21"/><circle cx="781.6" cy="154.2" r="5.21"/><circle cx="1041.3" cy="161.7" r="5.21"/><circle cx="846.8" cy="141.4" r="5.21"/><circle cx="955.3" cy="247.9" r="5.21"/><circle cx="854.8" cy="243.8" r="5.21"/><circle cx="930.9" cy="175.8" r="5.21"/><circle cx="825.7" cy="815.8" r="5.21"/><circle cx="752.9" cy="234.0" r="5.21"/><circle cx="666.6" cy="837.5" r="5.21"/><circle cx="959.1" cy="251.2" r="5.21"/><circle cx="1059.5" cy="211.2" r="5.21"/><circle cx="898.9" cy="219.7" r="5.21"/><circle cx="920.2" cy="153.7" r="5.21"/><circle cx="743.5" cy="169.0" r="5.21"/><circle cx="864.2" cy="210.7" r="5.21"/><circle cx="832.9" cy="168.9" r="5.21"/><circle cx="761.5" cy="170.3" r="5.21"/><circle cx="910.7" cy="801.0" r="5.21"/><circle cx="886.2" cy="216.9" r="5.21"/><circle cx="969.1" cy="226.4" r="5.21"/><circle cx="909.9" cy="164.0" r="5.21"/><circle cx="882.1" cy="168.4" r="5.21"/><circle cx="748.4" cy="222.3" r="5.21"/><circle cx="1009.8" cy="141.6" r="5.21"/><circle cx="795.0" cy="228.8" r="5.21"/><circle cx="890.5" cy="173.6" r="5.21"/><circle cx="821.1" cy="252.1" r="5.21"/><circle cx="921.0" cy="250.0" r="5.21"/><circle cx="725.1" cy="177.9" r="5.21"/><circle cx="947.3" cy="218.3" r="5.21"/><circle cx="1002.5" cy="222.4" r="5.21"/><circle cx="957.5" cy="175.3" r="5.21"/><circle cx="922.9" cy="187.8" r="5.21"/><circle cx="698.7" cy="232.2" r="5.21"/><circle cx="943.0" cy="155.5" r="5.21"/><circle cx="842.4" cy="183.5" r="5.21"/><circle cx="964.3" cy="219.5" r="5.21"/><circle cx="846.0" cy="779.9" r="5.21"/><circle cx="765.9" cy="200.5" r="5.21"/><circle cx="944.2" cy="182.5" r="5.21"/><circle cx="642.2" cy="222.5" r="5.21"/><circle cx="1051.9" cy="189.0" r="5.21"/><circle cx="853.1" cy="171.2" r="5.21"/><circle cx="944.9" cy="152.8" r="5.21"/><circle cx="731.6" cy="194.7" r="5.21"/><circle cx="859.8" cy="151.0" r="5.21"/><circle cx="613.4" cy="163.6" r="5.21"/><circle cx="999.8" cy="169.5" r="5.21"/><circle cx="1009.6" cy="140.3" r="5.21"/><circle cx="998.5" cy="230.2" r="5.21"/><circle cx="792.8" cy="198.7" r="5.21"/><circle cx="868.0" cy="161.1" r="5.21"/><circle cx="411.2" cy="724.4" r="5.21"/><circle cx="895.3" cy="150.8" r="5.21"/><circle cx="866.1" cy="255.2" r="5.21"/><circle cx="930.5" cy="204.2" r="5.21"/><circle cx="876.5" cy="208.7" r="5.21"/><circle cx="733.4" cy="209.4" r="5.21"/><circle cx="893.1" cy="167.2" r="5.21"/><circle cx="978.9" cy="138.6" r="5.21"/><circle cx="821.2" cy="217.2" r="5.21"/><circle cx="895.9" cy="212.3" r="5.21"/><circle cx="1004.7" cy="180.4" r="5.21"/><circle cx="1049.4" cy="223.5" r="5.21"/><circle cx="955.0" cy="226.5" r="5.21"/><circle cx="1039.7" cy="201.2" r="5.21"/><circle cx="505.6" cy="182.6" r="5.21"/><circle cx="957.8" cy="173.9" r="5.21"/><circle cx="748.4" cy="196.4" r="5.21"/><circle cx="961.9" cy="201.0" r="5.21"/><circle cx="892.6" cy="181.4" r="5.21"/><circle cx="692.0" cy="251.0" r="5.21"/><circle cx="552.5" cy="791.9" r="5.21"/><circle cx="763.0" cy="174.4" r="5.21"/><circle cx="733.8" cy="227.9" r="5.21"/><circle cx="519.2" cy="220.5" r="5.21"/><circle cx="672.8" cy="234.6" r="5.21"/><circle cx="884.1" cy="198.5" r="5.21"/><circle cx="997.7" cy="245.5" r="5.21"/><circle cx="789.3" cy="138.6" r="5.21"/><circle cx="872.8" cy="237.8" r="5.21"/><circle cx="977.6" cy="204.3" r="5.21"/><circle cx="938.3" cy="151.2" r="5.21"/><circle cx="983.8" cy="179.5" r="5.21"/><circle cx="1004.4" cy="205.9" r="5.21"/><circle cx="464.9" cy="212.5" r="5.21"/><circle cx="870.3" cy="233.7" r="5.21"/><circle cx="918.9" cy="149.0" r="5.21"/><circle cx="731.1" cy="204.4" r="5.21"/><circle cx="942.6" cy="212.7" r="5.21"/><circle cx="903.0" cy="199.3" r="5.21"/><circle cx="968.7" cy="216.2" r="5.21"/><circle cx="930.9" cy="209.9" r="5.21"/><circle cx="723.6" cy="185.7" r="5.21"/><circle cx="809.4" cy="145.9" r="5.21"/><circle cx="712.5" cy="254.5" r="5.21"/><circle cx="724.7" cy="193.8" r="5.21"/><circle cx="1067.2" cy="196.3" r="5.21"/><circle cx="773.5" cy="175.4" r="5.21"/><circle cx="914.2" cy="152.3" r="5.21"/><circle cx="988.4" cy="189.9" r="5.21"/><circle cx="999.8" cy="211.0" r="5.21"/><circle cx="730.0" cy="244.5" r="5.21"/><circle cx="996.0" cy="193.6" r="5.21"/><circle cx="901.1" cy="250.4" r="5.21"/><circle cx="811.7" cy="175.6" r="5.21"/><circle cx="758.5" cy="186.5" r="5.21"/><circle cx="1000.4" cy="218.1" r="5.21"/><circle cx="982.7" cy="146.5" r="5.21"/><circle cx="824.9" cy="182.5" r="5.21"/><circle cx="839.8" cy="251.0" r="5.21"/><circle cx="969.5" cy="223.5" r="5.21"/><circle cx="1019.5" cy="161.3" r="5.21"/><circle cx="817.4" cy="151.6" r="5.21"/><circle cx="808.7" cy="192.5" r="5.21"/><circle cx="910.6" cy="735.3" r="5.21"/><circle cx="793.0" cy="731.2" r="5.21"/><circle cx="619.4" cy="769.1" r="5.21"/><circle cx="722.0" cy="222.3" r="5.21"/><circle cx="975.6" cy="255.5" r="5.21"/><circle cx="1012.6" cy="150.5" r="5.21"/><circle cx="737.4" cy="227.0" r="5.21"/><circle cx="801.6" cy="234.4" r="5.21"/><circle cx="1008.4" cy="190.0" r="5.21"/><circle cx="830.4" cy="749.5" r="5.21"/><circle cx="989.6" cy="187.8" r="5.21"/><circle cx="808.6" cy="169.8" r="5.21"/><circle cx="639.4" cy="802.5" r="5.21"/><circle cx="725.4" cy="838.9" r="5.21"/><circle cx="796.2" cy="169.3" r="5.21"/><circle cx="810.8" cy="207.5" r="5.21"/><circle cx="718.1" cy="164.0" r="5.21"/><circle cx="666.3" cy="189.8" r="5.21"/><circle cx="702.1" cy="197.6" r="5.21"/><circle cx="785.6" cy="252.8" r="5.21"/><circle cx="748.9" cy="160.3" r="5.21"/><circle cx="874.0" cy="194.7" r="5.21"/><circle cx="772.5" cy="251.5" r="5.21"/><circle cx="583.7" cy="204.4" r="5.21"/><circle cx="863.3" cy="183.0" r="5.21"/><circle cx="866.3" cy="205.5" r="5.21"/><circle cx="985.9" cy="140.1" r="5.21"/><circle cx="848.5" cy="240.5" r="5.21"/><circle cx="878.8" cy="216.5" r="5.21"/><circle cx="713.9" cy="216.9" r="5.21"/><circle cx="770.8" cy="780.4" r="5.21"/><circle cx="845.5" cy="229.9" r="5.21"/><circle cx="869.6" cy="236.2" r="5.21"/><circle cx="553.9" cy="182.4" r="5.21"/><circle cx="778.9" cy="138.7" r="5.21"/><circle cx="655.4" cy="166.7" r="5.21"/><circle cx="966.6" cy="204.9" r="5.21"/><circle cx="1000.4" cy="168.4" r="5.21"/><circle cx="862.5" cy="191.9" r="5.21"/><circle cx="830.1" cy="201.1" r="5.21"/><circle cx="680.0" cy="803.8" r="5.21"/><circle cx="756.1" cy="225.8" r="5.21"/><circle cx="829.1" cy="184.0" r="5.21"/><circle cx="775.6" cy="250.2" r="5.21"/><circle cx="793.4" cy="233.7" r="5.21"/><circle cx="1002.0" cy="153.4" r="5.21"/><circle cx="541.5" cy="168.5" r="5.21"/><circle cx="807.6" cy="239.4" r="5.21"/><circle cx="717.0" cy="232.3" r="5.21"/><circle cx="989.7" cy="152.3" r="5.21"/><circle cx="934.4" cy="232.1" r="5.21"/><circle cx="798.1" cy="148.7" r="5.21"/><circle cx="809.4" cy="228.8" r="5.21"/><circle cx="858.4" cy="222.0" r="5.21"/><circle cx="850.6" cy="213.4" r="5.21"/><circle cx="823.7" cy="804.3" r="5.21"/><circle cx="869.1" cy="171.1" r="5.21"/><circle cx="911.5" cy="152.8" r="5.21"/><circle cx="746.3" cy="212.8" r="5.21"/><circle cx="1034.0" cy="152.4" r="5.21"/><circle cx="945.2" cy="815.5" r="5.21"/><circle cx="848.7" cy="244.4" r="5.21"/><circle cx="963.1" cy="146.6" r="5.21"/><circle cx="927.1" cy="221.0" r="5.21"/><circle cx="732.0" cy="147.0" r="5.21"/><circle cx="667.3" cy="228.4" r="5.21"/><circle cx="892.5" cy="162.0" r="5.21"/><circle cx="745.0" cy="734.2" r="5.21"/><circle cx="1014.0" cy="246.5" r="5.21"/><circle cx="703.0" cy="192.0" r="5.21"/><circle cx="724.6" cy="761.5" r="5.21"/><circle cx="889.3" cy="835.4" r="5.21"/><circle cx="873.1" cy="166.4" r="5.21"/><circle cx="812.0" cy="231.3" r="5.21"/><circle cx="719.9" cy="211.0" r="5.21"/><circle cx="693.0" cy="222.2" r="5.21"/><circle cx="725.0" cy="235.7" r="5.21"/><circle cx="722.8" cy="220.3" r="5.21"/><circle cx="791.0" cy="232.4" r="5.21"/><circle cx="462.3" cy="172.0" r="5.21"/><circle cx="786.6" cy="196.8" r="5.21"/><circle cx="859.1" cy="145.5" r="5.21"/><circle cx="751.6" cy="254.4" r="5.21"/><circle cx="853.5" cy="246.4" r="5.21"/><circle cx="822.7" cy="167.2" r="5.21"/><circle cx="922.6" cy="159.1" r="5.21"/><circle cx="634.0" cy="150.9" r="5.21"/><circle cx="920.0" cy="218.4" r="5.21"/><circle cx="555.3" cy="219.6" r="5.21"/><circle cx="891.7" cy="190.7" r="5.21"/><circle cx="817.9" cy="157.8" r="5.21"/><circle cx="751.3" cy="178.4" r="5.21"/><circle cx="737.7" cy="202.2" r="5.21"/><circle cx="954.0" cy="168.5" r="5.21"/><circle cx="496.6" cy="741.2" r="5.21"/><circle cx="866.4" cy="152.1" r="5.21"/><circle cx="959.6" cy="143.1" r="5.21"/><circle cx="637.1" cy="143.6" r="5.21"/><circle cx="736.0" cy="204.0" r="5.21"/><circle cx="945.3" cy="169.7" r="5.21"/><circle cx="754.7" cy="142.8" r="5.21"/><circle cx="885.8" cy="206.5" r="5.21"/><circle cx="864.1" cy="207.1" r="5.21"/><circle cx="933.6" cy="217.0" r="5.21"/><circle cx="633.9" cy="191.4" r="5.21"/><circle cx="650.6" cy="814.1" r="5.21"/><circle cx="797.9" cy="188.8" r="5.21"/><circle cx="1003.9" cy="189.2" r="5.21"/><circle cx="762.3" cy="235.8" r="5.21"/><circle cx="897.8" cy="174.7" r="5.21"/><circle cx="1067.4" cy="153.9" r="5.21"/><circle cx="1035.5" cy="185.7" r="5.21"/><circle cx="1010.8" cy="217.7" r="5.21"/><circle cx="858.3" cy="236.0" r="5.21"/><circle cx="899.9" cy="194.4" r="5.21"/><circle cx="740.5" cy="204.1" r="5.21"/><circle cx="945.6" cy="145.2" r="5.21"/><circle cx="904.9" cy="154.5" r="5.21"/><circle cx="627.2" cy="164.7" r="5.21"/><circle cx="746.8" cy="215.9" r="5.21"/><circle cx="706.7" cy="186.1" r="5.21"/><circle cx="812.8" cy="795.5" r="5.21"/><circle cx="875.7" cy="209.9" r="5.21"/><circle cx="810.4" cy="164.2" r="5.21"/><circle cx="577.8" cy="796.9" r="5.21"/><circle cx="819.1" cy="210.8" r="5.21"/><circle cx="765.5" cy="225.2" r="5.21"/><circle cx="935.5" cy="231.8" r="5.21"/><circle cx="971.0" cy="169.0" r="5.21"/><circle cx="748.1" cy="236.8" r="5.21"/><circle cx="739.9" cy="205.9" r="5.21"/><circle cx="550.6" cy="206.0" r="5.21"/><circle cx="849.6" cy="193.7" r="5.21"/><circle cx="788.4" cy="192.4" r="5.21"/><circle cx="684.6" cy="154.5" r="5.21"/><circle cx="542.2" cy="160.0" r="5.21"/><circle cx="710.1" cy="222.4" r="5.21"/><circle cx="735.9" cy="221.1" r="5.21"/><circle cx="855.0" cy="168.1" r="5.21"/><circle cx="647.8" cy="165.9" r="5.21"/><circle cx="958.7" cy="169.1" r="5.21"/><circle cx="833.0" cy="249.2" r="5.21"/><circle cx="905.0" cy="813.8" r="5.21"/><circle cx="703.7" cy="245.1" r="5.21"/><circle cx="796.0" cy="201.0" r="5.21"/><circle cx="678.8" cy="250.7" r="5.21"/><circle cx="692.7" cy="212.3" r="5.21"/><circle cx="795.4" cy="213.0" r="5.21"/><circle cx="879.2" cy="727.9" r="5.21"/><circle cx="810.9" cy="254.6" r="5.21"/><circle cx="808.3" cy="164.6" r="5.21"/><circle cx="686.1" cy="229.4" r="5.21"/><circle cx="854.2" cy="213.8" r="5.21"/><circle cx="936.2" cy="166.3" r="5.21"/><circle cx="912.7" cy="138.9" r="5.21"/><circle cx="986.1" cy="207.4" r="5.21"/><circle cx="977.3" cy="242.7" r="5.21"/><circle cx="856.1" cy="240.2" r="5.21"/><circle cx="949.0" cy="777.5" r="5.21"/><circle cx="988.4" cy="140.9" r="5.21"/><circle cx="878.7" cy="236.4" r="5.21"/><circle cx="781.7" cy="238.9" r="5.21"/><circle cx="685.3" cy="765.0" r="5.21"/><circle cx="787.0" cy="225.0" r="5.21"/><circle cx="777.0" cy="165.4" r="5.21"/><circle cx="926.8" cy="142.0" r="5.21"/><circle cx="725.9" cy="204.4" r="5.21"/><circle cx="932.9" cy="161.0" r="5.21"/><circle cx="987.6" cy="175.2" r="5.21"/><circle cx="920.0" cy="161.5" r="5.21"/><circle cx="990.9" cy="199.8" r="5.21"/><circle cx="986.0" cy="156.5" r="5.21"/><circle cx="696.6" cy="158.2" r="5.21"/><circle cx="472.2" cy="189.9" r="5.21"/><circle cx="986.0" cy="242.0" r="5.21"/><circle cx="720.6" cy="149.0" r="5.21"/><circle cx="959.1" cy="236.9" r="5.21"/><circle cx="938.4" cy="748.9" r="5.21"/><circle cx="695.4" cy="251.0" r="5.21"/><circle cx="418.9" cy="189.9" r="5.21"/><circle cx="624.1" cy="170.8" r="5.21"/><circle cx="746.9" cy="143.0" r="5.21"/><circle cx="700.1" cy="146.5" r="5.21"/><circle cx="756.8" cy="154.6" r="5.21"/><circle cx="969.3" cy="214.4" r="5.21"/><circle cx="858.8" cy="187.3" r="5.21"/><circle cx="859.7" cy="197.2" r="5.21"/><circle cx="979.7" cy="246.3" r="5.21"/><circle cx="792.0" cy="252.0" r="5.21"/><circle cx="786.4" cy="163.3" r="5.21"/><circle cx="764.6" cy="180.7" r="5.21"/><circle cx="646.0" cy="250.6" r="5.21"/><circle cx="696.4" cy="192.6" r="5.21"/><circle cx="871.0" cy="224.4" r="5.21"/><circle cx="737.9" cy="176.4" r="5.21"/><circle cx="911.5" cy="232.6" r="5.21"/><circle cx="680.8" cy="150.5" r="5.21"/><circle cx="743.1" cy="163.0" r="5.21"/><circle cx="736.0" cy="216.0" r="5.21"/><circle cx="739.4" cy="241.8" r="5.21"/><circle cx="873.6" cy="247.6" r="5.21"/><circle cx="685.6" cy="180.9" r="5.21"/><circle cx="1018.6" cy="150.3" r="5.21"/><circle cx="682.9" cy="180.8" r="5.21"/><circle cx="727.5" cy="253.5" r="5.21"/><circle cx="838.2" cy="233.7" r="5.21"/><circle cx="718.0" cy="208.9" r="5.21"/><circle cx="855.5" cy="161.4" r="5.21"/><circle cx="935.9" cy="168.6" r="5.21"/><circle cx="856.2" cy="800.6" r="5.21"/><circle cx="995.9" cy="197.2" r="5.21"/><circle cx="785.1" cy="243.9" r="5.21"/><circle cx="887.4" cy="157.1" r="5.21"/><circle cx="964.0" cy="165.8" r="5.21"/><circle cx="553.4" cy="775.0" r="5.21"/><circle cx="968.3" cy="154.2" r="5.21"/><circle cx="941.7" cy="188.3" r="5.21"/><circle cx="794.1" cy="151.8" r="5.21"/><circle cx="572.3" cy="159.8" r="5.21"/><circle cx="838.0" cy="167.7" r="5.21"/><circle cx="1001.9" cy="188.4" r="5.21"/><circle cx="741.2" cy="235.8" r="5.21"/><circle cx="857.8" cy="175.8" r="5.21"/><circle cx="848.3" cy="250.9" r="5.21"/><circle cx="788.8" cy="157.0" r="5.21"/><circle cx="924.6" cy="167.6" r="5.21"/><circle cx="918.7" cy="162.6" r="5.21"/><circle cx="858.7" cy="142.1" r="5.21"/><circle cx="879.1" cy="799.9" r="5.21"/><circle cx="992.5" cy="244.2" r="5.21"/><circle cx="1022.0" cy="154.4" r="5.21"/><circle cx="896.2" cy="142.3" r="5.21"/><circle cx="700.8" cy="190.1" r="5.21"/><circle cx="700.5" cy="153.2" r="5.21"/><circle cx="705.1" cy="241.2" r="5.21"/><circle cx="869.7" cy="224.1" r="5.21"/><circle cx="781.5" cy="213.9" r="5.21"/><circle cx="829.8" cy="190.0" r="5.21"/><circle cx="1010.3" cy="254.3" r="5.21"/><circle cx="657.5" cy="179.7" r="5.21"/><circle cx="876.9" cy="140.3" r="5.21"/><circle cx="781.0" cy="240.4" r="5.21"/><circle cx="913.3" cy="226.7" r="5.21"/><circle cx="915.2" cy="753.7" r="5.21"/><circle cx="1028.5" cy="196.6" r="5.21"/><circle cx="951.6" cy="224.7" r="5.21"/><circle cx="912.9" cy="155.8" r="5.21"/><circle cx="974.0" cy="214.5" r="5.21"/><circle cx="960.5" cy="210.7" r="5.21"/><circle cx="882.7" cy="214.2" r="5.21"/><circle cx="941.2" cy="249.7" r="5.21"/><circle cx="651.2" cy="198.9" r="5.21"/><circle cx="685.8" cy="151.9" r="5.21"/><circle cx="1038.8" cy="193.8" r="5.21"/><circle cx="747.7" cy="155.0" r="5.21"/><circle cx="973.6" cy="253.5" r="5.21"/><circle cx="732.0" cy="762.3" r="5.21"/><circle cx="966.6" cy="213.7" r="5.21"/><circle cx="913.6" cy="169.5" r="5.21"/><circle cx="893.9" cy="234.0" r="5.21"/><circle cx="906.7" cy="217.4" r="5.21"/><circle cx="505.3" cy="149.1" r="5.21"/><circle cx="775.8" cy="254.1" r="5.21"/><circle cx="794.3" cy="208.2" r="5.21"/><circle cx="944.0" cy="192.9" r="5.21"/><circle cx="724.4" cy="158.2" r="5.21"/><circle cx="920.5" cy="151.0" r="5.21"/><circle cx="765.5" cy="206.7" r="5.21"/><circle cx="711.6" cy="149.5" r="5.21"/><circle cx="760.8" cy="155.5" r="5.21"/><circle cx="713.2" cy="207.2" r="5.21"/><circle cx="796.7" cy="255.1" r="5.21"/><circle cx="981.6" cy="143.5" r="5.21"/><circle cx="944.7" cy="222.5" r="5.21"/><circle cx="1023.2" cy="216.5" r="5.21"/><circle cx="936.1" cy="207.7" r="5.21"/><circle cx="698.2" cy="239.3" r="5.21"/><circle cx="1031.3" cy="244.6" r="5.21"/><circle cx="740.9" cy="193.6" r="5.21"/><circle cx="725.0" cy="187.0" r="5.21"/><circle cx="731.8" cy="249.5" r="5.21"/><circle cx="853.4" cy="139.3" r="5.21"/><circle cx="937.8" cy="231.8" r="5.21"/><circle cx="917.5" cy="224.3" r="5.21"/><circle cx="929.4" cy="200.8" r="5.21"/><circle cx="783.5" cy="181.6" r="5.21"/><circle cx="769.6" cy="182.4" r="5.21"/><circle cx="535.3" cy="809.4" r="5.21"/><circle cx="892.8" cy="198.0" r="5.21"/><circle cx="787.1" cy="149.0" r="5.21"/><circle cx="939.5" cy="173.5" r="5.21"/><circle cx="1079.5" cy="240.4" r="5.21"/><circle cx="534.9" cy="227.1" r="5.21"/><circle cx="1080.5" cy="239.6" r="5.21"/><circle cx="850.1" cy="232.5" r="5.21"/><circle cx="580.5" cy="219.0" r="5.21"/><circle cx="897.5" cy="186.6" r="5.21"/><circle cx="824.8" cy="202.9" r="5.21"/><circle cx="447.3" cy="255.2" r="5.21"/><circle cx="897.0" cy="168.5" r="5.21"/><circle cx="954.5" cy="174.1" r="5.21"/><circle cx="788.9" cy="139.7" r="5.21"/><circle cx="757.4" cy="179.1" r="5.21"/><circle cx="775.7" cy="152.0" r="5.21"/><circle cx="767.8" cy="179.9" r="5.21"/><circle cx="945.9" cy="837.0" r="5.21"/><circle cx="966.2" cy="222.3" r="5.21"/><circle cx="1042.9" cy="203.0" r="5.21"/><circle cx="655.3" cy="221.7" r="5.21"/><circle cx="794.3" cy="151.5" r="5.21"/><circle cx="1007.2" cy="148.3" r="5.21"/><circle cx="716.3" cy="207.4" r="5.21"/><circle cx="853.5" cy="247.7" r="5.21"/><circle cx="704.8" cy="242.1" r="5.21"/><circle cx="856.5" cy="226.7" r="5.21"/><circle cx="1035.1" cy="216.9" r="5.21"/><circle cx="798.1" cy="238.1" r="5.21"/><circle cx="930.7" cy="225.2" r="5.21"/><circle cx="940.2" cy="201.4" r="5.21"/><circle cx="906.1" cy="222.6" r="5.21"/><circle cx="746.8" cy="222.4" r="5.21"/><circle cx="855.5" cy="251.8" r="5.21"/><circle cx="679.5" cy="250.5" r="5.21"/><circle cx="759.2" cy="223.2" r="5.21"/><circle cx="745.4" cy="250.4" r="5.21"/><circle cx="981.7" cy="195.8" r="5.21"/><circle cx="789.7" cy="767.0" r="5.21"/><circle cx="1023.5" cy="248.7" r="5.21"/><circle cx="763.5" cy="152.6" r="5.21"/><circle cx="1039.1" cy="217.9" r="5.21"/><circle cx="706.3" cy="167.8" r="5.21"/><circle cx="921.6" cy="215.9" r="5.21"/><circle cx="912.6" cy="251.7" r="5.21"/><circle cx="850.1" cy="221.1" r="5.21"/><circle cx="703.6" cy="739.0" r="5.21"/><circle cx="897.5" cy="224.3" r="5.21"/><circle cx="923.8" cy="205.3" r="5.21"/><circle cx="519.2" cy="158.3" r="5.21"/><circle cx="739.8" cy="181.0" r="5.21"/><circle cx="816.3" cy="164.5" r="5.21"/><circle cx="925.9" cy="151.6" r="5.21"/><circle cx="945.2" cy="253.5" r="5.21"/><circle cx="981.2" cy="141.8" r="5.21"/><circle cx="651.5" cy="255.0" r="5.21"/><circle cx="1001.9" cy="183.9" r="5.21"/><circle cx="801.1" cy="163.6" r="5.21"/><circle cx="745.7" cy="184.5" r="5.21"/><circle cx="649.4" cy="728.8" r="5.21"/><circle cx="818.5" cy="190.7" r="5.21"/><circle cx="1001.8" cy="173.7" r="5.21"/><circle cx="934.1" cy="211.8" r="5.21"/><circle cx="861.7" cy="139.0" r="5.21"/><circle cx="982.5" cy="162.6" r="5.21"/><circle cx="746.4" cy="186.8" r="5.21"/><circle cx="692.5" cy="746.9" r="5.21"/><circle cx="776.4" cy="191.9" r="5.21"/><circle cx="659.1" cy="150.0" r="5.21"/><circle cx="908.2" cy="237.8" r="5.21"/><circle cx="875.7" cy="185.4" r="5.21"/><circle cx="634.5" cy="153.0" r="5.21"/><circle cx="732.9" cy="159.4" r="5.21"/><circle cx="950.9" cy="251.6" r="5.21"/><circle cx="904.1" cy="150.0" r="5.21"/><circle cx="586.8" cy="183.1" r="5.21"/><circle cx="913.0" cy="149.2" r="5.21"/><circle cx="857.1" cy="216.4" r="5.21"/><circle cx="789.0" cy="741.4" r="5.21"/><circle cx="704.9" cy="151.1" r="5.21"/><circle cx="849.7" cy="217.1" r="5.21"/><circle cx="656.3" cy="171.6" r="5.21"/><circle cx="969.2" cy="173.9" r="5.21"/><circle cx="899.8" cy="245.0" r="5.21"/><circle cx="897.5" cy="161.8" r="5.21"/><circle cx="802.6" cy="248.2" r="5.21"/><circle cx="719.1" cy="243.6" r="5.21"/><circle cx="784.6" cy="171.2" r="5.21"/><circle cx="967.5" cy="183.7" r="5.21"/><circle cx="985.7" cy="220.3" r="5.21"/><circle cx="791.0" cy="203.7" r="5.21"/><circle cx="974.7" cy="255.2" r="5.21"/><circle cx="890.1" cy="244.0" r="5.21"/><circle cx="737.3" cy="150.3" r="5.21"/><circle cx="854.9" cy="213.2" r="5.21"/><circle cx="691.6" cy="186.6" r="5.21"/><circle cx="589.2" cy="249.5" r="5.21"/><circle cx="754.9" cy="242.2" r="5.21"/><circle cx="821.2" cy="213.1" r="5.21"/><circle cx="634.5" cy="186.9" r="5.21"/><circle cx="708.7" cy="237.9" r="5.21"/><circle cx="841.7" cy="234.9" r="5.21"/><circle cx="792.3" cy="203.0" r="5.21"/><circle cx="724.8" cy="205.1" r="5.21"/><circle cx="757.2" cy="173.7" r="5.21"/><circle cx="974.1" cy="248.9" r="5.21"/><circle cx="899.7" cy="206.3" r="5.21"/><circle cx="596.6" cy="176.2" r="5.21"/><circle cx="784.7" cy="181.5" r="5.21"/><circle cx="947.2" cy="248.2" r="5.21"/><circle cx="738.2" cy="833.7" r="5.21"/><circle cx="831.7" cy="822.6" r="5.21"/><circle cx="811.7" cy="185.0" r="5.21"/><circle cx="784.5" cy="189.3" r="5.21"/><circle cx="745.1" cy="159.3" r="5.21"/><circle cx="1017.1" cy="170.7" r="5.21"/><circle cx="752.1" cy="218.1" r="5.21"/><circle cx="984.3" cy="214.2" r="5.21"/><circle cx="968.0" cy="159.0" r="5.21"/><circle cx="735.0" cy="224.0" r="5.21"/><circle cx="826.8" cy="150.3" r="5.21"/><circle cx="1034.0" cy="819.4" r="5.21"/><circle cx="662.3" cy="168.2" r="5.21"/><circle cx="675.7" cy="193.8" r="5.21"/><circle cx="774.8" cy="174.9" r="5.21"/><circle cx="846.0" cy="156.6" r="5.21"/><circle cx="710.7" cy="205.1" r="5.21"/><circle cx="788.3" cy="248.5" r="5.21"/><circle cx="895.1" cy="245.4" r="5.21"/><circle cx="728.2" cy="211.1" r="5.21"/><circle cx="990.9" cy="239.5" r="5.21"/><circle cx="874.0" cy="190.0" r="5.21"/><circle cx="768.7" cy="170.8" r="5.21"/><circle cx="871.3" cy="165.4" r="5.21"/><circle cx="952.8" cy="176.4" r="5.21"/><circle cx="924.1" cy="181.6" r="5.21"/><circle cx="416.9" cy="795.9" r="5.21"/><circle cx="839.6" cy="229.3" r="5.21"/><circle cx="1020.3" cy="237.9" r="5.21"/><circle cx="803.0" cy="181.0" r="5.21"/><circle cx="783.0" cy="819.5" r="5.21"/><circle cx="779.0" cy="186.5" r="5.21"/><circle cx="838.5" cy="153.9" r="5.21"/><circle cx="893.7" cy="191.5" r="5.21"/><circle cx="756.5" cy="145.1" r="5.21"/><circle cx="949.1" cy="236.0" r="5.21"/><circle cx="892.0" cy="170.2" r="5.21"/><circle cx="703.0" cy="153.5" r="5.21"/><circle cx="993.5" cy="152.1" r="5.21"/><circle cx="645.4" cy="149.2" r="5.21"/><circle cx="709.3" cy="239.6" r="5.21"/><circle cx="856.5" cy="142.8" r="5.21"/><circle cx="545.6" cy="199.6" r="5.21"/><circle cx="658.8" cy="246.2" r="5.21"/><circle cx="527.9" cy="202.3" r="5.21"/><circle cx="995.2" cy="158.7" r="5.21"/><circle cx="801.3" cy="230.9" r="5.21"/><circle cx="915.6" cy="253.8" r="5.21"/><circle cx="939.0" cy="223.6" r="5.21"/><circle cx="710.7" cy="231.9" r="5.21"/><circle cx="944.8" cy="232.6" r="5.21"/><circle cx="861.6" cy="227.3" r="5.21"/><circle cx="876.1" cy="177.7" r="5.21"/><circle cx="867.1" cy="168.6" r="5.21"/><circle cx="810.9" cy="209.9" r="5.21"/><circle cx="988.9" cy="245.7" r="5.21"/><circle cx="817.4" cy="177.1" r="5.21"/><circle cx="962.0" cy="224.9" r="5.21"/><circle cx="895.2" cy="185.0" r="5.21"/><circle cx="786.2" cy="171.3" r="5.21"/><circle cx="762.7" cy="180.8" r="5.21"/><circle cx="818.0" cy="174.3" r="5.21"/><circle cx="767.7" cy="227.9" r="5.21"/><circle cx="754.1" cy="182.4" r="5.21"/><circle cx="667.6" cy="158.4" r="5.21"/><circle cx="755.1" cy="239.7" r="5.21"/><circle cx="872.3" cy="218.7" r="5.21"/><circle cx="808.9" cy="189.4" r="5.21"/><circle cx="798.6" cy="174.4" r="5.21"/><circle cx="827.8" cy="247.7" r="5.21"/><circle cx="987.1" cy="210.5" r="5.21"/><circle cx="823.1" cy="255.4" r="5.21"/><circle cx="956.6" cy="201.6" r="5.21"/><circle cx="815.5" cy="174.4" r="5.21"/><circle cx="969.7" cy="165.9" r="5.21"/><circle cx="979.4" cy="150.7" r="5.21"/><circle cx="650.5" cy="150.6" r="5.21"/><circle cx="749.4" cy="831.8" r="5.21"/><circle cx="870.0" cy="165.9" r="5.21"/><circle cx="910.1" cy="164.6" r="5.21"/><circle cx="711.4" cy="770.2" r="5.21"/><circle cx="899.0" cy="190.8" r="5.21"/><circle cx="740.7" cy="242.3" r="5.21"/><circle cx="768.5" cy="162.2" r="5.21"/><circle cx="737.9" cy="188.4" r="5.21"/><circle cx="643.4" cy="215.2" r="5.21"/><circle cx="855.0" cy="140.0" r="5.21"/><circle cx="810.7" cy="175.9" r="5.21"/><circle cx="916.2" cy="216.0" r="5.21"/><circle cx="1058.6" cy="777.0" r="5.21"/><circle cx="741.0" cy="139.7" r="5.21"/><circle cx="877.8" cy="142.5" r="5.21"/><circle cx="756.8" cy="243.4" r="5.21"/><circle cx="970.1" cy="140.1" r="5.21"/><circle cx="776.6" cy="244.0" r="5.21"/><circle cx="981.1" cy="247.3" r="5.21"/><circle cx="873.7" cy="244.2" r="5.21"/><circle cx="661.2" cy="234.7" r="5.21"/><circle cx="814.4" cy="740.1" r="5.21"/><circle cx="516.3" cy="218.3" r="5.21"/><circle cx="940.6" cy="182.5" r="5.21"/><circle cx="935.1" cy="168.6" r="5.21"/><circle cx="977.4" cy="221.9" r="5.21"/><circle cx="706.6" cy="172.0" r="5.21"/><circle cx="924.8" cy="144.2" r="5.21"/><circle cx="724.0" cy="246.1" r="5.21"/><circle cx="961.4" cy="221.3" r="5.21"/><circle cx="672.5" cy="139.4" r="5.21"/><circle cx="519.6" cy="177.5" r="5.21"/><circle cx="962.1" cy="212.9" r="5.21"/><circle cx="795.8" cy="246.4" r="5.21"/><circle cx="863.9" cy="141.2" r="5.21"/><circle cx="775.3" cy="165.6" r="5.21"/><circle cx="583.4" cy="835.3" r="5.21"/><circle cx="975.7" cy="170.8" r="5.21"/><circle cx="764.6" cy="223.0" r="5.21"/><circle cx="722.1" cy="138.9" r="5.21"/><circle cx="729.9" cy="151.1" r="5.21"/><circle cx="720.7" cy="214.7" r="5.21"/><circle cx="873.7" cy="195.3" r="5.21"/><circle cx="701.3" cy="181.1" r="5.21"/><circle cx="851.9" cy="183.2" r="5.21"/><circle cx="790.2" cy="140.1" r="5.21"/><circle cx="991.7" cy="225.8" r="5.21"/><circle cx="767.0" cy="228.9" r="5.21"/><circle cx="1008.4" cy="227.2" r="5.21"/><circle cx="585.9" cy="230.3" r="5.21"/><circle cx="942.9" cy="230.6" r="5.21"/><circle cx="755.3" cy="222.5" r="5.21"/><circle cx="764.4" cy="743.8" r="5.21"/><circle cx="949.0" cy="173.9" r="5.21"/><circle cx="683.1" cy="793.8" r="5.21"/><circle cx="894.8" cy="214.0" r="5.21"/><circle cx="900.0" cy="152.0" r="5.21"/><circle cx="640.0" cy="209.0" r="5.21"/><circle cx="746.7" cy="242.2" r="5.21"/><circle cx="1073.5" cy="809.3" r="5.21"/><circle cx="781.7" cy="166.0" r="5.21"/><circle cx="881.5" cy="243.8" r="5.21"/><circle cx="843.1" cy="177.2" r="5.21"/><circle cx="987.5" cy="214.0" r="5.21"/><circle cx="969.5" cy="228.8" r="5.21"/><circle cx="602.6" cy="253.9" r="5.21"/><circle cx="982.6" cy="223.7" r="5.21"/><circle cx="806.6" cy="158.4" r="5.21"/><circle cx="805.7" cy="147.7" r="5.21"/><circle cx="946.2" cy="247.3" r="5.21"/><circle cx="926.8" cy="146.7" r="5.21"/><circle cx="806.9" cy="245.8" r="5.21"/><circle cx="959.0" cy="229.9" r="5.21"/><circle cx="698.1" cy="201.4" r="5.21"/><circle cx="665.2" cy="143.9" r="5.21"/><circle cx="856.2" cy="147.4" r="5.21"/><circle cx="717.9" cy="180.5" r="5.21"/><circle cx="876.3" cy="154.2" r="5.21"/><circle cx="965.3" cy="139.4" r="5.21"/><circle cx="851.2" cy="173.7" r="5.21"/><circle cx="804.9" cy="194.2" r="5.21"/><circle cx="820.1" cy="239.8" r="5.21"/><circle cx="896.6" cy="250.4" r="5.21"/><circle cx="774.9" cy="150.3" r="5.21"/><circle cx="1003.4" cy="177.9" r="5.21"/><circle cx="868.3" cy="146.1" r="5.21"/><circle cx="747.5" cy="151.2" r="5.21"/><circle cx="744.4" cy="203.3" r="5.21"/><circle cx="732.5" cy="240.8" r="5.21"/><circle cx="943.0" cy="161.6" r="5.21"/><circle cx="712.8" cy="824.1" r="5.21"/><circle cx="932.7" cy="192.7" r="5.21"/><circle cx="1005.6" cy="159.8" r="5.21"/><circle cx="758.8" cy="159.3" r="5.21"/><circle cx="354.7" cy="149.4" r="5.21"/><circle cx="615.5" cy="205.1" r="5.21"/><circle cx="921.3" cy="141.5" r="5.21"/><circle cx="814.2" cy="249.1" r="5.21"/><circle cx="933.9" cy="198.4" r="5.21"/><circle cx="783.6" cy="243.8" r="5.21"/><circle cx="902.0" cy="219.2" r="5.21"/><circle cx="723.8" cy="229.2" r="5.21"/><circle cx="595.0" cy="794.4" r="5.21"/><circle cx="770.1" cy="837.8" r="5.21"/><circle cx="630.1" cy="250.0" r="5.21"/><circle cx="963.0" cy="187.3" r="5.21"/><circle cx="895.1" cy="230.1" r="5.21"/><circle cx="643.0" cy="161.7" r="5.21"/><circle cx="835.5" cy="223.2" r="5.21"/><circle cx="675.7" cy="175.3" r="5.21"/><circle cx="988.6" cy="215.4" r="5.21"/><circle cx="959.3" cy="140.9" r="5.21"/><circle cx="597.9" cy="155.5" r="5.21"/><circle cx="911.5" cy="188.2" r="5.21"/><circle cx="826.1" cy="140.8" r="5.21"/><circle cx="829.8" cy="159.7" r="5.21"/><circle cx="775.9" cy="246.4" r="5.21"/><circle cx="819.3" cy="178.1" r="5.21"/><circle cx="925.5" cy="142.0" r="5.21"/><circle cx="705.2" cy="179.4" r="5.21"/><circle cx="931.6" cy="254.8" r="5.21"/><circle cx="806.6" cy="140.4" r="5.21"/><circle cx="755.2" cy="138.8" r="5.21"/><circle cx="773.0" cy="179.3" r="5.21"/><circle cx="952.0" cy="232.9" r="5.21"/><circle cx="750.6" cy="252.5" r="5.21"/><circle cx="946.4" cy="208.5" r="5.21"/><circle cx="864.3" cy="164.5" r="5.21"/><circle cx="926.0" cy="830.1" r="5.21"/><circle cx="725.5" cy="159.1" r="5.21"/><circle cx="1008.1" cy="195.6" r="5.21"/><circle cx="648.8" cy="773.1" r="5.21"/><circle cx="950.0" cy="181.1" r="5.21"/><circle cx="722.6" cy="222.3" r="5.21"/><circle cx="963.1" cy="244.0" r="5.21"/><circle cx="795.4" cy="138.6" r="5.21"/><circle cx="831.2" cy="217.3" r="5.21"/><circle cx="1020.0" cy="196.3" r="5.21"/><circle cx="812.7" cy="743.9" r="5.21"/><circle cx="750.5" cy="171.6" r="5.21"/><circle cx="742.1" cy="161.1" r="5.21"/><circle cx="576.8" cy="173.0" r="5.21"/><circle cx="750.4" cy="228.3" r="5.21"/><circle cx="1027.2" cy="225.7" r="5.21"/><circle cx="669.9" cy="154.8" r="5.21"/><circle cx="770.5" cy="747.2" r="5.21"/><circle cx="940.2" cy="251.7" r="5.21"/><circle cx="724.6" cy="226.8" r="5.21"/><circle cx="689.7" cy="155.9" r="5.21"/><circle cx="978.3" cy="247.5" r="5.21"/><circle cx="977.0" cy="760.4" r="5.21"/><circle cx="701.6" cy="184.8" r="5.21"/><circle cx="827.2" cy="163.6" r="5.21"/><circle cx="794.9" cy="167.9" r="5.21"/><circle cx="873.5" cy="197.5" r="5.21"/><circle cx="717.1" cy="156.0" r="5.21"/><circle cx="777.7" cy="146.8" r="5.21"/><circle cx="817.8" cy="170.5" r="5.21"/><circle cx="860.2" cy="141.5" r="5.21"/><circle cx="933.2" cy="194.2" r="5.21"/><circle cx="875.2" cy="179.4" r="5.21"/><circle cx="564.0" cy="227.7" r="5.21"/><circle cx="852.4" cy="800.9" r="5.21"/><circle cx="815.6" cy="162.5" r="5.21"/><circle cx="863.3" cy="824.8" r="5.21"/><circle cx="837.6" cy="214.6" r="5.21"/><circle cx="939.0" cy="222.9" r="5.21"/><circle cx="716.0" cy="201.0" r="5.21"/><circle cx="480.5" cy="240.5" r="5.21"/><circle cx="926.7" cy="156.0" r="5.21"/><circle cx="999.3" cy="254.1" r="5.21"/><circle cx="986.5" cy="184.2" r="5.21"/><circle cx="588.8" cy="228.3" r="5.21"/><circle cx="521.7" cy="148.3" r="5.21"/><circle cx="875.1" cy="254.8" r="5.21"/><circle cx="937.3" cy="145.6" r="5.21"/><circle cx="966.5" cy="163.0" r="5.21"/><circle cx="947.6" cy="208.2" r="5.21"/><circle cx="779.6" cy="231.2" r="5.21"/><circle cx="698.4" cy="781.4" r="5.21"/><circle cx="910.6" cy="176.2" r="5.21"/><circle cx="731.0" cy="209.4" r="5.21"/><circle cx="631.1" cy="202.9" r="5.21"/><circle cx="471.0" cy="187.0" r="5.21"/><circle cx="881.6" cy="245.0" r="5.21"/><circle cx="851.3" cy="207.3" r="5.21"/><circle cx="793.2" cy="241.1" r="5.21"/><circle cx="1004.1" cy="206.1" r="5.21"/><circle cx="758.9" cy="207.6" r="5.21"/><circle cx="797.8" cy="216.4" r="5.21"/><circle cx="718.2" cy="197.6" r="5.21"/><circle cx="837.3" cy="152.6" r="5.21"/><circle cx="958.6" cy="149.4" r="5.21"/><circle cx="759.7" cy="163.1" r="5.21"/><circle cx="708.2" cy="192.6" r="5.21"/><circle cx="782.6" cy="229.1" r="5.21"/><circle cx="837.4" cy="232.7" r="5.21"/><circle cx="691.0" cy="200.8" r="5.21"/><circle cx="784.4" cy="216.0" r="5.21"/><circle cx="1018.5" cy="145.5" r="5.21"/><circle cx="772.8" cy="199.9" r="5.21"/><circle cx="668.1" cy="166.6" r="5.21"/><circle cx="923.0" cy="190.2" r="5.21"/><circle cx="756.2" cy="157.4" r="5.21"/><circle cx="697.6" cy="186.0" r="5.21"/><circle cx="813.5" cy="152.6" r="5.21"/><circle cx="957.6" cy="182.3" r="5.21"/><circle cx="698.6" cy="156.0" r="5.21"/><circle cx="783.0" cy="198.7" r="5.21"/><circle cx="927.9" cy="190.7" r="5.21"/><circle cx="720.6" cy="175.7" r="5.21"/><circle cx="658.4" cy="222.5" r="5.21"/><circle cx="811.0" cy="222.5" r="5.21"/><circle cx="943.8" cy="741.2" r="5.21"/><circle cx="908.4" cy="154.6" r="5.21"/><circle cx="542.2" cy="199.7" r="5.21"/><circle cx="949.1" cy="239.9" r="5.21"/><circle cx="758.4" cy="145.5" r="5.21"/><circle cx="691.0" cy="252.1" r="5.21"/><circle cx="1048.5" cy="186.4" r="5.21"/><circle cx="848.6" cy="144.1" r="5.21"/></g><path d="M203.79,463.26 L213.30,458.41 L222.82,453.58 L232.34,448.76 L241.85,443.97 L251.37,439.21 L260.88,434.47 L270.40,429.76 L279.91,425.09 L289.43,420.44 L298.94,415.84 L308.46,411.27 L317.97,406.75 L327.49,402.27 L337.00,397.83 L346.52,393.43 L356.03,389.09 L365.55,384.80 L375.07,380.55 L384.58,376.36 L394.10,372.23 L403.61,368.14 L413.13,364.12 L422.64,360.15 L432.16,356.24 L441.67,352.39 L451.19,348.60 L460.70,344.87 L470.22,341.20 L479.73,337.59 L489.25,334.04 L498.76,330.56 L508.28,327.14 L517.80,323.78 L527.31,320.48 L536.83,317.25 L546.34,314.08 L555.86,310.97 L565.37,307.93 L574.89,304.94 L584.40,302.02 L593.92,299.16 L603.43,296.36 L612.95,293.62 L622.46,290.94 L631.98,288.33 L641.49,285.76 L651.01,283.26 L660.52,280.81 L670.04,278.42 L679.56,276.09 L689.07,273.81 L698.59,271.58 L708.10,269.40 L717.62,267.27 L727.13,265.19 L736.65,263.16 L746.16,261.17 L755.68,259.21 L765.19,257.29 L774.71,255.40 L784.22,253.51 L793.74,251.63 L803.25,249.72 L812.77,247.76 L822.29,245.74 L831.80,243.68 L841.32,241.62 L850.83,239.57 L860.35,237.58 L869.86,235.64 L879.38,233.78 L888.89,231.99 L898.41,230.27 L907.92,228.63 L917.44,227.06 L926.95,225.56 L936.47,224.13 L945.98,222.77 L955.50,221.47 L955.50,230.09 L945.98,231.16 L936.47,232.26 L926.95,233.40 L917.44,234.57 L907.92,235.78 L898.41,237.04 L888.89,238.34 L879.38,239.69 L869.86,241.09 L860.35,242.55 L850.83,244.09 L841.32,245.72 L831.80,247.48 L822.29,249.40 L812.77,251.51 L803.25,253.84 L793.74,256.39 L784.22,259.13 L774.71,262.05 L765.19,265.13 L755.68,268.38 L746.16,271.78 L736.65,275.33 L727.13,279.05 L717.62,282.92 L708.10,286.94 L698.59,291.13 L689.07,295.48 L679.56,299.99 L670.04,304.67 L660.52,309.52 L651.01,314.53 L641.49,319.71 L631.98,325.06 L622.46,330.58 L612.95,336.26 L603.43,342.11 L593.92,348.13 L584.40,354.31 L574.89,360.64 L565.37,367.13 L555.86,373.77 L546.34,380.56 L536.83,387.48 L527.31,394.54 L517.80,401.73 L508.28,409.04 L498.76,416.46 L489.25,423.98 L479.73,431.59 L470.22,439.29 L460.70,447.06 L451.19,454.89 L441.67,462.77 L432.16,470.70 L422.64,478.65 L413.13,486.62 L403.61,494.59 L394.10,502.56 L384.58,510.51 L375.07,518.43 L365.55,526.31 L356.03,534.13 L346.52,541.89 L337.00,549.58 L327.49,557.18 L317.97,564.68 L308.46,572.08 L298.94,579.38 L289.43,586.54 L279.91,593.59 L270.40,600.49 L260.88,607.26 L251.37,613.88 L241.85,620.35 L232.34,626.67 L222.82,632.82 L213.30,638.82 L203.79,644.65Z" fill="#999999" fill-opacity="0.475"/><path d="M203.79,561.18 L213.30,555.10 L222.82,548.95 L232.34,542.75 L241.85,536.49 L251.37,530.20 L260.88,523.87 L270.40,517.50 L279.91,511.11 L289.43,504.69 L298.94,498.26 L308.46,491.83 L317.97,485.39 L327.49,478.96 L337.00,472.53 L346.52,466.13 L356.03,459.74 L365.55,453.39 L375.07,447.07 L384.58,440.79 L394.10,434.56 L403.61,428.38 L413.13,422.25 L422.64,416.19 L432.16,410.19 L441.67,404.27 L451.19,398.42 L460.70,392.65 L470.22,386.96 L479.73,381.36 L489.25,375.85 L498.76,370.44 L508.28,365.12 L517.80,359.90 L527.31,354.78 L536.83,349.77 L546.34,344.85 L555.86,340.05 L565.37,335.35 L574.89,330.76 L584.40,326.28 L593.92,321.90 L603.43,317.64 L612.95,313.48 L622.46,309.44 L631.98,305.50 L641.49,301.66 L651.01,297.94 L660.52,294.32 L670.04,290.81 L679.56,287.40 L689.07,284.09 L698.59,280.88 L708.10,277.77 L717.62,274.76 L727.13,271.85 L736.65,269.03 L746.16,266.30 L755.68,263.66 L765.19,261.11 L774.71,258.64 L784.22,256.26 L793.74,253.96 L803.25,251.74 L812.77,249.60 L822.29,247.54 L831.80,245.55 L841.32,243.63 L850.83,241.78 L860.35,240.00 L869.86,238.28 L879.38,236.63 L888.89,235.04 L898.41,233.51 L907.92,232.03 L917.44,230.62 L926.95,229.25 L936.47,227.94 L945.98,226.68 L955.50,225.47" stroke="#F25F5A" stroke-width="5.69" fill="none" stroke-linejoin="round"/><path d="M203.79,236.96 L213.30,236.69 L222.82,236.42 L232.34,236.15 L241.85,235.88 L251.37,235.61 L260.88,235.34 L270.40,235.08 L279.91,234.81 L289.43,234.54 L298.94,234.27 L308.46,234.00 L317.97,233.74 L327.49,233.47 L337.00,233.20 L346.52,232.93 L356.03,232.66 L365.55,232.39 L375.07,232.12 L384.58,231.85 L394.10,231.58 L403.61,231.30 L413.13,231.03 L422.64,230.75 L432.16,230.47 L441.67,230.19 L451.19,229.90 L460.70,229.61 L470.22,229.32 L479.73,229.03 L489.25,228.73 L498.76,228.43 L508.28,228.12 L517.80,227.80 L527.31,227.48 L536.83,227.16 L546.34,226.82 L555.86,226.48 L565.37,226.12 L574.89,225.76 L584.40,225.38 L593.92,225.00 L603.43,224.59 L612.95,224.17 L622.46,223.73 L631.98,223.28 L641.49,222.80 L651.01,222.30 L660.52,221.78 L670.04,221.23 L679.56,220.66 L689.07,220.06 L698.59,219.44 L708.10,218.80 L717.62,218.13 L727.13,217.44 L736.65,216.74 L746.16,216.02 L755.68,215.30 L765.19,214.57 L774.71,213.85 L784.22,213.13 L793.74,212.41 L803.25,211.71 L812.77,211.03 L822.29,210.36 L831.80,209.71 L841.32,209.08 L850.83,208.48 L860.35,207.89 L869.86,207.33 L879.38,206.80 L888.89,206.28 L898.41,205.79 L907.92,205.32 L917.44,204.87 L926.95,204.45 L936.47,204.04 L945.98,203.66 L955.50,203.29 L955.50,225.47 L945.98,225.74 L936.47,226.02 L926.95,226.32 L917.44,226.62 L907.92,226.94 L898.41,227.27 L888.89,227.62 L879.38,227.98 L869.86,228.36 L860.35,228.77 L850.83,229.20 L841.32,229.65 L831.80,230.14 L822.29,230.66 L812.77,231.22 L803.25,231.83 L793.74,232.49 L784.22,233.20 L774.71,233.97 L765.19,234.82 L755.68,235.75 L746.16,236.76 L736.65,237.87 L727.13,239.08 L717.62,240.40 L708.10,241.85 L698.59,243.42 L689.07,245.13 L679.56,246.97 L670.04,248.97 L660.52,251.11 L651.01,253.41 L641.49,255.87 L631.98,258.50 L622.46,261.29 L612.95,264.26 L603.43,267.40 L593.92,270.72 L584.40,274.22 L574.89,277.92 L565.37,281.80 L555.86,285.88 L546.34,290.15 L536.83,294.63 L527.31,299.31 L517.80,304.20 L508.28,309.29 L498.76,314.60 L489.25,320.12 L479.73,325.85 L470.22,331.79 L460.70,337.94 L451.19,344.31 L441.67,350.88 L432.16,357.65 L422.64,364.63 L413.13,371.80 L403.61,379.16 L394.10,386.69 L384.58,394.41 L375.07,402.28 L365.55,410.31 L356.03,418.49 L346.52,426.79 L337.00,435.21 L327.49,443.74 L317.97,452.36 L308.46,461.05 L298.94,469.80 L289.43,478.60 L279.91,487.42 L270.40,496.26 L260.88,505.09 L251.37,513.90 L241.85,522.67 L232.34,531.38 L222.82,540.03 L213.30,548.59 L203.79,557.05Z" fill="#999999" fill-opacity="0.475"/><path d="M203.79,346.13 L213.30,342.39 L222.82,338.71 L232.34,335.09 L241.85,331.54 L251.37,328.06 L260.88,324.64 L270.40,321.28 L279.91,317.99 L289.43,314.76 L298.94,311.60 L308.46,308.51 L317.97,305.48 L327.49,302.51 L337.00,299.60 L346.52,296.76 L356.03,293.99 L365.55,291.27 L375.07,288.62 L384.58,286.03 L394.10,283.49 L403.61,281.02 L413.13,278.61 L422.64,276.26 L432.16,273.96 L441.67,271.72 L451.19,269.54 L460.70,267.41 L470.22,265.33 L479.73,263.31 L489.25,261.34 L498.76,259.43 L508.28,257.56 L517.80,255.74 L527.31,253.97 L536.83,252.25 L546.34,250.58 L555.86,248.95 L565.37,247.37 L574.89,245.83 L584.40,244.33 L593.92,242.88 L603.43,241.47 L612.95,240.09 L622.46,238.76 L631.98,237.47 L641.49,236.21 L651.01,234.99 L660.52,233.80 L670.04,232.65 L679.56,231.53 L689.07,230.45 L698.59,229.39 L708.10,228.37 L717.62,227.38 L727.13,226.42 L736.65,225.49 L746.16,224.59 L755.68,223.71 L765.19,222.86 L774.71,222.04 L784.22,221.24 L793.74,220.47 L803.25,219.72 L812.77,218.99 L822.29,218.28 L831.80,217.60 L841.32,216.94 L850.83,216.30 L860.35,215.68 L869.86,215.08 L879.38,214.49 L888.89,213.93 L898.41,213.38 L907.92,212.85 L917.44,212.34 L926.95,211.85 L936.47,211.37 L945.98,210.90 L955.50,210.45" stroke="#17B2B6" stroke-width="5.69" fill="none" stroke-linejoin="round"/><path d="M94.95,197.25H1131.9" stroke="#F60000" stroke-width="2.85" stroke-dasharray="11.38 11.38" fill="none"/></g><rect x="95.6" y="104.15" width="1035.60" height="771.15" fill="none" stroke="#272727" stroke-width="1.8"/><path d="M177.60,875.8V883.13M436.90,875.8V883.13M696.20,875.8V883.13M955.50,875.8V883.13M94.95,782.60H87.62M94.95,548.40H87.62M94.95,314.20H87.62" stroke="#272727" stroke-width="2.85" fill="none"/><text x="177.60" y="905.8" font-size="23.47" fill="#4D4D4D" text-anchor="middle">1</text><text x="436.90" y="905.8" font-size="23.47" fill="#4D4D4D" text-anchor="middle">2</text><text x="696.20" y="905.8" font-size="23.47" fill="#4D4D4D" text-anchor="middle">3</text><text x="955.50" y="905.8" font-size="23.47" fill="#4D4D4D" text-anchor="middle">4</text><text x="81.6" y="790.80" font-size="23.47" fill="#4D4D4D" text-anchor="end">0.0</text><text x="81.6" y="556.60" font-size="23.47" fill="#4D4D4D" text-anchor="end">0.4</text><text x="81.6" y="323.40" font-size="23.47" fill="#4D4D4D" text-anchor="end">0.8</text><text transform="translate(613.43,939.9) scale(1.012,1.045)" font-size="29.33" fill="#000" text-anchor="middle">High School GPA</text><text transform="translate(36.2,490.80) rotate(-90) scale(1,1.055)" font-size="29.33" fill="#000" text-anchor="middle">Ever Pass or not</text><text transform="translate(1175.6,447) scale(1,1.03)" font-size="29.33" fill="#000">Gender</text><rect x="1176.2" y="465" width="45.8" height="45.85" fill="#999999" fill-opacity="0.475"/><rect x="1176.2" y="510.85" width="45.8" height="45.85" fill="#999999" fill-opacity="0.475"/><path d="M1180.78,487.9H1217.42" stroke="#F25F5A" stroke-width="5.69"/><path d="M1180.78,533.75H1217.42" stroke="#17B2B6" stroke-width="5.69"/><text x="1236.2" y="496.7" font-size="23.47" fill="#000">Female</text><text x="1236.2" y="542.55" font-size="23.47" fill="#000">Male</text></svg></div></body></html>
